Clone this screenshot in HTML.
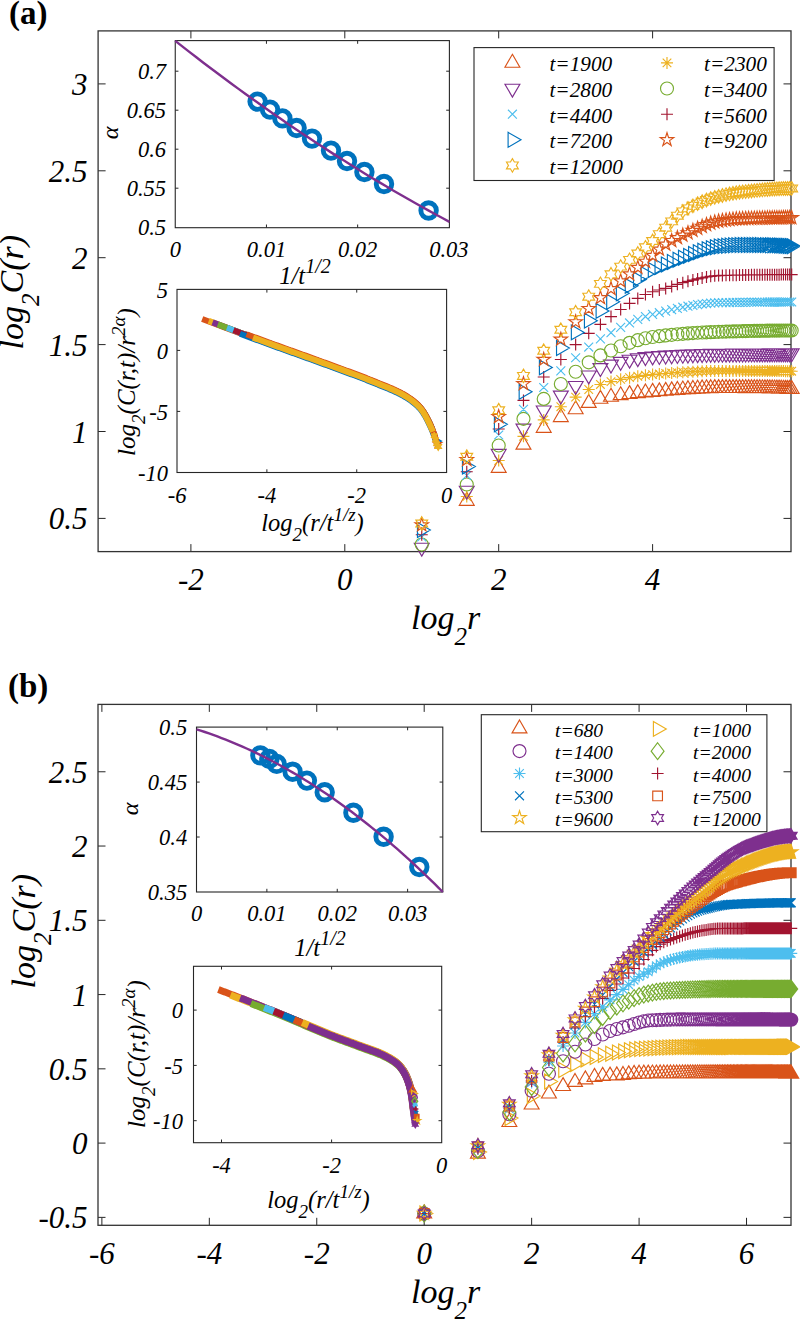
<!DOCTYPE html>
<html><head><meta charset="utf-8"><style>
html,body{margin:0;padding:0;background:#fff;overflow:hidden;width:800px;height:1319px;}
svg{display:block;}
text{font-family:"Liberation Serif",serif;fill:#000;}
</style></head><body>
<svg width="800" height="1319" viewBox="0 0 800 1319">
<rect width="800" height="1319" fill="#fff"/>
<text x="9" y="23.5" font-size="33" text-anchor="start" font-style="normal" font-weight="bold">(a)</text>
<path d="M190.9 551.6V544.1M190.9 30.9V38.4M344.8 551.6V544.1M344.8 30.9V38.4M498.7 551.6V544.1M498.7 30.9V38.4M652.6 551.6V544.1M652.6 30.9V38.4M98.1 518.4H105.6M791 518.4H783.5M98.1 431.5H105.6M791 431.5H783.5M98.1 344.6H105.6M791 344.6H783.5M98.1 257.7H105.6M791 257.7H783.5M98.1 170.8H105.6M791 170.8H783.5M98.1 83.9H105.6M791 83.9H783.5" stroke="#262626" stroke-width="1" fill="none"/>
<rect x="98.1" y="30.9" width="692.9" height="520.7" stroke="#333" stroke-width="1.3" fill="none"/>
<text x="87.5" y="529.4" font-size="31" text-anchor="end" font-style="italic" font-weight="normal">0.5</text>
<text x="87.5" y="442.5" font-size="31" text-anchor="end" font-style="italic" font-weight="normal">1</text>
<text x="87.5" y="355.6" font-size="31" text-anchor="end" font-style="italic" font-weight="normal">1.5</text>
<text x="87.5" y="268.7" font-size="31" text-anchor="end" font-style="italic" font-weight="normal">2</text>
<text x="87.5" y="181.8" font-size="31" text-anchor="end" font-style="italic" font-weight="normal">2.5</text>
<text x="87.5" y="94.9" font-size="31" text-anchor="end" font-style="italic" font-weight="normal">3</text>
<text x="190.9" y="590" font-size="31" text-anchor="middle" font-style="italic" font-weight="normal">-2</text>
<text x="344.8" y="590" font-size="31" text-anchor="middle" font-style="italic" font-weight="normal">0</text>
<text x="498.7" y="590" font-size="31" text-anchor="middle" font-style="italic" font-weight="normal">2</text>
<text x="652.6" y="590" font-size="31" text-anchor="middle" font-style="italic" font-weight="normal">4</text>
<text x="411" y="629.4" font-size="34" text-anchor="start" font-style="italic" font-weight="normal">log<tspan font-size="25" dy="16">2</tspan><tspan dy="-16">r</tspan></text>
<g transform="translate(23.2 349.5) rotate(-90)">
<text x="0" y="0" font-size="34" text-anchor="start" font-style="italic" font-weight="normal">log<tspan font-size="25" dy="16">2</tspan><tspan dy="-16">C(r)</tspan></text>
</g>
<path d="M466.76 492.4L474.21 505.3L459.31 505.3ZM498.7 459.4L506.15 472.3L491.25 472.3ZM523.47 436.27L530.92 449.17L516.02 449.17ZM543.71 419.4L551.16 432.3L536.26 432.3ZM560.83 408.68L568.28 421.58L553.38 421.58ZM575.65 400.8L583.1 413.7L568.2 413.7ZM588.73 394.46L596.18 407.36L581.28 407.36ZM600.42 390.37L607.87 403.27L592.97 403.27ZM611 388.31L618.45 401.21L603.55 401.21ZM620.66 386.79L628.11 399.69L613.21 399.69ZM629.55 385.63L637 398.53L622.1 398.53ZM637.78 384.73L645.23 397.63L630.33 397.63ZM645.44 384.01L652.89 396.91L637.99 396.91ZM652.6 383.4L660.05 396.3L645.15 396.3ZM659.33 382.85L666.78 395.75L651.88 395.75ZM665.68 382.34L673.13 395.24L658.23 395.24ZM671.68 381.87L679.13 394.77L664.23 394.77ZM677.37 381.44L684.82 394.34L669.92 394.34ZM682.79 381.05L690.24 393.95L675.34 393.95ZM687.95 380.72L695.4 393.62L680.5 393.62ZM692.89 380.42L700.34 393.32L685.44 393.32ZM697.61 380.18L705.06 393.08L690.16 393.08ZM702.14 379.98L709.59 392.88L694.69 392.88ZM706.5 379.82L713.95 392.72L699.05 392.72ZM710.69 379.71L718.14 392.61L703.24 392.61ZM714.73 379.64L722.18 392.54L707.28 392.54ZM718.62 379.6L726.07 392.5L711.17 392.5ZM722.39 379.6L729.84 392.5L714.94 392.5ZM726.03 379.6L733.48 392.5L718.58 392.5ZM729.55 379.6L737 392.5L722.1 392.5ZM732.97 379.61L740.42 392.51L725.52 392.51ZM736.28 379.61L743.73 392.51L728.83 392.51ZM739.5 379.62L746.95 392.52L732.05 392.52ZM742.63 379.63L750.08 392.53L735.18 392.53ZM745.67 379.65L753.12 392.55L738.22 392.55ZM748.63 379.66L756.08 392.56L741.18 392.56ZM751.51 379.69L758.96 392.59L744.06 392.59ZM754.32 379.71L761.77 392.61L746.87 392.61ZM757.06 379.74L764.51 392.64L749.61 392.64ZM759.74 379.77L767.19 392.67L752.29 392.67ZM762.35 379.81L769.8 392.71L754.9 392.71ZM764.9 379.85L772.35 392.75L757.45 392.75ZM767.4 379.89L774.85 392.79L759.95 392.79ZM769.84 379.94L777.29 392.84L762.39 392.84ZM772.23 379.99L779.68 392.89L764.78 392.89ZM774.56 380.04L782.01 392.94L767.11 392.94ZM776.85 380.1L784.3 393L769.4 393ZM779.09 380.16L786.54 393.06L771.64 393.06ZM781.29 380.23L788.74 393.13L773.84 393.13ZM783.45 380.29L790.9 393.19L776 393.19ZM785.56 380.37L793.01 393.27L778.11 393.27ZM787.64 380.44L795.09 393.34L780.19 393.34ZM789.68 380.52L797.13 393.42L782.23 393.42ZM791.68 380.6L799.13 393.5L784.23 393.5Z" stroke="#D95319" fill="none" stroke-width="1.15"/>
<path d="M460.76 496.5L472.76 496.5M466.76 490.5L466.76 502.5M462.46 492.2L471.06 500.8M462.46 500.8L471.06 492.2M492.7 460.5L504.7 460.5M498.7 454.5L498.7 466.5M494.4 456.2L503 464.8M494.4 464.8L503 456.2M517.47 436.37L529.47 436.37M523.47 430.37L523.47 442.37M519.17 432.07L527.77 440.67M519.17 440.67L527.77 432.07M537.71 419.9L549.71 419.9M543.71 413.9L543.71 425.9M539.41 415.6L548.01 424.2M539.41 424.2L548.01 415.6M554.83 406.73L566.83 406.73M560.83 400.73L560.83 412.73M556.53 402.43L565.13 411.03M556.53 411.03L565.13 402.43M569.65 397.1L581.65 397.1M575.65 391.1L575.65 403.1M571.35 392.8L579.95 401.4M571.35 401.4L579.95 392.8M582.73 389.5L594.73 389.5M588.73 383.5L588.73 395.5M584.43 385.2L593.03 393.8M584.43 393.8L593.03 385.2M594.42 384.46L606.42 384.46M600.42 378.46L600.42 390.46M596.12 380.16L604.72 388.76M596.12 388.76L604.72 380.16M605 381.59L617 381.59M611 375.59L611 387.59M606.7 377.29L615.3 385.89M606.7 385.89L615.3 377.29M614.66 379.36L626.66 379.36M620.66 373.36L620.66 385.36M616.36 375.06L624.96 383.66M616.36 383.66L624.96 375.06M623.55 377.64L635.55 377.64M629.55 371.64L629.55 383.64M625.25 373.34L633.85 381.94M625.25 381.94L633.85 373.34M631.78 376.32L643.78 376.32M637.78 370.32L637.78 382.32M633.48 372.02L642.08 380.62M633.48 380.62L642.08 372.02M639.44 375.32L651.44 375.32M645.44 369.32L645.44 381.32M641.14 371.02L649.74 379.62M641.14 379.62L649.74 371.02M646.6 374.6L658.6 374.6M652.6 368.6L652.6 380.6M648.3 370.3L656.9 378.9M648.3 378.9L656.9 370.3M653.33 374.02L665.33 374.02M659.33 368.02L659.33 380.02M655.03 369.72L663.63 378.32M655.03 378.32L663.63 369.72M659.68 373.5L671.68 373.5M665.68 367.5L665.68 379.5M661.38 369.2L669.98 377.8M661.38 377.8L669.98 369.2M665.68 373.02L677.68 373.02M671.68 367.02L671.68 379.02M667.38 368.72L675.98 377.32M667.38 377.32L675.98 368.72M671.37 372.6L683.37 372.6M677.37 366.6L677.37 378.6M673.07 368.3L681.67 376.9M673.07 376.9L681.67 368.3M676.79 372.24L688.79 372.24M682.79 366.24L682.79 378.24M678.49 367.94L687.09 376.54M678.49 376.54L687.09 367.94M681.95 371.92L693.95 371.92M687.95 365.92L687.95 377.92M683.65 367.62L692.25 376.22M683.65 376.22L692.25 367.62M686.89 371.65L698.89 371.65M692.89 365.65L692.89 377.65M688.59 367.35L697.19 375.95M688.59 375.95L697.19 367.35M691.61 371.42L703.61 371.42M697.61 365.42L697.61 377.42M693.31 367.12L701.91 375.72M693.31 375.72L701.91 367.12M696.14 371.24L708.14 371.24M702.14 365.24L702.14 377.24M697.84 366.94L706.44 375.54M697.84 375.54L706.44 366.94M700.5 371.1L712.5 371.1M706.5 365.1L706.5 377.1M702.2 366.8L710.8 375.4M702.2 375.4L710.8 366.8M704.69 371L716.69 371M710.69 365L710.69 377M706.39 366.7L714.99 375.3M706.39 375.3L714.99 366.7M708.73 370.93L720.73 370.93M714.73 364.93L714.73 376.93M710.43 366.63L719.03 375.23M710.43 375.23L719.03 366.63M712.62 370.9L724.62 370.9M718.62 364.9L718.62 376.9M714.32 366.6L722.92 375.2M714.32 375.2L722.92 366.6M716.39 370.9L728.39 370.9M722.39 364.9L722.39 376.9M718.09 366.6L726.69 375.2M718.09 375.2L726.69 366.6M720.03 370.9L732.03 370.9M726.03 364.9L726.03 376.9M721.73 366.6L730.33 375.2M721.73 375.2L730.33 366.6M723.55 370.9L735.55 370.9M729.55 364.9L729.55 376.9M725.25 366.6L733.85 375.2M725.25 375.2L733.85 366.6M726.97 370.9L738.97 370.9M732.97 364.9L732.97 376.9M728.67 366.6L737.27 375.2M728.67 375.2L737.27 366.6M730.28 370.9L742.28 370.9M736.28 364.9L736.28 376.9M731.98 366.6L740.58 375.2M731.98 375.2L740.58 366.6M733.5 370.91L745.5 370.91M739.5 364.91L739.5 376.91M735.2 366.61L743.8 375.21M735.2 375.21L743.8 366.61M736.63 370.91L748.63 370.91M742.63 364.91L742.63 376.91M738.33 366.61L746.93 375.21M738.33 375.21L746.93 366.61M739.67 370.91L751.67 370.91M745.67 364.91L745.67 376.91M741.37 366.61L749.97 375.21M741.37 375.21L749.97 366.61M742.63 370.92L754.63 370.92M748.63 364.92L748.63 376.92M744.33 366.62L752.93 375.22M744.33 375.22L752.93 366.62M745.51 370.93L757.51 370.93M751.51 364.93L751.51 376.93M747.21 366.63L755.81 375.23M747.21 375.23L755.81 366.63M748.32 370.93L760.32 370.93M754.32 364.93L754.32 376.93M750.02 366.63L758.62 375.23M750.02 375.23L758.62 366.63M751.06 370.94L763.06 370.94M757.06 364.94L757.06 376.94M752.76 366.64L761.36 375.24M752.76 375.24L761.36 366.64M753.74 370.95L765.74 370.95M759.74 364.95L759.74 376.95M755.44 366.65L764.04 375.25M755.44 375.25L764.04 366.65M756.35 370.96L768.35 370.96M762.35 364.96L762.35 376.96M758.05 366.66L766.65 375.26M758.05 375.26L766.65 366.66M758.9 370.97L770.9 370.97M764.9 364.97L764.9 376.97M760.6 366.67L769.2 375.27M760.6 375.27L769.2 366.67M761.4 370.99L773.4 370.99M767.4 364.99L767.4 376.99M763.1 366.69L771.7 375.29M763.1 375.29L771.7 366.69M763.84 371L775.84 371M769.84 365L769.84 377M765.54 366.7L774.14 375.3M765.54 375.3L774.14 366.7M766.23 371.02L778.23 371.02M772.23 365.02L772.23 377.02M767.93 366.72L776.53 375.32M767.93 375.32L776.53 366.72M768.56 371.03L780.56 371.03M774.56 365.03L774.56 377.03M770.26 366.73L778.86 375.33M770.26 375.33L778.86 366.73M770.85 371.05L782.85 371.05M776.85 365.05L776.85 377.05M772.55 366.75L781.15 375.35M772.55 375.35L781.15 366.75M773.09 371.07L785.09 371.07M779.09 365.07L779.09 377.07M774.79 366.77L783.39 375.37M774.79 375.37L783.39 366.77M775.29 371.09L787.29 371.09M781.29 365.09L781.29 377.09M776.99 366.79L785.59 375.39M776.99 375.39L785.59 366.79M777.45 371.11L789.45 371.11M783.45 365.11L783.45 377.11M779.15 366.81L787.75 375.41M779.15 375.41L787.75 366.81M779.56 371.13L791.56 371.13M785.56 365.13L785.56 377.13M781.26 366.83L789.86 375.43M781.26 375.43L789.86 366.83M781.64 371.15L793.64 371.15M787.64 365.15L787.64 377.15M783.34 366.85L791.94 375.45M783.34 375.45L791.94 366.85M783.68 371.18L795.68 371.18M789.68 365.18L789.68 377.18M785.38 366.88L793.98 375.48M785.38 375.48L793.98 366.88M785.68 371.2L797.68 371.2M791.68 365.2L791.68 377.2M787.38 366.9L795.98 375.5M787.38 375.5L795.98 366.9" stroke="#EDB120" fill="none" stroke-width="1.15"/>
<path d="M421.75 556.1L429.2 543.2L414.3 543.2ZM466.76 499.1L474.21 486.2L459.31 486.2ZM498.7 462.3L506.15 449.4L491.25 449.4ZM523.47 437.06L530.92 424.16L516.02 424.16ZM543.71 418.9L551.16 406L536.26 406ZM560.83 403.98L568.28 391.08L553.38 391.08ZM575.65 394.35L583.1 381.45L568.2 381.45ZM588.73 383.88L596.18 370.98L581.28 370.98ZM600.42 376.55L607.87 363.65L592.97 363.65ZM611 372.98L618.45 360.08L603.55 360.08ZM620.66 370.23L628.11 357.33L613.21 357.33ZM629.55 368.15L637 355.25L622.1 355.25ZM637.78 366.62L645.23 353.72L630.33 353.72ZM645.44 365.56L652.89 352.66L637.99 352.66ZM652.6 364.9L660.05 352L645.15 352ZM659.33 364.45L666.78 351.55L651.88 351.55ZM665.68 364.06L673.13 351.16L658.23 351.16ZM671.68 363.73L679.13 350.83L664.23 350.83ZM677.37 363.44L684.82 350.54L669.92 350.54ZM682.79 363.19L690.24 350.29L675.34 350.29ZM687.95 362.98L695.4 350.08L680.5 350.08ZM692.89 362.8L700.34 349.9L685.44 349.9ZM697.61 362.65L705.06 349.75L690.16 349.75ZM702.14 362.52L709.59 349.62L694.69 349.62ZM706.5 362.42L713.95 349.52L699.05 349.52ZM710.69 362.33L718.14 349.43L703.24 349.43ZM714.73 362.26L722.18 349.36L707.28 349.36ZM718.62 362.21L726.07 349.31L711.17 349.31ZM722.39 362.18L729.84 349.28L714.94 349.28ZM726.03 362.14L733.48 349.24L718.58 349.24ZM729.55 362.11L737 349.21L722.1 349.21ZM732.97 362.08L740.42 349.18L725.52 349.18ZM736.28 362.05L743.73 349.15L728.83 349.15ZM739.5 362.03L746.95 349.13L732.05 349.13ZM742.63 362L750.08 349.1L735.18 349.1ZM745.67 361.98L753.12 349.08L738.22 349.08ZM748.63 361.96L756.08 349.06L741.18 349.06ZM751.51 361.94L758.96 349.04L744.06 349.04ZM754.32 361.92L761.77 349.02L746.87 349.02ZM757.06 361.9L764.51 349L749.61 349ZM759.74 361.89L767.19 348.99L752.29 348.99ZM762.35 361.88L769.8 348.98L754.9 348.98ZM764.9 361.86L772.35 348.96L757.45 348.96ZM767.4 361.85L774.85 348.95L759.95 348.95ZM769.84 361.84L777.29 348.94L762.39 348.94ZM772.23 361.83L779.68 348.93L764.78 348.93ZM774.56 361.83L782.01 348.93L767.11 348.93ZM776.85 361.82L784.3 348.92L769.4 348.92ZM779.09 361.81L786.54 348.91L771.64 348.91ZM781.29 361.81L788.74 348.91L773.84 348.91ZM783.45 361.81L790.9 348.91L776 348.91ZM785.56 361.8L793.01 348.9L778.11 348.9ZM787.64 361.8L795.09 348.9L780.19 348.9ZM789.68 361.8L797.13 348.9L782.23 348.9ZM791.68 361.8L799.13 348.9L784.23 348.9Z" stroke="#7E2F8E" fill="none" stroke-width="1.15"/>
<path d="M415.25 544.5a6.5 6.5 0 1 0 13 0a6.5 6.5 0 1 0 -13 0M460.26 484.5a6.5 6.5 0 1 0 13 0a6.5 6.5 0 1 0 -13 0M492.2 445.5a6.5 6.5 0 1 0 13 0a6.5 6.5 0 1 0 -13 0M516.97 418.85a6.5 6.5 0 1 0 13 0a6.5 6.5 0 1 0 -13 0M537.21 398.9a6.5 6.5 0 1 0 13 0a6.5 6.5 0 1 0 -13 0M554.33 383.98a6.5 6.5 0 1 0 13 0a6.5 6.5 0 1 0 -13 0M569.15 371.75a6.5 6.5 0 1 0 13 0a6.5 6.5 0 1 0 -13 0M582.23 362.3a6.5 6.5 0 1 0 13 0a6.5 6.5 0 1 0 -13 0M593.92 355.43a6.5 6.5 0 1 0 13 0a6.5 6.5 0 1 0 -13 0M604.5 350.47a6.5 6.5 0 1 0 13 0a6.5 6.5 0 1 0 -13 0M614.16 346.26a6.5 6.5 0 1 0 13 0a6.5 6.5 0 1 0 -13 0M623.05 342.83a6.5 6.5 0 1 0 13 0a6.5 6.5 0 1 0 -13 0M631.28 340.17a6.5 6.5 0 1 0 13 0a6.5 6.5 0 1 0 -13 0M638.94 338.24a6.5 6.5 0 1 0 13 0a6.5 6.5 0 1 0 -13 0M646.1 337a6.5 6.5 0 1 0 13 0a6.5 6.5 0 1 0 -13 0M652.83 336.16a6.5 6.5 0 1 0 13 0a6.5 6.5 0 1 0 -13 0M659.18 335.44a6.5 6.5 0 1 0 13 0a6.5 6.5 0 1 0 -13 0M665.18 334.82a6.5 6.5 0 1 0 13 0a6.5 6.5 0 1 0 -13 0M670.87 334.29a6.5 6.5 0 1 0 13 0a6.5 6.5 0 1 0 -13 0M676.29 333.83a6.5 6.5 0 1 0 13 0a6.5 6.5 0 1 0 -13 0M681.45 333.43a6.5 6.5 0 1 0 13 0a6.5 6.5 0 1 0 -13 0M686.39 333.09a6.5 6.5 0 1 0 13 0a6.5 6.5 0 1 0 -13 0M691.11 332.79a6.5 6.5 0 1 0 13 0a6.5 6.5 0 1 0 -13 0M695.64 332.53a6.5 6.5 0 1 0 13 0a6.5 6.5 0 1 0 -13 0M700 332.32a6.5 6.5 0 1 0 13 0a6.5 6.5 0 1 0 -13 0M704.19 332.13a6.5 6.5 0 1 0 13 0a6.5 6.5 0 1 0 -13 0M708.23 331.97a6.5 6.5 0 1 0 13 0a6.5 6.5 0 1 0 -13 0M712.12 331.84a6.5 6.5 0 1 0 13 0a6.5 6.5 0 1 0 -13 0M715.89 331.73a6.5 6.5 0 1 0 13 0a6.5 6.5 0 1 0 -13 0M719.53 331.62a6.5 6.5 0 1 0 13 0a6.5 6.5 0 1 0 -13 0M723.05 331.52a6.5 6.5 0 1 0 13 0a6.5 6.5 0 1 0 -13 0M726.47 331.43a6.5 6.5 0 1 0 13 0a6.5 6.5 0 1 0 -13 0M729.78 331.34a6.5 6.5 0 1 0 13 0a6.5 6.5 0 1 0 -13 0M733 331.26a6.5 6.5 0 1 0 13 0a6.5 6.5 0 1 0 -13 0M736.13 331.18a6.5 6.5 0 1 0 13 0a6.5 6.5 0 1 0 -13 0M739.17 331.11a6.5 6.5 0 1 0 13 0a6.5 6.5 0 1 0 -13 0M742.13 331.04a6.5 6.5 0 1 0 13 0a6.5 6.5 0 1 0 -13 0M745.01 330.97a6.5 6.5 0 1 0 13 0a6.5 6.5 0 1 0 -13 0M747.82 330.92a6.5 6.5 0 1 0 13 0a6.5 6.5 0 1 0 -13 0M750.56 330.86a6.5 6.5 0 1 0 13 0a6.5 6.5 0 1 0 -13 0M753.24 330.81a6.5 6.5 0 1 0 13 0a6.5 6.5 0 1 0 -13 0M755.85 330.77a6.5 6.5 0 1 0 13 0a6.5 6.5 0 1 0 -13 0M758.4 330.72a6.5 6.5 0 1 0 13 0a6.5 6.5 0 1 0 -13 0M760.9 330.69a6.5 6.5 0 1 0 13 0a6.5 6.5 0 1 0 -13 0M763.34 330.65a6.5 6.5 0 1 0 13 0a6.5 6.5 0 1 0 -13 0M765.73 330.62a6.5 6.5 0 1 0 13 0a6.5 6.5 0 1 0 -13 0M768.06 330.59a6.5 6.5 0 1 0 13 0a6.5 6.5 0 1 0 -13 0M770.35 330.57a6.5 6.5 0 1 0 13 0a6.5 6.5 0 1 0 -13 0M772.59 330.55a6.5 6.5 0 1 0 13 0a6.5 6.5 0 1 0 -13 0M774.79 330.54a6.5 6.5 0 1 0 13 0a6.5 6.5 0 1 0 -13 0M776.95 330.52a6.5 6.5 0 1 0 13 0a6.5 6.5 0 1 0 -13 0M779.06 330.51a6.5 6.5 0 1 0 13 0a6.5 6.5 0 1 0 -13 0M781.14 330.51a6.5 6.5 0 1 0 13 0a6.5 6.5 0 1 0 -13 0M783.18 330.5a6.5 6.5 0 1 0 13 0a6.5 6.5 0 1 0 -13 0M785.18 330.5a6.5 6.5 0 1 0 13 0a6.5 6.5 0 1 0 -13 0" stroke="#77AC30" fill="none" stroke-width="1.15"/>
<path d="M417.3 532.55L426.2 541.45M417.3 541.45L426.2 532.55M462.31 471.05L471.21 479.95M462.31 479.95L471.21 471.05M494.25 430.55L503.15 439.45M494.25 439.45L503.15 430.55M519.02 404.79L527.92 413.69M519.02 413.69L527.92 404.79M539.26 383.05L548.16 391.95M539.26 391.95L548.16 383.05M556.38 366.42L565.28 375.32M556.38 375.32L565.28 366.42M571.2 353.3L580.1 362.2M571.2 362.2L580.1 353.3M584.28 342.63L593.18 351.53M584.28 351.53L593.18 342.63M595.97 334.46L604.87 343.36M595.97 343.36L604.87 334.46M606.55 328.27L615.45 337.17M606.55 337.17L615.45 328.27M616.21 322.96L625.11 331.86M616.21 331.86L625.11 322.96M625.1 318.53L634 327.43M625.1 327.43L634 318.53M633.33 314.92L642.23 323.82M633.33 323.82L642.23 314.92M640.99 312.08L649.89 320.98M640.99 320.98L649.89 312.08M648.15 309.95L657.05 318.85M648.15 318.85L657.05 309.95M654.88 308.22L663.78 317.12M654.88 317.12L663.78 308.22M661.23 306.64L670.13 315.54M661.23 315.54L670.13 306.64M667.23 305.21L676.13 314.11M667.23 314.11L676.13 305.21M672.92 303.92L681.82 312.82M672.92 312.82L681.82 303.92M678.34 302.77L687.24 311.67M678.34 311.67L687.24 302.77M683.5 301.77L692.4 310.67M683.5 310.67L692.4 301.77M688.44 300.9L697.34 309.8M688.44 309.8L697.34 300.9M693.16 300.17L702.06 309.07M693.16 309.07L702.06 300.17M697.69 299.56L706.59 308.46M697.69 308.46L706.59 299.56M702.05 299.07L710.95 307.97M702.05 307.97L710.95 299.07M706.24 298.7L715.14 307.6M706.24 307.6L715.14 298.7M710.28 298.44L719.18 307.34M710.28 307.34L719.18 298.44M714.17 298.28L723.07 307.18M714.17 307.18L723.07 298.28M717.94 298.21L726.84 307.11M717.94 307.11L726.84 298.21M721.58 298.14L730.48 307.04M721.58 307.04L730.48 298.14M725.1 298.08L734 306.98M725.1 306.98L734 298.08M728.52 298.03L737.42 306.93M728.52 306.93L737.42 298.03M731.83 297.98L740.73 306.88M731.83 306.88L740.73 297.98M735.05 297.93L743.95 306.83M735.05 306.83L743.95 297.93M738.18 297.89L747.08 306.79M738.18 306.79L747.08 297.89M741.22 297.85L750.12 306.75M741.22 306.75L750.12 297.85M744.18 297.81L753.08 306.71M744.18 306.71L753.08 297.81M747.06 297.78L755.96 306.68M747.06 306.68L755.96 297.78M749.87 297.75L758.77 306.65M749.87 306.65L758.77 297.75M752.61 297.72L761.51 306.62M752.61 306.62L761.51 297.72M755.29 297.7L764.19 306.6M755.29 306.6L764.19 297.7M757.9 297.67L766.8 306.57M757.9 306.57L766.8 297.67M760.45 297.65L769.35 306.55M760.45 306.55L769.35 297.65M762.95 297.63L771.85 306.53M762.95 306.53L771.85 297.63M765.39 297.62L774.29 306.52M765.39 306.52L774.29 297.62M767.78 297.6L776.68 306.5M767.78 306.5L776.68 297.6M770.11 297.59L779.01 306.49M770.11 306.49L779.01 297.59M772.4 297.58L781.3 306.48M772.4 306.48L781.3 297.58M774.64 297.57L783.54 306.47M774.64 306.47L783.54 297.57M776.84 297.57L785.74 306.47M776.84 306.47L785.74 297.57M779 297.56L787.9 306.46M779 306.46L787.9 297.56M781.11 297.56L790.01 306.46M781.11 306.46L790.01 297.56M783.19 297.55L792.09 306.45M783.19 306.45L792.09 297.55M785.23 297.55L794.13 306.45M785.23 306.45L794.13 297.55M787.23 297.55L796.13 306.45M787.23 306.45L796.13 297.55" stroke="#4DBEEE" fill="none" stroke-width="1.15"/>
<path d="M415.75 534.7L427.75 534.7M421.75 528.7L421.75 540.7M460.76 471.7L472.76 471.7M466.76 465.7L466.76 477.7M492.7 429L504.7 429M498.7 423L498.7 435M517.47 400.43L529.47 400.43M523.47 394.43L523.47 406.43M537.71 377L549.71 377M543.71 371L543.71 383M554.83 359.47L566.83 359.47M560.83 353.47L560.83 365.47M569.65 344.6L581.65 344.6M575.65 338.6L575.65 350.6M582.73 333.35L594.73 333.35M588.73 327.35L588.73 339.35M594.42 324.39L606.42 324.39M600.42 318.39L600.42 330.39M605 316.61L617 316.61M611 310.61L611 322.61M614.66 309.54L626.66 309.54M620.66 303.54L620.66 315.54M623.55 303.43L635.55 303.43M629.55 297.43L629.55 309.43M631.78 298.4L643.78 298.4M637.78 292.4L637.78 304.4M639.44 294.49L651.44 294.49M645.44 288.49L645.44 300.49M646.6 291.7L658.6 291.7M652.6 285.7L652.6 297.7M653.33 290L665.33 290M659.33 284L659.33 296M659.68 288.44L671.68 288.44M665.68 282.44L665.68 294.44M665.68 286.4L677.68 286.4M671.68 280.4L671.68 292.4M671.37 284.34L683.37 284.34M677.37 278.34L677.37 290.34M676.79 282.65L688.79 282.65M682.79 276.65L682.79 288.65M681.95 281.34L693.95 281.34M687.95 275.34L687.95 287.34M686.89 280.07L698.89 280.07M692.89 274.07L692.89 286.07M691.61 278.91L703.61 278.91M697.61 272.91L697.61 284.91M696.14 277.88L708.14 277.88M702.14 271.88L702.14 283.88M700.5 277.01L712.5 277.01M706.5 271.01L706.5 283.01M704.69 276.32L716.69 276.32M710.69 270.32L710.69 282.32M708.73 275.83L720.73 275.83M714.73 269.83L714.73 281.83M712.62 275.55L724.62 275.55M718.62 269.55L718.62 281.55M716.39 275.44L728.39 275.44M722.39 269.44L722.39 281.44M720.03 275.35L732.03 275.35M726.03 269.35L726.03 281.35M723.55 275.27L735.55 275.27M729.55 269.27L729.55 281.27M726.97 275.2L738.97 275.2M732.97 269.2L732.97 281.2M730.28 275.13L742.28 275.13M736.28 269.13L736.28 281.13M733.5 275.07L745.5 275.07M739.5 269.07L739.5 281.07M736.63 275.01L748.63 275.01M742.63 269.01L742.63 281.01M739.67 274.96L751.67 274.96M745.67 268.96L745.67 280.96M742.63 274.92L754.63 274.92M748.63 268.92L748.63 280.92M745.51 274.87L757.51 274.87M751.51 268.87L751.51 280.87M748.32 274.84L760.32 274.84M754.32 268.84L754.32 280.84M751.06 274.8L763.06 274.8M757.06 268.8L757.06 280.8M753.74 274.77L765.74 274.77M759.74 268.77L759.74 280.77M756.35 274.74L768.35 274.74M762.35 268.74L762.35 280.74M758.9 274.72L770.9 274.72M764.9 268.72L764.9 280.72M761.4 274.7L773.4 274.7M767.4 268.7L767.4 280.7M763.84 274.68L775.84 274.68M769.84 268.68L769.84 280.68M766.23 274.66L778.23 274.66M772.23 268.66L772.23 280.66M768.56 274.65L780.56 274.65M774.56 268.65L774.56 280.65M770.85 274.64L782.85 274.64M776.85 268.64L776.85 280.64M773.09 274.63L785.09 274.63M779.09 268.63L779.09 280.63M775.29 274.62L787.29 274.62M781.29 268.62L781.29 280.62M777.45 274.61L789.45 274.61M783.45 268.61L783.45 280.61M779.56 274.61L791.56 274.61M785.56 268.61L785.56 280.61M781.64 274.6L793.64 274.6M787.64 268.6L787.64 280.6M783.68 274.6L795.68 274.6M789.68 268.6L789.68 280.6M785.68 274.6L797.68 274.6M791.68 268.6L791.68 280.6" stroke="#A2142F" fill="none" stroke-width="1.15"/>
<path d="M430.35 530L417.45 522.55L417.45 537.45ZM475.36 466.5L462.46 459.05L462.46 473.95ZM507.3 424.2L494.4 416.75L494.4 431.65ZM532.07 391.71L519.17 384.26L519.17 399.16ZM552.31 367.4L539.41 359.95L539.41 374.85ZM569.43 348.07L556.53 340.62L556.53 355.52ZM584.25 332.4L571.35 324.95L571.35 339.85ZM597.33 320.64L584.43 313.19L584.43 328.09ZM609.02 310.88L596.12 303.43L596.12 318.33ZM619.6 301.81L606.7 294.36L606.7 309.26ZM629.26 293.36L616.36 285.91L616.36 300.81ZM638.15 285.84L625.25 278.39L625.25 293.29ZM646.38 279.4L633.48 271.95L633.48 286.85ZM654.04 274.12L641.14 266.67L641.14 281.57ZM661.2 270L648.3 262.55L648.3 277.45ZM667.93 267.06L655.03 259.61L655.03 274.51ZM674.28 264.56L661.38 257.11L661.38 272.01ZM680.28 262.07L667.38 254.62L667.38 269.52ZM685.97 259.75L673.07 252.3L673.07 267.2ZM691.39 257.71L678.49 250.26L678.49 265.16ZM696.55 255.85L683.65 248.4L683.65 263.3ZM701.49 254L688.59 246.55L688.59 261.45ZM706.21 252.25L693.31 244.8L693.31 259.7ZM710.74 250.65L697.84 243.2L697.84 258.1ZM715.1 249.26L702.2 241.81L702.2 256.71ZM719.29 248.09L706.39 240.64L706.39 255.54ZM723.33 247.19L710.43 239.74L710.43 254.64ZM727.22 246.56L714.32 239.11L714.32 254.01ZM730.99 246.16L718.09 238.71L718.09 253.61ZM734.63 245.82L721.73 238.37L721.73 253.27ZM738.15 245.53L725.25 238.08L725.25 252.98ZM741.57 245.29L728.67 237.84L728.67 252.74ZM744.88 245.12L731.98 237.67L731.98 252.57ZM748.1 245.02L735.2 237.57L735.2 252.47ZM751.23 245L738.33 237.55L738.33 252.45ZM754.27 245L741.37 237.55L741.37 252.45ZM757.23 245L744.33 237.55L744.33 252.45ZM760.11 245.01L747.21 237.56L747.21 252.46ZM762.92 245.02L750.02 237.57L750.02 252.47ZM765.66 245.03L752.76 237.58L752.76 252.48ZM768.34 245.06L755.44 237.61L755.44 252.51ZM770.95 245.08L758.05 237.63L758.05 252.53ZM773.5 245.12L760.6 237.67L760.6 252.57ZM776 245.16L763.1 237.71L763.1 252.61ZM778.44 245.21L765.54 237.76L765.54 252.66ZM780.83 245.27L767.93 237.82L767.93 252.72ZM783.16 245.34L770.26 237.89L770.26 252.79ZM785.45 245.42L772.55 237.97L772.55 252.87ZM787.69 245.5L774.79 238.05L774.79 252.95ZM789.89 245.6L776.99 238.15L776.99 253.05ZM792.05 245.7L779.15 238.25L779.15 253.15ZM794.16 245.81L781.26 238.36L781.26 253.26ZM796.24 245.93L783.34 238.48L783.34 253.38ZM798.28 246.06L785.38 238.61L785.38 253.51ZM800.28 246.2L787.38 238.75L787.38 253.65Z" stroke="#0072BD" fill="none" stroke-width="1.15"/>
<path d="M421.75 517.9L423.34 522.81L428.5 522.81L424.33 525.84L425.92 530.74L421.75 527.71L417.58 530.74L419.17 525.84L415 522.81L420.16 522.81ZM466.76 452.6L468.36 457.51L473.52 457.51L469.34 460.54L470.94 465.45L466.76 462.42L462.59 465.45L464.18 460.54L460.01 457.51L465.17 457.51ZM498.7 409.6L500.29 414.51L505.45 414.51L501.28 417.54L502.87 422.44L498.7 419.41L494.53 422.44L496.12 417.54L491.95 414.51L497.11 414.51ZM523.47 376.71L525.07 381.62L530.22 381.62L526.05 384.65L527.65 389.56L523.47 386.53L519.3 389.56L520.89 384.65L516.72 381.62L521.88 381.62ZM543.71 352.4L545.31 357.31L550.47 357.31L546.29 360.34L547.89 365.25L543.71 362.22L539.54 365.25L541.13 360.34L536.96 357.31L542.12 357.31ZM560.83 332.27L562.42 337.17L567.58 337.17L563.41 340.21L565 345.11L560.83 342.08L556.65 345.11L558.25 340.21L554.07 337.17L559.23 337.17ZM575.65 314.8L577.24 319.71L582.4 319.71L578.23 322.74L579.82 327.64L575.65 324.61L571.48 327.64L573.07 322.74L568.9 319.71L574.06 319.71ZM588.73 301.56L590.32 306.47L595.48 306.47L591.31 309.5L592.9 314.41L588.73 311.38L584.55 314.41L586.15 309.5L581.97 306.47L587.13 306.47ZM600.42 290.77L602.02 295.67L607.17 295.67L603 298.71L604.6 303.61L600.42 300.58L596.25 303.61L597.84 298.71L593.67 295.67L598.83 295.67ZM611 281.7L612.6 286.6L617.76 286.6L613.58 289.63L615.18 294.54L611 291.51L606.83 294.54L608.42 289.63L604.25 286.6L609.41 286.6ZM620.66 273.9L622.26 278.8L627.42 278.8L623.24 281.84L624.84 286.74L620.66 283.71L616.49 286.74L618.08 281.84L613.91 278.8L619.07 278.8ZM629.55 266.92L631.14 271.83L636.3 271.83L632.13 274.86L633.72 279.77L629.55 276.74L625.38 279.77L626.97 274.86L622.8 271.83L627.95 271.83ZM637.78 260.47L639.37 265.38L644.53 265.38L640.36 268.41L641.95 273.32L637.78 270.29L633.6 273.32L635.2 268.41L631.02 265.38L636.18 265.38ZM645.44 254.35L647.03 259.25L652.19 259.25L648.01 262.28L649.61 267.19L645.44 264.16L641.26 267.19L642.86 262.28L638.68 259.25L643.84 259.25ZM652.6 248.4L654.19 253.31L659.35 253.31L655.18 256.34L656.77 261.24L652.6 258.21L648.43 261.24L650.02 256.34L645.85 253.31L651.01 253.31ZM659.33 242.21L660.92 247.12L666.08 247.12L661.91 250.15L663.5 255.06L659.33 252.03L655.16 255.06L656.75 250.15L652.58 247.12L657.74 247.12ZM665.68 237.19L667.27 242.1L672.43 242.1L668.26 245.13L669.85 250.03L665.68 247L661.5 250.03L663.1 245.13L658.92 242.1L664.08 242.1ZM671.68 233.61L673.27 238.52L678.43 238.52L674.26 241.55L675.85 246.46L671.68 243.42L667.5 246.46L669.1 241.55L664.93 238.52L670.08 238.52ZM677.37 230.69L678.97 235.6L684.12 235.6L679.95 238.63L681.55 243.54L677.37 240.51L673.2 243.54L674.79 238.63L670.62 235.6L675.78 235.6ZM682.79 228.17L684.38 233.07L689.54 233.07L685.37 236.11L686.96 241.01L682.79 237.98L678.62 241.01L680.21 236.11L676.04 233.07L681.19 233.07ZM687.95 225.79L689.55 230.7L694.71 230.7L690.53 233.73L692.13 238.63L687.95 235.6L683.78 238.63L685.37 233.73L681.2 230.7L686.36 230.7ZM692.89 223.48L694.48 228.39L699.64 228.39L695.47 231.42L697.06 236.32L692.89 233.29L688.71 236.32L690.31 231.42L686.14 228.39L691.29 228.39ZM697.61 221.31L699.21 226.22L704.37 226.22L700.19 229.25L701.79 234.16L697.61 231.13L693.44 234.16L695.03 229.25L690.86 226.22L696.02 226.22ZM702.14 219.35L703.74 224.25L708.9 224.25L704.72 227.28L706.32 232.19L702.14 229.16L697.97 232.19L699.57 227.28L695.39 224.25L700.55 224.25ZM706.5 217.62L708.09 222.52L713.25 222.52L709.08 225.55L710.67 230.46L706.5 227.43L702.33 230.46L703.92 225.55L699.75 222.52L704.9 222.52ZM710.69 216.16L712.28 221.06L717.44 221.06L713.27 224.1L714.86 229L710.69 225.97L706.52 229L708.11 224.1L703.94 221.06L709.09 221.06ZM714.73 214.99L716.32 219.9L721.48 219.9L717.31 222.93L718.9 227.84L714.73 224.8L710.55 227.84L712.15 222.93L707.97 219.9L713.13 219.9ZM718.62 214.13L720.22 219.04L725.37 219.04L721.2 222.07L722.79 226.98L718.62 223.95L714.45 226.98L716.04 222.07L711.87 219.04L717.03 219.04ZM722.39 213.54L723.98 218.45L729.14 218.45L724.96 221.48L726.56 226.39L722.39 223.35L718.21 226.39L719.81 221.48L715.63 218.45L720.79 218.45ZM726.03 213.04L727.62 217.94L732.78 217.94L728.6 220.97L730.2 225.88L726.03 222.85L721.85 225.88L723.45 220.97L719.27 217.94L724.43 217.94ZM729.55 212.6L731.14 217.51L736.3 217.51L732.13 220.54L733.72 225.45L729.55 222.41L725.38 225.45L726.97 220.54L722.8 217.51L727.96 217.51ZM732.97 212.24L734.56 217.15L739.72 217.15L735.55 220.18L737.14 225.09L732.97 222.06L728.79 225.09L730.39 220.18L726.21 217.15L731.37 217.15ZM736.28 211.96L737.87 216.87L743.03 216.87L738.86 219.9L740.45 224.8L736.28 221.77L732.11 224.8L733.7 219.9L729.53 216.87L734.69 216.87ZM739.5 211.75L741.09 216.66L746.25 216.66L742.08 219.69L743.67 224.6L739.5 221.57L735.33 224.6L736.92 219.69L732.75 216.66L737.9 216.66ZM742.63 211.62L744.22 216.53L749.38 216.53L745.21 219.56L746.8 224.47L742.63 221.44L738.45 224.47L740.05 219.56L735.87 216.53L741.03 216.53ZM745.67 211.52L747.26 216.43L752.42 216.43L748.25 219.46L749.84 224.36L745.67 221.33L741.49 224.36L743.09 219.46L738.91 216.43L744.07 216.43ZM748.63 211.42L750.22 216.33L755.38 216.33L751.21 219.36L752.8 224.27L748.63 221.24L744.45 224.27L746.05 219.36L741.88 216.33L747.03 216.33ZM751.51 211.34L753.11 216.24L758.26 216.24L754.09 219.27L755.68 224.18L751.51 221.15L747.34 224.18L748.93 219.27L744.76 216.24L749.92 216.24ZM754.32 211.25L755.92 216.16L761.07 216.16L756.9 219.19L758.5 224.1L754.32 221.07L750.15 224.1L751.74 219.19L747.57 216.16L752.73 216.16ZM757.06 211.18L758.66 216.08L763.82 216.09L759.64 219.12L761.24 224.02L757.06 220.99L752.89 224.02L754.48 219.12L750.31 216.09L755.47 216.08ZM759.74 211.11L761.33 216.02L766.49 216.02L762.32 219.05L763.91 223.95L759.74 220.92L755.57 223.95L757.16 219.05L752.99 216.02L758.14 216.02ZM762.35 211.05L763.95 215.95L769.1 215.95L764.93 218.99L766.52 223.89L762.35 220.86L758.18 223.89L759.77 218.99L755.6 215.95L760.76 215.95ZM764.9 210.99L766.5 215.9L771.66 215.9L767.48 218.93L769.08 223.84L764.9 220.81L760.73 223.84L762.32 218.93L758.15 215.9L763.31 215.9ZM767.4 210.94L768.99 215.85L774.15 215.85L769.98 218.88L771.57 223.79L767.4 220.75L763.22 223.79L764.82 218.88L760.65 215.85L765.8 215.85ZM769.84 210.9L771.43 215.8L776.59 215.8L772.42 218.84L774.01 223.74L769.84 220.71L765.66 223.74L767.26 218.84L763.09 215.8L768.24 215.8ZM772.23 210.86L773.82 215.76L778.98 215.76L774.81 218.8L776.4 223.7L772.23 220.67L768.05 223.7L769.65 218.8L765.47 215.76L770.63 215.76ZM774.56 210.82L776.16 215.73L781.32 215.73L777.14 218.76L778.74 223.67L774.56 220.63L770.39 223.67L771.98 218.76L767.81 215.73L772.97 215.73ZM776.85 210.79L778.45 215.7L783.6 215.7L779.43 218.73L781.03 223.64L776.85 220.6L772.68 223.64L774.27 218.73L770.1 215.7L775.26 215.7ZM779.09 210.77L780.69 215.67L785.85 215.67L781.67 218.71L783.27 223.61L779.09 220.58L774.92 223.61L776.52 218.71L772.34 215.67L777.5 215.67ZM781.29 210.75L782.89 215.65L788.05 215.65L783.87 218.68L785.47 223.59L781.29 220.56L777.12 223.59L778.71 218.68L774.54 215.65L779.7 215.65ZM783.45 210.73L785.04 215.63L790.2 215.63L786.03 218.67L787.62 223.57L783.45 220.54L779.28 223.57L780.87 218.67L776.7 215.63L781.85 215.63ZM785.56 210.72L787.16 215.62L792.32 215.62L788.14 218.65L789.74 223.56L785.56 220.53L781.39 223.56L782.98 218.65L778.81 215.62L783.97 215.62ZM787.64 210.71L789.23 215.61L794.39 215.61L790.22 218.65L791.81 223.55L787.64 220.52L783.47 223.55L785.06 218.65L780.89 215.61L786.04 215.61ZM789.68 210.7L791.27 215.61L796.43 215.61L792.26 218.64L793.85 223.55L789.68 220.51L785.5 223.55L787.1 218.64L782.92 215.61L788.08 215.61ZM791.68 210.7L793.27 215.61L798.43 215.61L794.26 218.64L795.85 223.54L791.68 220.51L787.5 223.54L789.1 218.64L784.92 215.61L790.08 215.61Z" stroke="#D95319" fill="none" stroke-width="1.15"/>
<path d="M421.75 516.7L423.71 520.1L427.64 520.1L425.68 523.5L427.64 526.9L423.71 526.9L421.75 530.3L419.79 526.9L415.86 526.9L417.82 523.5L415.86 520.1L419.79 520.1ZM466.76 449.9L468.73 453.3L472.65 453.3L470.69 456.7L472.65 460.1L468.73 460.1L466.76 463.5L464.8 460.1L460.87 460.1L462.84 456.7L460.87 453.3L464.8 453.3ZM498.7 403.4L500.66 406.8L504.59 406.8L502.63 410.2L504.59 413.6L500.66 413.6L498.7 417L496.74 413.6L492.81 413.6L494.77 410.2L492.81 406.8L496.74 406.8ZM523.47 369.11L525.44 372.51L529.36 372.51L527.4 375.91L529.36 379.31L525.44 379.31L523.47 382.71L521.51 379.31L517.58 379.31L519.55 375.91L517.58 372.51L521.51 372.51ZM543.71 343.95L545.68 347.35L549.6 347.35L547.64 350.75L549.6 354.15L545.68 354.15L543.71 357.55L541.75 354.15L537.82 354.15L539.79 350.75L537.82 347.35L541.75 347.35ZM560.83 322.92L562.79 326.32L566.71 326.32L564.75 329.72L566.71 333.12L562.79 333.12L560.83 336.52L558.86 333.12L554.94 333.12L556.9 329.72L554.94 326.32L558.86 326.32ZM575.65 305.45L577.61 308.85L581.54 308.85L579.58 312.25L581.54 315.65L577.61 315.65L575.65 319.05L573.69 315.65L569.76 315.65L571.72 312.25L569.76 308.85L573.69 308.85ZM588.73 289.85L590.69 293.25L594.61 293.25L592.65 296.65L594.61 300.05L590.69 300.05L588.73 303.45L586.76 300.05L582.84 300.05L584.8 296.65L582.84 293.25L586.76 293.25ZM600.42 277.06L602.39 280.46L606.31 280.46L604.35 283.86L606.31 287.26L602.39 287.26L600.42 290.66L598.46 287.26L594.53 287.26L596.5 283.86L594.53 280.46L598.46 280.46ZM611 267.52L612.97 270.92L616.89 270.92L614.93 274.32L616.89 277.72L612.97 277.72L611 281.12L609.04 277.72L605.11 277.72L607.08 274.32L605.11 270.92L609.04 270.92ZM620.66 259.8L622.63 263.2L626.55 263.2L624.59 266.6L626.55 270L622.63 270L620.66 273.4L618.7 270L614.77 270L616.74 266.6L614.77 263.2L618.7 263.2ZM629.55 253.05L631.51 256.45L635.44 256.45L633.47 259.85L635.44 263.25L631.51 263.25L629.55 266.65L627.59 263.25L623.66 263.25L625.62 259.85L623.66 256.45L627.59 256.45ZM637.78 246.75L639.74 250.15L643.66 250.15L641.7 253.55L643.66 256.95L639.74 256.95L637.78 260.35L635.81 256.95L631.89 256.95L633.85 253.55L631.89 250.15L635.81 250.15ZM645.44 240.54L647.4 243.94L651.32 243.94L649.36 247.34L651.32 250.74L647.4 250.74L645.44 254.14L643.47 250.74L639.55 250.74L641.51 247.34L639.55 243.94L643.47 243.94ZM652.6 234.2L654.56 237.6L658.49 237.6L656.53 241L658.49 244.4L654.56 244.4L652.6 247.8L650.64 244.4L646.71 244.4L648.67 241L646.71 237.6L650.64 237.6ZM659.33 227.39L661.29 230.79L665.22 230.79L663.26 234.19L665.22 237.59L661.29 237.59L659.33 240.99L657.37 237.59L653.44 237.59L655.4 234.19L653.44 230.79L657.37 230.79ZM665.68 220.88L667.64 224.28L671.56 224.28L669.6 227.68L671.56 231.08L667.64 231.08L665.68 234.48L663.71 231.08L659.79 231.08L661.75 227.68L659.79 224.28L663.71 224.28ZM671.68 214.58L673.64 217.98L677.57 217.98L675.6 221.38L677.57 224.78L673.64 224.78L671.68 228.18L669.72 224.78L665.79 224.78L667.75 221.38L665.79 217.98L669.72 217.98ZM677.37 208.86L679.34 212.26L683.26 212.26L681.3 215.66L683.26 219.06L679.34 219.06L677.37 222.46L675.41 219.06L671.48 219.06L673.45 215.66L671.48 212.26L675.41 212.26ZM682.79 204.56L684.75 207.96L688.68 207.96L686.71 211.36L688.68 214.76L684.75 214.76L682.79 218.16L680.83 214.76L676.9 214.76L678.86 211.36L676.9 207.96L680.83 207.96ZM687.95 201.59L689.92 204.99L693.84 204.99L691.88 208.39L693.84 211.79L689.92 211.79L687.95 215.19L685.99 211.79L682.06 211.79L684.03 208.39L682.06 204.99L685.99 204.99ZM692.89 199.03L694.85 202.43L698.78 202.43L696.81 205.83L698.78 209.23L694.85 209.23L692.89 212.63L690.93 209.23L687 209.23L688.96 205.83L687 202.43L690.93 202.43ZM697.61 196.82L699.58 200.22L703.5 200.22L701.54 203.62L703.5 207.02L699.58 207.02L697.61 210.42L695.65 207.02L691.72 207.02L693.69 203.62L691.72 200.22L695.65 200.22ZM702.14 194.91L704.11 198.31L708.03 198.31L706.07 201.71L708.03 205.11L704.11 205.11L702.14 208.51L700.18 205.11L696.26 205.11L698.22 201.71L696.26 198.31L700.18 198.31ZM706.5 193.26L708.46 196.66L712.39 196.66L710.42 200.06L712.39 203.46L708.46 203.46L706.5 206.86L704.54 203.46L700.61 203.46L702.57 200.06L700.61 196.66L704.54 196.66ZM710.69 191.83L712.65 195.23L716.58 195.23L714.61 198.63L716.58 202.03L712.65 202.03L710.69 205.43L708.73 202.03L704.8 202.03L706.76 198.63L704.8 195.23L708.73 195.23ZM714.73 190.61L716.69 194.01L720.61 194.01L718.65 197.41L720.61 200.81L716.69 200.81L714.73 204.21L712.76 200.81L708.84 200.81L710.8 197.41L708.84 194.01L712.76 194.01ZM718.62 189.55L720.58 192.95L724.51 192.95L722.55 196.35L724.51 199.75L720.58 199.75L718.62 203.15L716.66 199.75L712.73 199.75L714.7 196.35L712.73 192.95L716.66 192.95ZM722.39 188.63L724.35 192.03L728.27 192.03L726.31 195.43L728.27 198.83L724.35 198.83L722.39 202.23L720.42 198.83L716.5 198.83L718.46 195.43L716.5 192.03L720.42 192.03ZM726.03 187.81L727.99 191.21L731.91 191.21L729.95 194.61L731.91 198.01L727.99 198.01L726.03 201.41L724.06 198.01L720.14 198.01L722.1 194.61L720.14 191.21L724.06 191.21ZM729.55 187.09L731.51 190.49L735.44 190.49L733.48 193.89L735.44 197.29L731.51 197.29L729.55 200.69L727.59 197.29L723.66 197.29L725.62 193.89L723.66 190.49L727.59 190.49ZM732.97 186.47L734.93 189.87L738.86 189.87L736.89 193.27L738.86 196.67L734.93 196.67L732.97 200.07L731 196.67L727.08 196.67L729.04 193.27L727.08 189.87L731 189.87ZM736.28 185.93L738.24 189.33L742.17 189.33L740.21 192.73L742.17 196.13L738.24 196.13L736.28 199.53L734.32 196.13L730.39 196.13L732.35 192.73L730.39 189.33L734.32 189.33ZM739.5 185.48L741.46 188.88L745.39 188.88L743.42 192.28L745.39 195.68L741.46 195.68L739.5 199.08L737.54 195.68L733.61 195.68L735.57 192.28L733.61 188.88L737.54 188.88ZM742.63 185.12L744.59 188.52L748.51 188.52L746.55 191.92L748.51 195.32L744.59 195.32L742.63 198.72L740.66 195.32L736.74 195.32L738.7 191.92L736.74 188.52L740.66 188.52ZM745.67 184.78L747.63 188.18L751.56 188.18L749.59 191.58L751.56 194.98L747.63 194.98L745.67 198.38L743.7 194.98L739.78 194.98L741.74 191.58L739.78 188.18L743.7 188.18ZM748.63 184.46L750.59 187.86L754.52 187.86L752.55 191.26L754.52 194.66L750.59 194.66L748.63 198.06L746.67 194.66L742.74 194.66L744.7 191.26L742.74 187.86L746.67 187.86ZM751.51 184.16L753.47 187.56L757.4 187.56L755.44 190.96L757.4 194.36L753.47 194.36L751.51 197.76L749.55 194.36L745.62 194.36L747.59 190.96L745.62 187.56L749.55 187.56ZM754.32 183.87L756.29 187.27L760.21 187.27L758.25 190.67L760.21 194.07L756.29 194.07L754.32 197.47L752.36 194.07L748.43 194.07L750.4 190.67L748.43 187.27L752.36 187.27ZM757.06 183.59L759.03 186.99L762.95 186.99L760.99 190.39L762.95 193.79L759.03 193.79L757.06 197.19L755.1 193.79L751.17 193.79L753.14 190.39L751.17 186.99L755.1 186.99ZM759.74 183.33L761.7 186.73L765.63 186.73L763.66 190.13L765.63 193.53L761.7 193.53L759.74 196.93L757.78 193.53L753.85 193.53L755.81 190.13L753.85 186.73L757.78 186.73ZM762.35 183.09L764.31 186.49L768.24 186.49L766.28 189.89L768.24 193.29L764.31 193.29L762.35 196.69L760.39 193.29L756.46 193.29L758.43 189.89L756.46 186.49L760.39 186.49ZM764.9 182.87L766.87 186.27L770.79 186.27L768.83 189.67L770.79 193.07L766.87 193.07L764.9 196.47L762.94 193.07L759.01 193.07L760.98 189.67L759.01 186.27L762.94 186.27ZM767.4 182.66L769.36 186.06L773.29 186.06L771.32 189.46L773.29 192.86L769.36 192.86L767.4 196.26L765.44 192.86L761.51 192.86L763.47 189.46L761.51 186.06L765.44 186.06ZM769.84 182.48L771.8 185.88L775.73 185.88L773.76 189.28L775.73 192.68L771.8 192.68L769.84 196.08L767.88 192.68L763.95 192.68L765.91 189.28L763.95 185.88L767.88 185.88ZM772.23 182.31L774.19 185.71L778.11 185.71L776.15 189.11L778.11 192.51L774.19 192.51L772.23 195.91L770.26 192.51L766.34 192.51L768.3 189.11L766.34 185.71L770.26 185.71ZM774.56 182.16L776.53 185.56L780.45 185.56L778.49 188.96L780.45 192.36L776.53 192.36L774.56 195.76L772.6 192.36L768.67 192.36L770.64 188.96L768.67 185.56L772.6 185.56ZM776.85 182.03L778.81 185.43L782.74 185.43L780.78 188.83L782.74 192.23L778.81 192.23L776.85 195.63L774.89 192.23L770.96 192.23L772.93 188.83L770.96 185.43L774.89 185.43ZM779.09 181.91L781.06 185.31L784.98 185.31L783.02 188.71L784.98 192.11L781.06 192.11L779.09 195.51L777.13 192.11L773.21 192.11L775.17 188.71L773.21 185.31L777.13 185.31ZM781.29 181.82L783.26 185.22L787.18 185.22L785.22 188.62L787.18 192.02L783.26 192.02L781.29 195.42L779.33 192.02L775.4 192.02L777.37 188.62L775.4 185.22L779.33 185.22ZM783.45 181.74L785.41 185.14L789.34 185.14L787.37 188.54L789.34 191.94L785.41 191.94L783.45 195.34L781.49 191.94L777.56 191.94L779.52 188.54L777.56 185.14L781.49 185.14ZM785.56 181.68L787.53 185.08L791.45 185.08L789.49 188.48L791.45 191.88L787.53 191.88L785.56 195.28L783.6 191.88L779.67 191.88L781.64 188.48L779.67 185.08L783.6 185.08ZM787.64 181.63L789.6 185.03L793.53 185.03L791.56 188.43L793.53 191.83L789.6 191.83L787.64 195.23L785.68 191.83L781.75 191.83L783.71 188.43L781.75 185.03L785.68 185.03ZM789.68 181.61L791.64 185.01L795.56 185.01L793.6 188.41L795.56 191.81L791.64 191.81L789.68 195.21L787.71 191.81L783.79 191.81L785.75 188.41L783.79 185.01L787.71 185.01ZM791.68 181.6L793.64 185L797.56 185L795.6 188.4L797.56 191.8L793.64 191.8L791.68 195.2L789.71 191.8L785.79 191.8L787.75 188.4L785.79 185L789.71 185Z" stroke="#EDB120" fill="none" stroke-width="1.15"/>
<rect x="175.25" y="40.6" width="274.15" height="187.1" fill="#fff"/>
<path d="M266.45 227.7V224.5M266.45 40.6V43.8M357.65 227.7V224.5M357.65 40.6V43.8M175.25 188.2H178.45M449.4 188.2H446.2M175.25 149.2H178.45M449.4 149.2H446.2M175.25 110.2H178.45M449.4 110.2H446.2M175.25 71.2H178.45M449.4 71.2H446.2" stroke="#262626" stroke-width="1" fill="none"/>
<rect x="175.25" y="40.6" width="274.15" height="187.1" stroke="#262626" stroke-width="1.1" fill="none"/>
<text x="166" y="235.4" font-size="22.5" text-anchor="end" font-style="italic" font-weight="normal">0.5</text>
<text x="166" y="196.4" font-size="22.5" text-anchor="end" font-style="italic" font-weight="normal">0.55</text>
<text x="166" y="157.4" font-size="22.5" text-anchor="end" font-style="italic" font-weight="normal">0.6</text>
<text x="166" y="118.4" font-size="22.5" text-anchor="end" font-style="italic" font-weight="normal">0.65</text>
<text x="166" y="79.4" font-size="22.5" text-anchor="end" font-style="italic" font-weight="normal">0.7</text>
<text x="175.25" y="256.6" font-size="22.5" text-anchor="middle" font-style="italic" font-weight="normal">0</text>
<text x="266.45" y="256.6" font-size="22.5" text-anchor="middle" font-style="italic" font-weight="normal">0.01</text>
<text x="357.65" y="256.6" font-size="22.5" text-anchor="middle" font-style="italic" font-weight="normal">0.02</text>
<text x="448.85" y="256.6" font-size="22.5" text-anchor="middle" font-style="italic" font-weight="normal">0.03</text>
<g transform="translate(118.2 133) rotate(-90)">
<text x="0" y="0" font-size="24" text-anchor="middle" font-style="italic" font-weight="normal">α</text>
</g>
<text x="305" y="284" font-size="24.5" text-anchor="middle" font-style="italic" font-weight="normal">1/t<tspan font-size="20" dy="-11">1/2</tspan></text>
<g stroke="#0072BD" stroke-width="4.9" fill="none"><circle cx="257.6" cy="101.6" r="7.75"/><circle cx="270" cy="109.6" r="7.75"/><circle cx="282.4" cy="118.4" r="7.75"/><circle cx="296.6" cy="128" r="7.75"/><circle cx="312" cy="138.6" r="7.75"/><circle cx="331" cy="150.6" r="7.75"/><circle cx="347" cy="161" r="7.75"/><circle cx="364.4" cy="172" r="7.75"/><circle cx="384" cy="184" r="7.75"/><circle cx="428.6" cy="210.5" r="7.75"/></g>
<path d="M175.25 40.89 L182.28 46.41 L189.31 51.88 L196.34 57.31 L203.37 62.69 L210.4 68.03 L217.43 73.32 L224.46 78.56 L231.49 83.75 L238.52 88.9 L245.54 94.01 L252.57 99.06 L259.6 104.07 L266.63 109.04 L273.66 113.95 L280.69 118.83 L287.72 123.65 L294.75 128.43 L301.78 133.16 L308.81 137.85 L315.84 142.49 L322.87 147.08 L329.9 151.62 L336.93 156.13 L343.96 160.58 L350.99 164.99 L358.02 169.35 L365.05 173.66 L372.08 177.93 L379.11 182.15 L386.13 186.33 L393.16 190.46 L400.19 194.54 L407.22 198.58 L414.25 202.57 L421.28 206.51 L428.31 210.41 L435.34 214.26 L442.37 218.06 L449.4 221.82" stroke="#7E2F8E" stroke-width="2.4" fill="none"/>
<rect x="177" y="289.4" width="269.6" height="183.1" fill="#fff"/>
<path d="M266.88 472.5V469.3M266.88 289.4V292.6M356.74 472.5V469.3M356.74 289.4V292.6M177 411.4H180.2M446.6 411.4H443.4M177 350.4H180.2M446.6 350.4H443.4" stroke="#262626" stroke-width="1" fill="none"/>
<rect x="177" y="289.4" width="269.6" height="183.1" stroke="#262626" stroke-width="1.1" fill="none"/>
<text x="168" y="297.6" font-size="22.5" text-anchor="end" font-style="italic" font-weight="normal">5</text>
<text x="168" y="358.6" font-size="22.5" text-anchor="end" font-style="italic" font-weight="normal">0</text>
<text x="168" y="419.6" font-size="22.5" text-anchor="end" font-style="italic" font-weight="normal">-5</text>
<text x="168" y="480.6" font-size="22.5" text-anchor="end" font-style="italic" font-weight="normal">-10</text>
<text x="177.02" y="503" font-size="22.5" text-anchor="middle" font-style="italic" font-weight="normal">-6</text>
<text x="266.88" y="503" font-size="22.5" text-anchor="middle" font-style="italic" font-weight="normal">-4</text>
<text x="356.74" y="503" font-size="22.5" text-anchor="middle" font-style="italic" font-weight="normal">-2</text>
<text x="446.6" y="503" font-size="22.5" text-anchor="middle" font-style="italic" font-weight="normal">0</text>
<text x="312.5" y="531" font-size="24.5" text-anchor="middle" font-style="italic" font-weight="normal">log<tspan font-size="19" dy="10">2</tspan><tspan dy="-10">(r/t</tspan><tspan font-size="19" dy="-10">1/z</tspan><tspan dy="10">)</tspan></text>
<g transform="translate(134.5 382) rotate(-90)">
<text x="0" y="0" font-size="25" text-anchor="middle" font-style="italic" font-weight="normal">log<tspan font-size="19" dy="10">2</tspan><tspan dy="-10">(C(r,t)/r</tspan><tspan font-size="19" dy="-10">2α</tspan><tspan dy="10">)</tspan></text>
</g>
<path d="M202.2 319 L203.52 319.5 L204.85 319.99 L206.17 320.49 L207.49 320.99 L208.81 321.48 L210.14 321.98 L211.46 322.47 L212.78 322.97 L214.11 323.46 L215.43 323.96 L216.75 324.45 L218.08 324.95 L219.4 325.44 L220.72 325.94 L222.05 326.43 L223.37 326.92 L224.69 327.42 L226.02 327.91 L227.34 328.4 L228.67 328.89 L229.99 329.39 L231.31 329.88 L232.64 330.37 L233.96 330.86 L235.29 331.35 L236.61 331.84 L237.94 332.34 L239.26 332.83 L240.59 333.32 L241.91 333.81 L243.24 334.3 L244.56 334.79 L245.89 335.28 L247.21 335.77 L248.54 336.25 L249.86 336.74 L251.19 337.23 L252.51 337.72 L253.84 338.21 L255.16 338.7 L256.49 339.18 L257.82 339.67 L259.14 340.16 L260.47 340.64 L261.79 341.13 L263.12 341.62 L264.45 342.1 L265.77 342.59 L267.1 343.08 L268.43 343.56 L269.75 344.04 L271.08 344.53 L272.41 345.01 L273.74 345.49 L275.07 345.97 L276.39 346.45 L277.72 346.93 L279.05 347.41 L280.38 347.89 L281.71 348.37 L283.04 348.85 L284.37 349.33 L285.7 349.8 L287.03 350.28 L288.36 350.76 L289.69 351.23 L291.02 351.71 L292.35 352.19 L293.68 352.66 L295.01 353.14 L296.34 353.62 L297.67 354.09 L299 354.57 L300.33 355.05 L301.66 355.52 L302.99 356 L304.32 356.48 L305.65 356.95 L306.98 357.43 L308.31 357.91 L309.63 358.39 L310.96 358.87 L312.29 359.35 L313.62 359.83 L314.95 360.31 L316.28 360.79 L317.61 361.27 L318.93 361.75 L320.26 362.23 L321.59 362.72 L322.92 363.2 L324.24 363.69 L325.57 364.17 L326.89 364.66 L328.22 365.15 L329.55 365.64 L330.87 366.13 L332.2 366.62 L333.52 367.1 L334.85 367.59 L336.17 368.08 L337.5 368.56 L338.83 369.05 L340.16 369.54 L341.48 370.02 L342.81 370.51 L344.14 370.99 L345.47 371.48 L346.79 371.96 L348.12 372.45 L349.45 372.94 L350.78 373.43 L352.1 373.91 L353.43 374.41 L354.75 374.9 L356.08 375.39 L357.4 375.89 L358.72 376.39 L360.04 376.89 L361.36 377.39 L362.68 377.89 L364 378.4 L365.32 378.91 L366.63 379.42 L367.95 379.94 L369.26 380.45 L370.57 380.98 L371.88 381.5 L373.19 382.03 L374.5 382.56 L375.8 383.1 L377.11 383.64 L378.42 384.17 L379.74 384.7 L381.06 385.23 L382.38 385.76 L383.71 386.29 L385.03 386.82 L386.36 387.36 L387.68 387.9 L389 388.44 L390.32 388.99 L391.63 389.54 L392.93 390.11 L394.23 390.68 L395.53 391.26 L396.81 391.86 L398.08 392.46 L399.35 393.08 L400.6 393.71 L401.84 394.36 L403.06 395.02 L404.27 395.7 L405.46 396.4 L406.65 397.12 L407.83 397.86 L409.02 398.64 L410.21 399.44 L411.39 400.27 L412.56 401.12 L413.71 402 L414.84 402.89 L415.94 403.82 L417.01 404.76 L418.05 405.72 L419.05 406.7 L420 407.7 L420.9 408.72 L421.77 409.78 L422.6 410.89 L423.41 412.05 L424.19 413.24 L424.94 414.46 L425.67 415.7 L426.38 416.95 L427.06 418.21 L427.72 419.47 L428.36 420.72 L428.99 421.98 L429.62 423.24 L430.23 424.51" stroke="#D95319" stroke-width="6" fill="none" stroke-linecap="butt"/>
<path d="M208.71 320.88 L210.04 321.38 L211.36 321.87 L212.68 322.37 L214.01 322.86 L215.33 323.36 L216.65 323.85 L217.98 324.35 L219.3 324.84 L220.62 325.34 L221.95 325.83 L223.27 326.32 L224.59 326.82 L225.92 327.31 L227.24 327.8 L228.57 328.29 L229.89 328.79 L231.21 329.28 L232.54 329.77 L233.86 330.26 L235.19 330.75 L236.51 331.24 L237.84 331.74 L239.16 332.23 L240.49 332.72 L241.81 333.21 L243.14 333.7 L244.46 334.19 L245.79 334.68 L247.11 335.17 L248.44 335.65 L249.76 336.14 L251.09 336.63 L252.41 337.12 L253.74 337.61 L255.06 338.1 L256.39 338.58 L257.72 339.07 L259.04 339.56 L260.37 340.04 L261.69 340.53 L263.02 341.02 L264.35 341.5 L265.67 341.99 L267 342.48 L268.33 342.96 L269.65 343.44 L270.98 343.93 L272.31 344.41 L273.64 344.89 L274.97 345.37 L276.29 345.85 L277.62 346.33 L278.95 346.81 L280.28 347.29 L281.61 347.77 L282.94 348.25 L284.27 348.73 L285.6 349.2 L286.93 349.68 L288.26 350.16 L289.59 350.63 L290.92 351.11 L292.25 351.59 L293.58 352.06 L294.91 352.54 L296.24 353.02 L297.57 353.49 L298.9 353.97 L300.23 354.45 L301.56 354.92 L302.89 355.4 L304.22 355.88 L305.55 356.35 L306.88 356.83 L308.21 357.31 L309.53 357.79 L310.86 358.27 L312.19 358.75 L313.52 359.23 L314.85 359.71 L316.18 360.19 L317.51 360.67 L318.83 361.15 L320.16 361.63 L321.49 362.12 L322.82 362.6 L324.14 363.09 L325.47 363.57 L326.79 364.06 L328.12 364.55 L329.45 365.04 L330.77 365.53 L332.1 366.02 L333.42 366.5 L334.75 366.99 L336.07 367.48 L337.4 367.96 L338.73 368.45 L340.06 368.94 L341.38 369.42 L342.71 369.91 L344.04 370.39 L345.37 370.88 L346.69 371.36 L348.02 371.85 L349.35 372.34 L350.68 372.83 L352 373.31 L353.33 373.81 L354.65 374.3 L355.98 374.79 L357.3 375.29 L358.62 375.79 L359.94 376.29 L361.26 376.79 L362.58 377.29 L363.9 377.8 L365.22 378.31 L366.53 378.82 L367.85 379.34 L369.16 379.85 L370.47 380.38 L371.78 380.9 L373.09 381.43 L374.4 381.96 L375.7 382.5 L377.01 383.04 L378.32 383.57 L379.64 384.1 L380.96 384.63 L382.28 385.16 L383.61 385.69 L384.93 386.22 L386.26 386.76 L387.58 387.3 L388.9 387.84 L390.22 388.39 L391.53 388.94 L392.83 389.51 L394.13 390.08 L395.43 390.66 L396.71 391.26 L397.98 391.86 L399.25 392.48 L400.5 393.11 L401.74 393.76 L402.96 394.42 L404.17 395.1 L405.36 395.8 L406.55 396.52 L407.73 397.26 L408.92 398.04 L410.11 398.84 L411.29 399.67 L412.46 400.52 L413.61 401.4 L414.74 402.29 L415.84 403.22 L416.91 404.16 L417.95 405.12 L418.95 406.1 L419.9 407.1 L420.8 408.12 L421.67 409.18 L422.5 410.29 L423.31 411.45 L424.09 412.64 L424.84 413.86 L425.57 415.1 L426.28 416.35 L426.96 417.61 L427.62 418.87 L428.26 420.12 L428.89 421.38 L429.52 422.64 L430.13 423.91 L430.73 425.2 L431.31 426.49" stroke="#EDB120" stroke-width="6" fill="none" stroke-linecap="butt"/>
<path d="M212.58 322.37 L213.91 322.86 L215.23 323.36 L216.55 323.85 L217.88 324.35 L219.2 324.84 L220.52 325.34 L221.85 325.83 L223.17 326.32 L224.49 326.82 L225.82 327.31 L227.14 327.8 L228.47 328.29 L229.79 328.79 L231.11 329.28 L232.44 329.77 L233.76 330.26 L235.09 330.75 L236.41 331.24 L237.74 331.74 L239.06 332.23 L240.39 332.72 L241.71 333.21 L243.04 333.7 L244.36 334.19 L245.69 334.68 L247.01 335.17 L248.34 335.65 L249.66 336.14 L250.99 336.63 L252.31 337.12 L253.64 337.61 L254.96 338.1 L256.29 338.58 L257.62 339.07 L258.94 339.56 L260.27 340.04 L261.59 340.53 L262.92 341.02 L264.25 341.5 L265.57 341.99 L266.9 342.48 L268.23 342.96 L269.55 343.44 L270.88 343.93 L272.21 344.41 L273.54 344.89 L274.87 345.37 L276.19 345.85 L277.52 346.33 L278.85 346.81 L280.18 347.29 L281.51 347.77 L282.84 348.25 L284.17 348.73 L285.5 349.2 L286.83 349.68 L288.16 350.16 L289.49 350.63 L290.82 351.11 L292.15 351.59 L293.48 352.06 L294.81 352.54 L296.14 353.02 L297.47 353.49 L298.8 353.97 L300.13 354.45 L301.46 354.92 L302.79 355.4 L304.12 355.88 L305.45 356.35 L306.78 356.83 L308.11 357.31 L309.43 357.79 L310.76 358.27 L312.09 358.75 L313.42 359.23 L314.75 359.71 L316.08 360.19 L317.41 360.67 L318.73 361.15 L320.06 361.63 L321.39 362.12 L322.72 362.6 L324.04 363.09 L325.37 363.57 L326.69 364.06 L328.02 364.55 L329.35 365.04 L330.67 365.53 L332 366.02 L333.32 366.5 L334.65 366.99 L335.97 367.48 L337.3 367.96 L338.63 368.45 L339.96 368.94 L341.28 369.42 L342.61 369.91 L343.94 370.39 L345.27 370.88 L346.59 371.36 L347.92 371.85 L349.25 372.34 L350.58 372.83 L351.9 373.31 L353.23 373.81 L354.55 374.3 L355.88 374.79 L357.2 375.29 L358.52 375.79 L359.84 376.29 L361.16 376.79 L362.48 377.29 L363.8 377.8 L365.12 378.31 L366.43 378.82 L367.75 379.34 L369.06 379.85 L370.37 380.38 L371.68 380.9 L372.99 381.43 L374.3 381.96 L375.6 382.5 L376.91 383.04 L378.22 383.57 L379.54 384.1 L380.86 384.63 L382.18 385.16 L383.51 385.69 L384.83 386.22 L386.16 386.76 L387.48 387.3 L388.8 387.84 L390.12 388.39 L391.43 388.94 L392.73 389.51 L394.03 390.08 L395.33 390.66 L396.61 391.26 L397.88 391.86 L399.15 392.48 L400.4 393.11 L401.64 393.76 L402.86 394.42 L404.07 395.1 L405.26 395.8 L406.45 396.52 L407.63 397.26 L408.82 398.04 L410.01 398.84 L411.19 399.67 L412.36 400.52 L413.51 401.4 L414.64 402.29 L415.74 403.22 L416.81 404.16 L417.85 405.12 L418.85 406.1 L419.8 407.1 L420.7 408.12 L421.57 409.18 L422.4 410.29 L423.21 411.45 L423.99 412.64 L424.74 413.86 L425.47 415.1 L426.18 416.35 L426.86 417.61 L427.52 418.87 L428.16 420.12 L428.79 421.38 L429.42 422.64 L430.03 423.91 L430.63 425.2 L431.21 426.49 L431.79 427.79 L432.35 429.1" stroke="#7E2F8E" stroke-width="6" fill="none" stroke-linecap="butt"/>
<path d="M217.78 324.35 L219.1 324.84 L220.42 325.34 L221.75 325.83 L223.07 326.32 L224.39 326.82 L225.72 327.31 L227.04 327.8 L228.37 328.29 L229.69 328.79 L231.01 329.28 L232.34 329.77 L233.66 330.26 L234.99 330.75 L236.31 331.24 L237.64 331.74 L238.96 332.23 L240.29 332.72 L241.61 333.21 L242.94 333.7 L244.26 334.19 L245.59 334.68 L246.91 335.17 L248.24 335.65 L249.56 336.14 L250.89 336.63 L252.21 337.12 L253.54 337.61 L254.86 338.1 L256.19 338.58 L257.52 339.07 L258.84 339.56 L260.17 340.04 L261.49 340.53 L262.82 341.02 L264.15 341.5 L265.47 341.99 L266.8 342.48 L268.13 342.96 L269.45 343.44 L270.78 343.93 L272.11 344.41 L273.44 344.89 L274.77 345.37 L276.09 345.85 L277.42 346.33 L278.75 346.81 L280.08 347.29 L281.41 347.77 L282.74 348.25 L284.07 348.73 L285.4 349.2 L286.73 349.68 L288.06 350.16 L289.39 350.63 L290.72 351.11 L292.05 351.59 L293.38 352.06 L294.71 352.54 L296.04 353.02 L297.37 353.49 L298.7 353.97 L300.03 354.45 L301.36 354.92 L302.69 355.4 L304.02 355.88 L305.35 356.35 L306.68 356.83 L308.01 357.31 L309.33 357.79 L310.66 358.27 L311.99 358.75 L313.32 359.23 L314.65 359.71 L315.98 360.19 L317.31 360.67 L318.63 361.15 L319.96 361.63 L321.29 362.12 L322.62 362.6 L323.94 363.09 L325.27 363.57 L326.59 364.06 L327.92 364.55 L329.25 365.04 L330.57 365.53 L331.9 366.02 L333.22 366.5 L334.55 366.99 L335.87 367.48 L337.2 367.96 L338.53 368.45 L339.86 368.94 L341.18 369.42 L342.51 369.91 L343.84 370.39 L345.17 370.88 L346.49 371.36 L347.82 371.85 L349.15 372.34 L350.48 372.83 L351.8 373.31 L353.13 373.81 L354.45 374.3 L355.78 374.79 L357.1 375.29 L358.42 375.79 L359.74 376.29 L361.06 376.79 L362.38 377.29 L363.7 377.8 L365.02 378.31 L366.33 378.82 L367.65 379.34 L368.96 379.85 L370.27 380.38 L371.58 380.9 L372.89 381.43 L374.2 381.96 L375.5 382.5 L376.81 383.04 L378.12 383.57 L379.44 384.1 L380.76 384.63 L382.08 385.16 L383.41 385.69 L384.73 386.22 L386.06 386.76 L387.38 387.3 L388.7 387.84 L390.02 388.39 L391.33 388.94 L392.63 389.51 L393.93 390.08 L395.23 390.66 L396.51 391.26 L397.78 391.86 L399.05 392.48 L400.3 393.11 L401.54 393.76 L402.76 394.42 L403.97 395.1 L405.16 395.8 L406.35 396.52 L407.53 397.26 L408.72 398.04 L409.91 398.84 L411.09 399.67 L412.26 400.52 L413.41 401.4 L414.54 402.29 L415.64 403.22 L416.71 404.16 L417.75 405.12 L418.75 406.1 L419.7 407.1 L420.6 408.12 L421.47 409.18 L422.3 410.29 L423.11 411.45 L423.89 412.64 L424.64 413.86 L425.37 415.1 L426.08 416.35 L426.76 417.61 L427.42 418.87 L428.06 420.12 L428.69 421.38 L429.32 422.64 L429.93 423.91 L430.53 425.2 L431.11 426.49 L431.69 427.79 L432.25 429.1 L432.79 430.41 L433.31 431.73" stroke="#77AC30" stroke-width="6" fill="none" stroke-linecap="butt"/>
<path d="M226.94 327.8 L228.27 328.29 L229.59 328.79 L230.91 329.28 L232.24 329.77 L233.56 330.26 L234.89 330.75 L236.21 331.24 L237.54 331.74 L238.86 332.23 L240.19 332.72 L241.51 333.21 L242.84 333.7 L244.16 334.19 L245.49 334.68 L246.81 335.17 L248.14 335.65 L249.46 336.14 L250.79 336.63 L252.11 337.12 L253.44 337.61 L254.76 338.1 L256.09 338.58 L257.42 339.07 L258.74 339.56 L260.07 340.04 L261.39 340.53 L262.72 341.02 L264.05 341.5 L265.37 341.99 L266.7 342.48 L268.03 342.96 L269.35 343.44 L270.68 343.93 L272.01 344.41 L273.34 344.89 L274.67 345.37 L275.99 345.85 L277.32 346.33 L278.65 346.81 L279.98 347.29 L281.31 347.77 L282.64 348.25 L283.97 348.73 L285.3 349.2 L286.63 349.68 L287.96 350.16 L289.29 350.63 L290.62 351.11 L291.95 351.59 L293.28 352.06 L294.61 352.54 L295.94 353.02 L297.27 353.49 L298.6 353.97 L299.93 354.45 L301.26 354.92 L302.59 355.4 L303.92 355.88 L305.25 356.35 L306.58 356.83 L307.91 357.31 L309.23 357.79 L310.56 358.27 L311.89 358.75 L313.22 359.23 L314.55 359.71 L315.88 360.19 L317.21 360.67 L318.53 361.15 L319.86 361.63 L321.19 362.12 L322.52 362.6 L323.84 363.09 L325.17 363.57 L326.49 364.06 L327.82 364.55 L329.15 365.04 L330.47 365.53 L331.8 366.02 L333.12 366.5 L334.45 366.99 L335.77 367.48 L337.1 367.96 L338.43 368.45 L339.76 368.94 L341.08 369.42 L342.41 369.91 L343.74 370.39 L345.07 370.88 L346.39 371.36 L347.72 371.85 L349.05 372.34 L350.38 372.83 L351.7 373.31 L353.03 373.81 L354.35 374.3 L355.68 374.79 L357 375.29 L358.32 375.79 L359.64 376.29 L360.96 376.79 L362.28 377.29 L363.6 377.8 L364.92 378.31 L366.23 378.82 L367.55 379.34 L368.86 379.85 L370.17 380.38 L371.48 380.9 L372.79 381.43 L374.1 381.96 L375.4 382.5 L376.71 383.04 L378.02 383.57 L379.34 384.1 L380.66 384.63 L381.98 385.16 L383.31 385.69 L384.63 386.22 L385.96 386.76 L387.28 387.3 L388.6 387.84 L389.92 388.39 L391.23 388.94 L392.53 389.51 L393.83 390.08 L395.13 390.66 L396.41 391.26 L397.68 391.86 L398.95 392.48 L400.2 393.11 L401.44 393.76 L402.66 394.42 L403.87 395.1 L405.06 395.8 L406.25 396.52 L407.43 397.26 L408.62 398.04 L409.81 398.84 L410.99 399.67 L412.16 400.52 L413.31 401.4 L414.44 402.29 L415.54 403.22 L416.61 404.16 L417.65 405.12 L418.65 406.1 L419.6 407.1 L420.5 408.12 L421.37 409.18 L422.2 410.29 L423.01 411.45 L423.79 412.64 L424.54 413.86 L425.27 415.1 L425.98 416.35 L426.66 417.61 L427.32 418.87 L427.96 420.12 L428.59 421.38 L429.22 422.64 L429.83 423.91 L430.43 425.2 L431.01 426.49 L431.59 427.79 L432.15 429.1 L432.69 430.41 L433.21 431.73 L433.72 433.06 L434.2 434.39" stroke="#4DBEEE" stroke-width="6" fill="none" stroke-linecap="butt"/>
<path d="M233.46 330.26 L234.79 330.75 L236.11 331.24 L237.44 331.74 L238.76 332.23 L240.09 332.72 L241.41 333.21 L242.74 333.7 L244.06 334.19 L245.39 334.68 L246.71 335.17 L248.04 335.65 L249.36 336.14 L250.69 336.63 L252.01 337.12 L253.34 337.61 L254.66 338.1 L255.99 338.58 L257.32 339.07 L258.64 339.56 L259.97 340.04 L261.29 340.53 L262.62 341.02 L263.95 341.5 L265.27 341.99 L266.6 342.48 L267.93 342.96 L269.25 343.44 L270.58 343.93 L271.91 344.41 L273.24 344.89 L274.57 345.37 L275.89 345.85 L277.22 346.33 L278.55 346.81 L279.88 347.29 L281.21 347.77 L282.54 348.25 L283.87 348.73 L285.2 349.2 L286.53 349.68 L287.86 350.16 L289.19 350.63 L290.52 351.11 L291.85 351.59 L293.18 352.06 L294.51 352.54 L295.84 353.02 L297.17 353.49 L298.5 353.97 L299.83 354.45 L301.16 354.92 L302.49 355.4 L303.82 355.88 L305.15 356.35 L306.48 356.83 L307.81 357.31 L309.13 357.79 L310.46 358.27 L311.79 358.75 L313.12 359.23 L314.45 359.71 L315.78 360.19 L317.11 360.67 L318.43 361.15 L319.76 361.63 L321.09 362.12 L322.42 362.6 L323.74 363.09 L325.07 363.57 L326.39 364.06 L327.72 364.55 L329.05 365.04 L330.37 365.53 L331.7 366.02 L333.02 366.5 L334.35 366.99 L335.67 367.48 L337 367.96 L338.33 368.45 L339.66 368.94 L340.98 369.42 L342.31 369.91 L343.64 370.39 L344.97 370.88 L346.29 371.36 L347.62 371.85 L348.95 372.34 L350.28 372.83 L351.6 373.31 L352.93 373.81 L354.25 374.3 L355.58 374.79 L356.9 375.29 L358.22 375.79 L359.54 376.29 L360.86 376.79 L362.18 377.29 L363.5 377.8 L364.82 378.31 L366.13 378.82 L367.45 379.34 L368.76 379.85 L370.07 380.38 L371.38 380.9 L372.69 381.43 L374 381.96 L375.3 382.5 L376.61 383.04 L377.92 383.57 L379.24 384.1 L380.56 384.63 L381.88 385.16 L383.21 385.69 L384.53 386.22 L385.86 386.76 L387.18 387.3 L388.5 387.84 L389.82 388.39 L391.13 388.94 L392.43 389.51 L393.73 390.08 L395.03 390.66 L396.31 391.26 L397.58 391.86 L398.85 392.48 L400.1 393.11 L401.34 393.76 L402.56 394.42 L403.77 395.1 L404.96 395.8 L406.15 396.52 L407.33 397.26 L408.52 398.04 L409.71 398.84 L410.89 399.67 L412.06 400.52 L413.21 401.4 L414.34 402.29 L415.44 403.22 L416.51 404.16 L417.55 405.12 L418.55 406.1 L419.5 407.1 L420.4 408.12 L421.27 409.18 L422.1 410.29 L422.91 411.45 L423.69 412.64 L424.44 413.86 L425.17 415.1 L425.88 416.35 L426.56 417.61 L427.22 418.87 L427.86 420.12 L428.49 421.38 L429.12 422.64 L429.73 423.91 L430.33 425.2 L430.91 426.49 L431.49 427.79 L432.05 429.1 L432.59 430.41 L433.11 431.73 L433.62 433.06 L434.1 434.39 L434.56 435.72 L435 437.06 L435.42 438.4" stroke="#A2142F" stroke-width="6" fill="none" stroke-linecap="butt"/>
<path d="M239.99 333.72 L241.31 334.21 L242.64 334.7 L243.96 335.19 L245.29 335.68 L246.61 336.17 L247.94 336.65 L249.26 337.14 L250.59 337.63 L251.91 338.12 L253.24 338.61 L254.56 339.1 L255.89 339.58 L257.22 340.07 L258.54 340.56 L259.87 341.04 L261.19 341.53 L262.52 342.02 L263.85 342.5 L265.17 342.99 L266.5 343.48 L267.83 343.96 L269.15 344.44 L270.48 344.93 L271.81 345.41 L273.14 345.89 L274.47 346.37 L275.79 346.85 L277.12 347.33 L278.45 347.81 L279.78 348.29 L281.11 348.77 L282.44 349.25 L283.77 349.73 L285.1 350.2 L286.43 350.68 L287.76 351.16 L289.09 351.63 L290.42 352.11 L291.75 352.59 L293.08 353.06 L294.41 353.54 L295.74 354.02 L297.07 354.49 L298.4 354.97 L299.73 355.45 L301.06 355.92 L302.39 356.4 L303.72 356.88 L305.05 357.35 L306.38 357.83 L307.71 358.31 L309.03 358.79 L310.36 359.27 L311.69 359.75 L313.02 360.23 L314.35 360.71 L315.68 361.19 L317.01 361.67 L318.33 362.15 L319.66 362.63 L320.99 363.12 L322.32 363.6 L323.64 364.09 L324.97 364.57 L326.29 365.06 L327.62 365.55 L328.95 366.04 L330.27 366.53 L331.6 367.02 L332.92 367.5 L334.25 367.99 L335.57 368.48 L336.9 368.96 L338.23 369.45 L339.56 369.94 L340.88 370.42 L342.21 370.91 L343.54 371.39 L344.87 371.88 L346.19 372.36 L347.52 372.85 L348.85 373.34 L350.18 373.83 L351.5 374.31 L352.83 374.81 L354.15 375.3 L355.48 375.79 L356.8 376.29 L358.12 376.79 L359.44 377.29 L360.76 377.79 L362.08 378.29 L363.4 378.8 L364.72 379.31 L366.03 379.82 L367.35 380.34 L368.66 380.85 L369.97 381.38 L371.28 381.9 L372.59 382.43 L373.9 382.96 L375.2 383.5 L376.51 384.04 L377.82 384.57 L379.14 385.1 L380.46 385.63 L381.78 386.16 L383.11 386.69 L384.43 387.22 L385.76 387.76 L387.08 388.3 L388.4 388.84 L389.72 389.39 L391.03 389.94 L392.33 390.51 L393.63 391.08 L394.93 391.66 L396.21 392.26 L397.48 392.86 L398.75 393.48 L400 394.11 L401.24 394.76 L402.46 395.42 L403.67 396.1 L404.86 396.8 L406.05 397.52 L407.23 398.26 L408.42 399.04 L409.61 399.84 L410.79 400.67 L411.96 401.52 L413.11 402.4 L414.24 403.29 L415.34 404.22 L416.41 405.16 L417.45 406.12 L418.45 407.1 L419.4 408.1 L420.3 409.12 L421.17 410.18 L422 411.29 L422.81 412.45 L423.59 413.64 L424.34 414.86 L425.07 416.1 L425.78 417.35 L426.46 418.61 L427.12 419.87 L427.76 421.12 L428.39 422.38 L429.02 423.64 L429.63 424.91 L430.23 426.2 L430.81 427.49 L431.39 428.79 L431.95 430.1 L432.49 431.41 L433.01 432.73 L433.52 434.06 L434 435.39 L434.46 436.72 L434.9 438.06 L435.32 439.4 L435.72 440.75 L436.09 442.1" stroke="#0072BD" stroke-width="6" fill="none" stroke-linecap="butt"/>
<path d="M441.19 441.1L434.74 437.38L434.74 444.83Z" stroke="#0072BD" stroke-width="1.6" fill="none"/>
<path d="M246.51 334.27 L247.84 334.75 L249.16 335.24 L250.49 335.73 L251.81 336.22 L253.14 336.71 L254.46 337.2 L255.79 337.68 L257.12 338.17 L258.44 338.66 L259.77 339.14 L261.09 339.63 L262.42 340.12 L263.75 340.6 L265.07 341.09 L266.4 341.58 L267.73 342.06 L269.05 342.54 L270.38 343.03 L271.71 343.51 L273.04 343.99 L274.37 344.47 L275.69 344.95 L277.02 345.43 L278.35 345.91 L279.68 346.39 L281.01 346.87 L282.34 347.35 L283.67 347.83 L285 348.3 L286.33 348.78 L287.66 349.26 L288.99 349.73 L290.32 350.21 L291.65 350.69 L292.98 351.16 L294.31 351.64 L295.64 352.12 L296.97 352.59 L298.3 353.07 L299.63 353.55 L300.96 354.02 L302.29 354.5 L303.62 354.98 L304.95 355.45 L306.28 355.93 L307.61 356.41 L308.93 356.89 L310.26 357.37 L311.59 357.85 L312.92 358.33 L314.25 358.81 L315.58 359.29 L316.91 359.77 L318.23 360.25 L319.56 360.73 L320.89 361.22 L322.22 361.7 L323.54 362.19 L324.87 362.67 L326.19 363.16 L327.52 363.65 L328.85 364.14 L330.17 364.63 L331.5 365.12 L332.82 365.6 L334.15 366.09 L335.47 366.58 L336.8 367.06 L338.13 367.55 L339.46 368.04 L340.78 368.52 L342.11 369.01 L343.44 369.49 L344.77 369.98 L346.09 370.46 L347.42 370.95 L348.75 371.44 L350.08 371.93 L351.4 372.41 L352.73 372.91 L354.05 373.4 L355.38 373.89 L356.7 374.39 L358.02 374.89 L359.34 375.39 L360.66 375.89 L361.98 376.39 L363.3 376.9 L364.62 377.41 L365.93 377.92 L367.25 378.44 L368.56 378.95 L369.87 379.48 L371.18 380 L372.49 380.53 L373.8 381.06 L375.1 381.6 L376.41 382.14 L377.72 382.67 L379.04 383.2 L380.36 383.73 L381.68 384.26 L383.01 384.79 L384.33 385.32 L385.66 385.86 L386.98 386.4 L388.3 386.94 L389.62 387.49 L390.93 388.04 L392.23 388.61 L393.53 389.18 L394.83 389.76 L396.11 390.36 L397.38 390.96 L398.65 391.58 L399.9 392.21 L401.14 392.86 L402.36 393.52 L403.57 394.2 L404.76 394.9 L405.95 395.62 L407.13 396.36 L408.32 397.14 L409.51 397.94 L410.69 398.77 L411.86 399.62 L413.01 400.5 L414.14 401.39 L415.24 402.32 L416.31 403.26 L417.35 404.22 L418.35 405.2 L419.3 406.2 L420.2 407.22 L421.07 408.28 L421.9 409.39 L422.71 410.55 L423.49 411.74 L424.24 412.96 L424.97 414.2 L425.68 415.45 L426.36 416.71 L427.02 417.97 L427.66 419.22 L428.29 420.48 L428.92 421.74 L429.53 423.01 L430.13 424.3 L430.71 425.59 L431.29 426.89 L431.85 428.2 L432.39 429.51 L432.91 430.83 L433.42 432.16 L433.9 433.49 L434.36 434.82 L434.8 436.16 L435.22 437.5 L435.62 438.85 L435.99 440.2 L436.35 441.57 L436.69 442.94" stroke="#D95319" stroke-width="6" fill="none" stroke-linecap="butt"/>
<path d="M437.59 440.29L438.39 442.75L440.97 442.75L438.88 444.26L439.68 446.71L437.59 445.2L435.51 446.71L436.3 444.26L434.22 442.75L436.8 442.75Z" stroke="#D95319" stroke-width="1.6" fill="#D95319"/>
<path d="M253.04 337.61 L254.36 338.1 L255.69 338.58 L257.02 339.07 L258.34 339.56 L259.67 340.04 L260.99 340.53 L262.32 341.02 L263.65 341.5 L264.97 341.99 L266.3 342.48 L267.63 342.96 L268.95 343.44 L270.28 343.93 L271.61 344.41 L272.94 344.89 L274.27 345.37 L275.59 345.85 L276.92 346.33 L278.25 346.81 L279.58 347.29 L280.91 347.77 L282.24 348.25 L283.57 348.73 L284.9 349.2 L286.23 349.68 L287.56 350.16 L288.89 350.63 L290.22 351.11 L291.55 351.59 L292.88 352.06 L294.21 352.54 L295.54 353.02 L296.87 353.49 L298.2 353.97 L299.53 354.45 L300.86 354.92 L302.19 355.4 L303.52 355.88 L304.85 356.35 L306.18 356.83 L307.51 357.31 L308.83 357.79 L310.16 358.27 L311.49 358.75 L312.82 359.23 L314.15 359.71 L315.48 360.19 L316.81 360.67 L318.13 361.15 L319.46 361.63 L320.79 362.12 L322.12 362.6 L323.44 363.09 L324.77 363.57 L326.09 364.06 L327.42 364.55 L328.75 365.04 L330.07 365.53 L331.4 366.02 L332.72 366.5 L334.05 366.99 L335.37 367.48 L336.7 367.96 L338.03 368.45 L339.36 368.94 L340.68 369.42 L342.01 369.91 L343.34 370.39 L344.67 370.88 L345.99 371.36 L347.32 371.85 L348.65 372.34 L349.98 372.83 L351.3 373.31 L352.63 373.81 L353.95 374.3 L355.28 374.79 L356.6 375.29 L357.92 375.79 L359.24 376.29 L360.56 376.79 L361.88 377.29 L363.2 377.8 L364.52 378.31 L365.83 378.82 L367.15 379.34 L368.46 379.85 L369.77 380.38 L371.08 380.9 L372.39 381.43 L373.7 381.96 L375 382.5 L376.31 383.04 L377.62 383.57 L378.94 384.1 L380.26 384.63 L381.58 385.16 L382.91 385.69 L384.23 386.22 L385.56 386.76 L386.88 387.3 L388.2 387.84 L389.52 388.39 L390.83 388.94 L392.13 389.51 L393.43 390.08 L394.73 390.66 L396.01 391.26 L397.28 391.86 L398.55 392.48 L399.8 393.11 L401.04 393.76 L402.26 394.42 L403.47 395.1 L404.66 395.8 L405.85 396.52 L407.03 397.26 L408.22 398.04 L409.41 398.84 L410.59 399.67 L411.76 400.52 L412.91 401.4 L414.04 402.29 L415.14 403.22 L416.21 404.16 L417.25 405.12 L418.25 406.1 L419.2 407.1 L420.1 408.12 L420.97 409.18 L421.8 410.29 L422.61 411.45 L423.39 412.64 L424.14 413.86 L424.87 415.1 L425.58 416.35 L426.26 417.61 L426.92 418.87 L427.56 420.12 L428.19 421.38 L428.82 422.64 L429.43 423.91 L430.03 425.2 L430.61 426.49 L431.19 427.79 L431.75 429.1 L432.29 430.41 L432.81 431.73" stroke="#EDB120" stroke-width="6" fill="none" stroke-linecap="butt"/>
<path d="M438.22 443.21L439.2 444.91L441.16 444.91L440.18 446.61L441.16 448.31L439.2 448.31L438.22 450.01L437.24 448.31L435.27 448.31L436.25 446.61L435.27 444.91L437.24 444.91Z" stroke="#EDB120" stroke-width="1.6" fill="#EDB120"/>
<path d="M434.26 431.98L435.34 433.85L437.5 433.85L436.42 435.72L437.5 437.59L435.34 437.59L434.26 439.46L433.19 437.59L431.03 437.59L432.11 435.72L431.03 433.85L433.19 433.85Z" stroke="#EDB120" stroke-width="1" fill="#EDB120"/>
<path d="M435.52 436.01L436.6 437.88L438.76 437.88L437.68 439.75L438.76 441.62L436.6 441.62L435.52 443.49L434.44 441.62L432.28 441.62L433.36 439.75L432.28 437.88L434.44 437.88Z" stroke="#EDB120" stroke-width="1" fill="#EDB120"/>
<path d="M436.59 440.1L437.67 441.97L439.83 441.97L438.75 443.84L439.83 445.71L437.67 445.71L436.59 447.58L435.51 445.71L433.35 445.71L434.43 443.84L433.35 441.97L435.51 441.97Z" stroke="#EDB120" stroke-width="1" fill="#EDB120"/>
<rect x="474" y="47.6" width="300.1" height="132.9" fill="#fff" stroke="#262626" stroke-width="1.1"/>
<path d="M512.4 54.3L519.85 67.2L504.95 67.2Z" stroke="#D95319" fill="none" stroke-width="1.15"/>
<text x="549.4" y="71.3" font-size="21.3" text-anchor="start" font-style="italic" font-weight="normal">t=1900</text>
<path d="M512.4 97.1L519.85 84.2L504.95 84.2Z" stroke="#7E2F8E" fill="none" stroke-width="1.15"/>
<text x="549.4" y="96.9" font-size="21.3" text-anchor="start" font-style="italic" font-weight="normal">t=2800</text>
<path d="M507.95 109.75L516.85 118.65M507.95 118.65L516.85 109.75" stroke="#4DBEEE" fill="none" stroke-width="1.15"/>
<text x="549.4" y="122.6" font-size="21.3" text-anchor="start" font-style="italic" font-weight="normal">t=4400</text>
<path d="M521 139.8L508.1 132.35L508.1 147.25Z" stroke="#0072BD" fill="none" stroke-width="1.15"/>
<text x="549.4" y="148.2" font-size="21.3" text-anchor="start" font-style="italic" font-weight="normal">t=7200</text>
<path d="M512.4 158.6L514.36 162L518.29 162L516.33 165.4L518.29 168.8L514.36 168.8L512.4 172.2L510.44 168.8L506.51 168.8L508.47 165.4L506.51 162L510.44 162Z" stroke="#EDB120" fill="none" stroke-width="1.15"/>
<text x="549.4" y="173.8" font-size="21.3" text-anchor="start" font-style="italic" font-weight="normal">t=12000</text>
<path d="M661 62.9L673 62.9M667 56.9L667 68.9M662.7 58.6L671.3 67.2M662.7 67.2L671.3 58.6" stroke="#EDB120" fill="none" stroke-width="1.15"/>
<text x="704" y="71.3" font-size="21.3" text-anchor="start" font-style="italic" font-weight="normal">t=2300</text>
<path d="M660.5 88.5a6.5 6.5 0 1 0 13 0a6.5 6.5 0 1 0 -13 0" stroke="#77AC30" fill="none" stroke-width="1.15"/>
<text x="704" y="96.9" font-size="21.3" text-anchor="start" font-style="italic" font-weight="normal">t=3400</text>
<path d="M661 114.2L673 114.2M667 108.2L667 120.2" stroke="#A2142F" fill="none" stroke-width="1.15"/>
<text x="704" y="122.6" font-size="21.3" text-anchor="start" font-style="italic" font-weight="normal">t=5600</text>
<path d="M667 132.7L668.59 137.61L673.75 137.61L669.58 140.64L671.17 145.54L667 142.51L662.83 145.54L664.42 140.64L660.25 137.61L665.41 137.61Z" stroke="#D95319" fill="none" stroke-width="1.15"/>
<text x="704" y="148.2" font-size="21.3" text-anchor="start" font-style="italic" font-weight="normal">t=9200</text>
<text x="8" y="697" font-size="33" text-anchor="start" font-style="normal" font-weight="bold">(b)</text>
<path d="M101.88 1225.3V1217.8M101.88 704.4V711.9M209.32 1225.3V1217.8M209.32 704.4V711.9M316.76 1225.3V1217.8M316.76 704.4V711.9M424.2 1225.3V1217.8M424.2 704.4V711.9M531.64 1225.3V1217.8M531.64 704.4V711.9M639.08 1225.3V1217.8M639.08 704.4V711.9M746.52 1225.3V1217.8M746.52 704.4V711.9M98 1217.37H105.5M791 1217.37H783.5M98 1143.1H105.5M791 1143.1H783.5M98 1068.83H105.5M791 1068.83H783.5M98 994.57H105.5M791 994.57H783.5M98 920.3H105.5M791 920.3H783.5M98 846.04H105.5M791 846.04H783.5M98 771.77H105.5M791 771.77H783.5" stroke="#262626" stroke-width="1" fill="none"/>
<rect x="98" y="704.4" width="693" height="520.9" stroke="#333" stroke-width="1.3" fill="none"/>
<text x="87.5" y="1228.37" font-size="31" text-anchor="end" font-style="italic" font-weight="normal">-0.5</text>
<text x="87.5" y="1154.1" font-size="31" text-anchor="end" font-style="italic" font-weight="normal">0</text>
<text x="87.5" y="1079.83" font-size="31" text-anchor="end" font-style="italic" font-weight="normal">0.5</text>
<text x="87.5" y="1005.57" font-size="31" text-anchor="end" font-style="italic" font-weight="normal">1</text>
<text x="87.5" y="931.3" font-size="31" text-anchor="end" font-style="italic" font-weight="normal">1.5</text>
<text x="87.5" y="857.04" font-size="31" text-anchor="end" font-style="italic" font-weight="normal">2</text>
<text x="87.5" y="782.77" font-size="31" text-anchor="end" font-style="italic" font-weight="normal">2.5</text>
<text x="101.88" y="1264" font-size="31" text-anchor="middle" font-style="italic" font-weight="normal">-6</text>
<text x="209.32" y="1264" font-size="31" text-anchor="middle" font-style="italic" font-weight="normal">-4</text>
<text x="316.76" y="1264" font-size="31" text-anchor="middle" font-style="italic" font-weight="normal">-2</text>
<text x="424.2" y="1264" font-size="31" text-anchor="middle" font-style="italic" font-weight="normal">0</text>
<text x="531.64" y="1264" font-size="31" text-anchor="middle" font-style="italic" font-weight="normal">2</text>
<text x="639.08" y="1264" font-size="31" text-anchor="middle" font-style="italic" font-weight="normal">4</text>
<text x="746.52" y="1264" font-size="31" text-anchor="middle" font-style="italic" font-weight="normal">6</text>
<text x="411" y="1303" font-size="34" text-anchor="start" font-style="italic" font-weight="normal">log<tspan font-size="25" dy="16">2</tspan><tspan dy="-16">r</tspan></text>
<g transform="translate(34.5 988.5) rotate(-90)">
<text x="0" y="0" font-size="34" text-anchor="start" font-style="italic" font-weight="normal">log<tspan font-size="25" dy="16">2</tspan><tspan dy="-16">C(r)</tspan></text>
</g>
<path d="M424.2 1204.9L431.65 1217.8L416.75 1217.8ZM477.92 1145.2L485.37 1158.1L470.47 1158.1ZM509.34 1113.6L516.79 1126.5L501.89 1126.5ZM531.64 1096.1L539.09 1109L524.19 1109ZM548.93 1085.1L556.38 1098L541.48 1098ZM563.06 1077.6L570.51 1090.5L555.61 1090.5ZM575.01 1073.5L582.46 1086.4L567.56 1086.4ZM585.36 1070.9L592.81 1083.8L577.91 1083.8ZM594.49 1068.4L601.94 1081.3L587.04 1081.3ZM602.65 1067.4L610.1 1080.3L595.2 1080.3ZM610.04 1067.12L617.49 1080.02L602.59 1080.02ZM616.78 1066.9L624.23 1079.8L609.33 1079.8ZM622.99 1066.44L630.44 1079.34L615.54 1079.34ZM628.73 1065.87L636.18 1078.77L621.28 1078.77ZM634.08 1065.41L641.53 1078.31L626.63 1078.31ZM639.08 1065.2L646.53 1078.1L631.63 1078.1ZM643.78 1065.15L651.23 1078.05L636.33 1078.05ZM648.21 1065.1L655.66 1078L640.76 1078ZM652.4 1065.06L659.85 1077.96L644.95 1077.96ZM656.37 1065.03L663.82 1077.93L648.92 1077.93ZM660.16 1065.01L667.61 1077.91L652.71 1077.91ZM663.76 1064.98L671.21 1077.88L656.31 1077.88ZM667.21 1064.96L674.66 1077.86L659.76 1077.86ZM670.5 1064.95L677.95 1077.85L663.05 1077.85ZM673.67 1064.94L681.12 1077.84L666.22 1077.84ZM676.71 1064.92L684.16 1077.82L669.26 1077.82ZM679.63 1064.92L687.08 1077.82L672.18 1077.82ZM682.45 1064.91L689.9 1077.81L675 1077.81ZM685.17 1064.91L692.62 1077.81L677.72 1077.81ZM687.8 1064.9L695.25 1077.8L680.35 1077.8ZM690.34 1064.9L697.79 1077.8L682.89 1077.8ZM692.8 1064.9L700.25 1077.8L685.35 1077.8ZM695.18 1064.9L702.63 1077.8L687.73 1077.8ZM697.5 1064.9L704.95 1077.8L690.05 1077.8ZM699.75 1064.9L707.2 1077.8L692.3 1077.8ZM701.93 1064.9L709.38 1077.8L694.48 1077.8ZM704.05 1064.9L711.5 1077.8L696.6 1077.8ZM706.12 1064.9L713.57 1077.8L698.67 1077.8ZM708.13 1064.9L715.58 1077.8L700.68 1077.8ZM710.09 1064.9L717.54 1077.8L702.64 1077.8ZM712.01 1064.9L719.46 1077.8L704.56 1077.8ZM713.88 1064.9L721.33 1077.8L706.43 1077.8ZM715.7 1064.9L723.15 1077.8L708.25 1077.8ZM717.48 1064.9L724.93 1077.8L710.03 1077.8ZM719.22 1064.9L726.67 1077.8L711.77 1077.8ZM720.93 1064.9L728.38 1077.8L713.48 1077.8ZM722.59 1064.9L730.04 1077.8L715.14 1077.8ZM724.22 1064.9L731.67 1077.8L716.77 1077.8ZM725.82 1064.9L733.27 1077.8L718.37 1077.8ZM727.39 1064.9L734.84 1077.8L719.94 1077.8ZM728.92 1064.9L736.37 1077.8L721.47 1077.8ZM730.43 1064.9L737.88 1077.8L722.98 1077.8ZM731.9 1064.9L739.35 1077.8L724.45 1077.8ZM733.35 1064.9L740.8 1077.8L725.9 1077.8ZM734.77 1064.9L742.22 1077.8L727.32 1077.8ZM736.17 1064.9L743.62 1077.8L728.72 1077.8ZM737.54 1064.9L744.99 1077.8L730.09 1077.8ZM738.89 1064.9L746.34 1077.8L731.44 1077.8ZM740.22 1064.9L747.67 1077.8L732.77 1077.8ZM741.52 1064.9L748.97 1077.8L734.07 1077.8ZM742.8 1064.9L750.25 1077.8L735.35 1077.8ZM744.06 1064.9L751.51 1077.8L736.61 1077.8ZM745.3 1064.9L752.75 1077.8L737.85 1077.8ZM746.52 1064.9L753.97 1077.8L739.07 1077.8ZM747.72 1064.9L755.17 1077.8L740.27 1077.8ZM748.9 1064.9L756.35 1077.8L741.45 1077.8ZM750.07 1064.9L757.52 1077.8L742.62 1077.8ZM751.22 1064.9L758.67 1077.8L743.77 1077.8ZM752.35 1064.91L759.8 1077.81L744.9 1077.81ZM753.47 1064.91L760.92 1077.81L746.02 1077.81ZM754.56 1064.91L762.01 1077.81L747.11 1077.81ZM755.65 1064.92L763.1 1077.82L748.2 1077.82ZM756.72 1064.92L764.17 1077.82L749.27 1077.82ZM757.77 1064.93L765.22 1077.83L750.32 1077.83ZM758.81 1064.93L766.26 1077.83L751.36 1077.83ZM759.84 1064.94L767.29 1077.84L752.39 1077.84ZM760.85 1064.94L768.3 1077.84L753.4 1077.84ZM761.85 1064.95L769.3 1077.85L754.4 1077.85ZM762.84 1064.95L770.29 1077.85L755.39 1077.85ZM763.81 1064.96L771.26 1077.86L756.36 1077.86ZM764.78 1064.97L772.23 1077.87L757.33 1077.87ZM765.73 1064.97L773.18 1077.87L758.28 1077.87ZM766.67 1064.98L774.12 1077.88L759.22 1077.88ZM767.6 1064.99L775.05 1077.89L760.15 1077.89ZM768.51 1064.99L775.96 1077.89L761.06 1077.89ZM769.42 1065L776.87 1077.9L761.97 1077.9ZM770.31 1065.01L777.76 1077.91L762.86 1077.91ZM771.2 1065.01L778.65 1077.91L763.75 1077.91ZM772.08 1065.02L779.53 1077.92L764.63 1077.92ZM772.94 1065.03L780.39 1077.93L765.49 1077.93ZM773.8 1065.04L781.25 1077.94L766.35 1077.94ZM774.65 1065.04L782.1 1077.94L767.2 1077.94ZM775.48 1065.05L782.93 1077.95L768.03 1077.95ZM776.31 1065.06L783.76 1077.96L768.86 1077.96ZM777.13 1065.06L784.58 1077.96L769.68 1077.96ZM777.94 1065.07L785.39 1077.97L770.49 1077.97ZM778.75 1065.08L786.2 1077.98L771.3 1077.98ZM779.54 1065.09L786.99 1077.99L772.09 1077.99ZM780.33 1065.09L787.78 1077.99L772.88 1077.99ZM781.11 1065.1L788.56 1078L773.66 1078ZM781.88 1065.11L789.33 1078.01L774.43 1078.01ZM782.64 1065.12L790.09 1078.02L775.19 1078.02ZM783.4 1065.12L790.85 1078.02L775.95 1078.02ZM784.15 1065.13L791.6 1078.03L776.7 1078.03ZM784.89 1065.14L792.34 1078.04L777.44 1078.04ZM785.62 1065.14L793.07 1078.04L778.17 1078.04ZM786.35 1065.15L793.8 1078.05L778.9 1078.05ZM787.07 1065.16L794.52 1078.06L779.62 1078.06ZM787.79 1065.17L795.24 1078.07L780.34 1078.07ZM788.49 1065.17L795.94 1078.07L781.04 1078.07ZM789.2 1065.18L796.65 1078.08L781.75 1078.08ZM789.89 1065.19L797.34 1078.09L782.44 1078.09ZM790.58 1065.19L798.03 1078.09L783.13 1078.09ZM791.26 1065.2L798.71 1078.1L783.81 1078.1Z" stroke="#D95319" fill="none" stroke-width="1.15"/>
<path d="M432.8 1213.5L419.9 1206.05L419.9 1220.95ZM486.52 1152L473.62 1144.55L473.62 1159.45ZM517.94 1118L505.04 1110.55L505.04 1125.45ZM540.24 1096L527.34 1088.55L527.34 1103.45ZM557.53 1081.5L544.63 1074.05L544.63 1088.95ZM571.66 1070L558.76 1062.55L558.76 1077.45ZM583.61 1064L570.71 1056.55L570.71 1071.45ZM593.96 1059.5L581.06 1052.05L581.06 1066.95ZM603.09 1056.98L590.19 1049.53L590.19 1064.43ZM611.25 1055.16L598.35 1047.71L598.35 1062.61ZM618.64 1053.73L605.74 1046.28L605.74 1061.18ZM625.38 1052.5L612.48 1045.05L612.48 1059.95ZM631.59 1051.33L618.69 1043.88L618.69 1058.78ZM637.33 1050.29L624.43 1042.84L624.43 1057.74ZM642.68 1049.49L629.78 1042.04L629.78 1056.94ZM647.68 1049L634.78 1041.55L634.78 1056.45ZM652.38 1048.7L639.48 1041.25L639.48 1056.15ZM656.81 1048.44L643.91 1040.99L643.91 1055.89ZM661 1048.21L648.1 1040.76L648.1 1055.66ZM664.97 1048L652.07 1040.55L652.07 1055.45ZM668.76 1047.82L655.86 1040.37L655.86 1055.27ZM672.36 1047.67L659.46 1040.22L659.46 1055.12ZM675.81 1047.53L662.91 1040.08L662.91 1054.98ZM679.1 1047.42L666.2 1039.97L666.2 1054.87ZM682.27 1047.32L669.37 1039.87L669.37 1054.77ZM685.31 1047.24L672.41 1039.79L672.41 1054.69ZM688.23 1047.17L675.33 1039.72L675.33 1054.62ZM691.05 1047.11L678.15 1039.66L678.15 1054.56ZM693.77 1047.07L680.87 1039.62L680.87 1054.52ZM696.4 1047.04L683.5 1039.59L683.5 1054.49ZM698.94 1047.01L686.04 1039.56L686.04 1054.46ZM701.4 1047L688.5 1039.55L688.5 1054.45ZM703.78 1046.99L690.88 1039.54L690.88 1054.44ZM706.1 1046.98L693.2 1039.53L693.2 1054.43ZM708.35 1046.98L695.45 1039.53L695.45 1054.43ZM710.53 1046.97L697.63 1039.52L697.63 1054.42ZM712.65 1046.97L699.75 1039.52L699.75 1054.42ZM714.72 1046.96L701.82 1039.51L701.82 1054.41ZM716.73 1046.96L703.83 1039.51L703.83 1054.41ZM718.69 1046.96L705.79 1039.51L705.79 1054.41ZM720.61 1046.95L707.71 1039.5L707.71 1054.4ZM722.48 1046.95L709.58 1039.5L709.58 1054.4ZM724.3 1046.95L711.4 1039.5L711.4 1054.4ZM726.08 1046.94L713.18 1039.49L713.18 1054.39ZM727.82 1046.94L714.92 1039.49L714.92 1054.39ZM729.53 1046.94L716.63 1039.49L716.63 1054.39ZM731.19 1046.94L718.29 1039.49L718.29 1054.39ZM732.82 1046.93L719.92 1039.48L719.92 1054.38ZM734.42 1046.93L721.52 1039.48L721.52 1054.38ZM735.99 1046.93L723.09 1039.48L723.09 1054.38ZM737.52 1046.93L724.62 1039.48L724.62 1054.38ZM739.03 1046.93L726.13 1039.48L726.13 1054.38ZM740.5 1046.92L727.6 1039.47L727.6 1054.37ZM741.95 1046.92L729.05 1039.47L729.05 1054.37ZM743.37 1046.92L730.47 1039.47L730.47 1054.37ZM744.77 1046.92L731.87 1039.47L731.87 1054.37ZM746.14 1046.92L733.24 1039.47L733.24 1054.37ZM747.49 1046.91L734.59 1039.46L734.59 1054.36ZM748.82 1046.91L735.92 1039.46L735.92 1054.36ZM750.12 1046.91L737.22 1039.46L737.22 1054.36ZM751.4 1046.91L738.5 1039.46L738.5 1054.36ZM752.66 1046.9L739.76 1039.45L739.76 1054.35ZM753.9 1046.9L741 1039.45L741 1054.35ZM755.12 1046.9L742.22 1039.45L742.22 1054.35ZM756.32 1046.9L743.42 1039.45L743.42 1054.35ZM757.5 1046.9L744.6 1039.45L744.6 1054.35ZM758.67 1046.89L745.77 1039.44L745.77 1054.34ZM759.82 1046.89L746.92 1039.44L746.92 1054.34ZM760.95 1046.89L748.05 1039.44L748.05 1054.34ZM762.07 1046.89L749.17 1039.44L749.17 1054.34ZM763.16 1046.88L750.26 1039.43L750.26 1054.33ZM764.25 1046.88L751.35 1039.43L751.35 1054.33ZM765.32 1046.88L752.42 1039.43L752.42 1054.33ZM766.37 1046.88L753.47 1039.43L753.47 1054.33ZM767.41 1046.87L754.51 1039.42L754.51 1054.32ZM768.44 1046.87L755.54 1039.42L755.54 1054.32ZM769.45 1046.87L756.55 1039.42L756.55 1054.32ZM770.45 1046.87L757.55 1039.42L757.55 1054.32ZM771.44 1046.87L758.54 1039.42L758.54 1054.32ZM772.41 1046.86L759.51 1039.41L759.51 1054.31ZM773.38 1046.86L760.48 1039.41L760.48 1054.31ZM774.33 1046.86L761.43 1039.41L761.43 1054.31ZM775.27 1046.86L762.37 1039.41L762.37 1054.31ZM776.2 1046.85L763.3 1039.4L763.3 1054.3ZM777.11 1046.85L764.21 1039.4L764.21 1054.3ZM778.02 1046.85L765.12 1039.4L765.12 1054.3ZM778.91 1046.85L766.01 1039.4L766.01 1054.3ZM779.8 1046.85L766.9 1039.4L766.9 1054.3ZM780.68 1046.84L767.78 1039.39L767.78 1054.29ZM781.54 1046.84L768.64 1039.39L768.64 1054.29ZM782.4 1046.84L769.5 1039.39L769.5 1054.29ZM783.25 1046.84L770.35 1039.39L770.35 1054.29ZM784.08 1046.84L771.18 1039.39L771.18 1054.29ZM784.91 1046.84L772.01 1039.39L772.01 1054.29ZM785.73 1046.83L772.83 1039.38L772.83 1054.28ZM786.54 1046.83L773.64 1039.38L773.64 1054.28ZM787.35 1046.83L774.45 1039.38L774.45 1054.28ZM788.14 1046.83L775.24 1039.38L775.24 1054.28ZM788.93 1046.83L776.03 1039.38L776.03 1054.28ZM789.71 1046.82L776.81 1039.37L776.81 1054.27ZM790.48 1046.82L777.58 1039.37L777.58 1054.27ZM791.24 1046.82L778.34 1039.37L778.34 1054.27ZM792 1046.82L779.1 1039.37L779.1 1054.27ZM792.75 1046.82L779.85 1039.37L779.85 1054.27ZM793.49 1046.82L780.59 1039.37L780.59 1054.27ZM794.22 1046.81L781.32 1039.36L781.32 1054.26ZM794.95 1046.81L782.05 1039.36L782.05 1054.26ZM795.67 1046.81L782.77 1039.36L782.77 1054.26ZM796.39 1046.81L783.49 1039.36L783.49 1054.26ZM797.09 1046.81L784.19 1039.36L784.19 1054.26ZM797.8 1046.8L784.9 1039.35L784.9 1054.25ZM798.49 1046.8L785.59 1039.35L785.59 1054.25ZM799.18 1046.8L786.28 1039.35L786.28 1054.25ZM799.86 1046.8L786.96 1039.35L786.96 1054.25Z" stroke="#EDB120" fill="none" stroke-width="1.15"/>
<path d="M417.7 1213.5a6.5 6.5 0 1 0 13 0a6.5 6.5 0 1 0 -13 0M471.42 1151a6.5 6.5 0 1 0 13 0a6.5 6.5 0 1 0 -13 0M502.84 1114.2a6.5 6.5 0 1 0 13 0a6.5 6.5 0 1 0 -13 0M525.14 1090.7a6.5 6.5 0 1 0 13 0a6.5 6.5 0 1 0 -13 0M542.43 1073.7a6.5 6.5 0 1 0 13 0a6.5 6.5 0 1 0 -13 0M556.56 1061.2a6.5 6.5 0 1 0 13 0a6.5 6.5 0 1 0 -13 0M568.51 1051.7a6.5 6.5 0 1 0 13 0a6.5 6.5 0 1 0 -13 0M578.86 1044.5a6.5 6.5 0 1 0 13 0a6.5 6.5 0 1 0 -13 0M587.99 1039a6.5 6.5 0 1 0 13 0a6.5 6.5 0 1 0 -13 0M596.15 1034.5a6.5 6.5 0 1 0 13 0a6.5 6.5 0 1 0 -13 0M603.54 1031a6.5 6.5 0 1 0 13 0a6.5 6.5 0 1 0 -13 0M610.28 1029a6.5 6.5 0 1 0 13 0a6.5 6.5 0 1 0 -13 0M616.49 1027.3a6.5 6.5 0 1 0 13 0a6.5 6.5 0 1 0 -13 0M622.23 1025.7a6.5 6.5 0 1 0 13 0a6.5 6.5 0 1 0 -13 0M627.58 1024a6.5 6.5 0 1 0 13 0a6.5 6.5 0 1 0 -13 0M632.58 1022.5a6.5 6.5 0 1 0 13 0a6.5 6.5 0 1 0 -13 0M637.28 1021.24a6.5 6.5 0 1 0 13 0a6.5 6.5 0 1 0 -13 0M641.71 1020.5a6.5 6.5 0 1 0 13 0a6.5 6.5 0 1 0 -13 0M645.9 1020.27a6.5 6.5 0 1 0 13 0a6.5 6.5 0 1 0 -13 0M649.87 1020.08a6.5 6.5 0 1 0 13 0a6.5 6.5 0 1 0 -13 0M653.66 1019.92a6.5 6.5 0 1 0 13 0a6.5 6.5 0 1 0 -13 0M657.26 1019.78a6.5 6.5 0 1 0 13 0a6.5 6.5 0 1 0 -13 0M660.71 1019.67a6.5 6.5 0 1 0 13 0a6.5 6.5 0 1 0 -13 0M664 1019.58a6.5 6.5 0 1 0 13 0a6.5 6.5 0 1 0 -13 0M667.17 1019.5a6.5 6.5 0 1 0 13 0a6.5 6.5 0 1 0 -13 0M670.21 1019.44a6.5 6.5 0 1 0 13 0a6.5 6.5 0 1 0 -13 0M673.13 1019.39a6.5 6.5 0 1 0 13 0a6.5 6.5 0 1 0 -13 0M675.95 1019.36a6.5 6.5 0 1 0 13 0a6.5 6.5 0 1 0 -13 0M678.67 1019.33a6.5 6.5 0 1 0 13 0a6.5 6.5 0 1 0 -13 0M681.3 1019.31a6.5 6.5 0 1 0 13 0a6.5 6.5 0 1 0 -13 0M683.84 1019.3a6.5 6.5 0 1 0 13 0a6.5 6.5 0 1 0 -13 0M686.3 1019.3a6.5 6.5 0 1 0 13 0a6.5 6.5 0 1 0 -13 0M688.68 1019.3a6.5 6.5 0 1 0 13 0a6.5 6.5 0 1 0 -13 0M691 1019.3a6.5 6.5 0 1 0 13 0a6.5 6.5 0 1 0 -13 0M693.25 1019.3a6.5 6.5 0 1 0 13 0a6.5 6.5 0 1 0 -13 0M695.43 1019.3a6.5 6.5 0 1 0 13 0a6.5 6.5 0 1 0 -13 0M697.55 1019.3a6.5 6.5 0 1 0 13 0a6.5 6.5 0 1 0 -13 0M699.62 1019.3a6.5 6.5 0 1 0 13 0a6.5 6.5 0 1 0 -13 0M701.63 1019.3a6.5 6.5 0 1 0 13 0a6.5 6.5 0 1 0 -13 0M703.59 1019.3a6.5 6.5 0 1 0 13 0a6.5 6.5 0 1 0 -13 0M705.51 1019.3a6.5 6.5 0 1 0 13 0a6.5 6.5 0 1 0 -13 0M707.38 1019.3a6.5 6.5 0 1 0 13 0a6.5 6.5 0 1 0 -13 0M709.2 1019.3a6.5 6.5 0 1 0 13 0a6.5 6.5 0 1 0 -13 0M710.98 1019.3a6.5 6.5 0 1 0 13 0a6.5 6.5 0 1 0 -13 0M712.72 1019.3a6.5 6.5 0 1 0 13 0a6.5 6.5 0 1 0 -13 0M714.43 1019.3a6.5 6.5 0 1 0 13 0a6.5 6.5 0 1 0 -13 0M716.09 1019.3a6.5 6.5 0 1 0 13 0a6.5 6.5 0 1 0 -13 0M717.72 1019.3a6.5 6.5 0 1 0 13 0a6.5 6.5 0 1 0 -13 0M719.32 1019.3a6.5 6.5 0 1 0 13 0a6.5 6.5 0 1 0 -13 0M720.89 1019.3a6.5 6.5 0 1 0 13 0a6.5 6.5 0 1 0 -13 0M722.42 1019.3a6.5 6.5 0 1 0 13 0a6.5 6.5 0 1 0 -13 0M723.93 1019.3a6.5 6.5 0 1 0 13 0a6.5 6.5 0 1 0 -13 0M725.4 1019.3a6.5 6.5 0 1 0 13 0a6.5 6.5 0 1 0 -13 0M726.85 1019.3a6.5 6.5 0 1 0 13 0a6.5 6.5 0 1 0 -13 0M728.27 1019.3a6.5 6.5 0 1 0 13 0a6.5 6.5 0 1 0 -13 0M729.67 1019.3a6.5 6.5 0 1 0 13 0a6.5 6.5 0 1 0 -13 0M731.04 1019.3a6.5 6.5 0 1 0 13 0a6.5 6.5 0 1 0 -13 0M732.39 1019.3a6.5 6.5 0 1 0 13 0a6.5 6.5 0 1 0 -13 0M733.72 1019.3a6.5 6.5 0 1 0 13 0a6.5 6.5 0 1 0 -13 0M735.02 1019.3a6.5 6.5 0 1 0 13 0a6.5 6.5 0 1 0 -13 0M736.3 1019.3a6.5 6.5 0 1 0 13 0a6.5 6.5 0 1 0 -13 0M737.56 1019.3a6.5 6.5 0 1 0 13 0a6.5 6.5 0 1 0 -13 0M738.8 1019.3a6.5 6.5 0 1 0 13 0a6.5 6.5 0 1 0 -13 0M740.02 1019.3a6.5 6.5 0 1 0 13 0a6.5 6.5 0 1 0 -13 0M741.22 1019.3a6.5 6.5 0 1 0 13 0a6.5 6.5 0 1 0 -13 0M742.4 1019.3a6.5 6.5 0 1 0 13 0a6.5 6.5 0 1 0 -13 0M743.57 1019.3a6.5 6.5 0 1 0 13 0a6.5 6.5 0 1 0 -13 0M744.72 1019.31a6.5 6.5 0 1 0 13 0a6.5 6.5 0 1 0 -13 0M745.85 1019.31a6.5 6.5 0 1 0 13 0a6.5 6.5 0 1 0 -13 0M746.97 1019.31a6.5 6.5 0 1 0 13 0a6.5 6.5 0 1 0 -13 0M748.06 1019.32a6.5 6.5 0 1 0 13 0a6.5 6.5 0 1 0 -13 0M749.15 1019.32a6.5 6.5 0 1 0 13 0a6.5 6.5 0 1 0 -13 0M750.22 1019.33a6.5 6.5 0 1 0 13 0a6.5 6.5 0 1 0 -13 0M751.27 1019.34a6.5 6.5 0 1 0 13 0a6.5 6.5 0 1 0 -13 0M752.31 1019.34a6.5 6.5 0 1 0 13 0a6.5 6.5 0 1 0 -13 0M753.34 1019.35a6.5 6.5 0 1 0 13 0a6.5 6.5 0 1 0 -13 0M754.35 1019.36a6.5 6.5 0 1 0 13 0a6.5 6.5 0 1 0 -13 0M755.35 1019.36a6.5 6.5 0 1 0 13 0a6.5 6.5 0 1 0 -13 0M756.34 1019.37a6.5 6.5 0 1 0 13 0a6.5 6.5 0 1 0 -13 0M757.31 1019.38a6.5 6.5 0 1 0 13 0a6.5 6.5 0 1 0 -13 0M758.28 1019.39a6.5 6.5 0 1 0 13 0a6.5 6.5 0 1 0 -13 0M759.23 1019.4a6.5 6.5 0 1 0 13 0a6.5 6.5 0 1 0 -13 0M760.17 1019.41a6.5 6.5 0 1 0 13 0a6.5 6.5 0 1 0 -13 0M761.1 1019.41a6.5 6.5 0 1 0 13 0a6.5 6.5 0 1 0 -13 0M762.01 1019.42a6.5 6.5 0 1 0 13 0a6.5 6.5 0 1 0 -13 0M762.92 1019.43a6.5 6.5 0 1 0 13 0a6.5 6.5 0 1 0 -13 0M763.81 1019.44a6.5 6.5 0 1 0 13 0a6.5 6.5 0 1 0 -13 0M764.7 1019.45a6.5 6.5 0 1 0 13 0a6.5 6.5 0 1 0 -13 0M765.58 1019.46a6.5 6.5 0 1 0 13 0a6.5 6.5 0 1 0 -13 0M766.44 1019.47a6.5 6.5 0 1 0 13 0a6.5 6.5 0 1 0 -13 0M767.3 1019.48a6.5 6.5 0 1 0 13 0a6.5 6.5 0 1 0 -13 0M768.15 1019.49a6.5 6.5 0 1 0 13 0a6.5 6.5 0 1 0 -13 0M768.98 1019.5a6.5 6.5 0 1 0 13 0a6.5 6.5 0 1 0 -13 0M769.81 1019.51a6.5 6.5 0 1 0 13 0a6.5 6.5 0 1 0 -13 0M770.63 1019.52a6.5 6.5 0 1 0 13 0a6.5 6.5 0 1 0 -13 0M771.44 1019.53a6.5 6.5 0 1 0 13 0a6.5 6.5 0 1 0 -13 0M772.25 1019.54a6.5 6.5 0 1 0 13 0a6.5 6.5 0 1 0 -13 0M773.04 1019.55a6.5 6.5 0 1 0 13 0a6.5 6.5 0 1 0 -13 0M773.83 1019.56a6.5 6.5 0 1 0 13 0a6.5 6.5 0 1 0 -13 0M774.61 1019.57a6.5 6.5 0 1 0 13 0a6.5 6.5 0 1 0 -13 0M775.38 1019.58a6.5 6.5 0 1 0 13 0a6.5 6.5 0 1 0 -13 0M776.14 1019.59a6.5 6.5 0 1 0 13 0a6.5 6.5 0 1 0 -13 0M776.9 1019.6a6.5 6.5 0 1 0 13 0a6.5 6.5 0 1 0 -13 0M777.65 1019.61a6.5 6.5 0 1 0 13 0a6.5 6.5 0 1 0 -13 0M778.39 1019.62a6.5 6.5 0 1 0 13 0a6.5 6.5 0 1 0 -13 0M779.12 1019.63a6.5 6.5 0 1 0 13 0a6.5 6.5 0 1 0 -13 0M779.85 1019.64a6.5 6.5 0 1 0 13 0a6.5 6.5 0 1 0 -13 0M780.57 1019.65a6.5 6.5 0 1 0 13 0a6.5 6.5 0 1 0 -13 0M781.29 1019.65a6.5 6.5 0 1 0 13 0a6.5 6.5 0 1 0 -13 0M781.99 1019.66a6.5 6.5 0 1 0 13 0a6.5 6.5 0 1 0 -13 0M782.7 1019.67a6.5 6.5 0 1 0 13 0a6.5 6.5 0 1 0 -13 0M783.39 1019.68a6.5 6.5 0 1 0 13 0a6.5 6.5 0 1 0 -13 0M784.08 1019.69a6.5 6.5 0 1 0 13 0a6.5 6.5 0 1 0 -13 0M784.76 1019.7a6.5 6.5 0 1 0 13 0a6.5 6.5 0 1 0 -13 0" stroke="#7E2F8E" fill="none" stroke-width="1.15"/>
<path d="M424.2 1205.05L430.65 1213.5L424.2 1221.95L417.75 1213.5ZM477.92 1141.55L484.37 1150L477.92 1158.45L471.47 1150ZM509.34 1103.55L515.79 1112L509.34 1120.45L502.89 1112ZM531.64 1078.55L538.09 1087L531.64 1095.45L525.19 1087ZM548.93 1059.05L555.38 1067.5L548.93 1075.95L542.48 1067.5ZM563.06 1045.05L569.51 1053.5L563.06 1061.95L556.61 1053.5ZM575.01 1034.95L581.46 1043.4L575.01 1051.85L568.56 1043.4ZM585.36 1025.05L591.81 1033.5L585.36 1041.95L578.91 1033.5ZM594.49 1016.55L600.94 1025L594.49 1033.45L588.04 1025ZM602.65 1008.55L609.1 1017L602.65 1025.45L596.2 1017ZM610.04 1002.55L616.49 1011L610.04 1019.45L603.59 1011ZM616.78 998.05L623.23 1006.5L616.78 1014.95L610.33 1006.5ZM622.99 994.88L629.44 1003.33L622.99 1011.78L616.54 1003.33ZM628.73 992.25L635.18 1000.7L628.73 1009.15L622.28 1000.7ZM634.08 989.72L640.53 998.17L634.08 1006.62L627.63 998.17ZM639.08 987.65L645.53 996.1L639.08 1004.55L632.63 996.1ZM643.78 986.18L650.23 994.63L643.78 1003.08L637.33 994.63ZM648.21 985.05L654.66 993.5L648.21 1001.95L641.76 993.5ZM652.4 984.11L658.85 992.56L652.4 1001.01L645.95 992.56ZM656.37 983.36L662.82 991.81L656.37 1000.26L649.92 991.81ZM660.16 982.89L666.61 991.34L660.16 999.79L653.71 991.34ZM663.76 982.55L670.21 991L663.76 999.45L657.31 991ZM667.21 982.26L673.66 990.71L667.21 999.16L660.76 990.71ZM670.5 982.03L676.95 990.48L670.5 998.93L664.05 990.48ZM673.67 981.84L680.12 990.29L673.67 998.74L667.22 990.29ZM676.71 981.68L683.16 990.13L676.71 998.58L670.26 990.13ZM679.63 981.55L686.08 990L679.63 998.45L673.18 990ZM682.45 981.43L688.9 989.88L682.45 998.33L676 989.88ZM685.17 981.32L691.62 989.77L685.17 998.22L678.72 989.77ZM687.8 981.21L694.25 989.66L687.8 998.11L681.35 989.66ZM690.34 981.11L696.79 989.56L690.34 998.01L683.89 989.56ZM692.8 981.02L699.25 989.47L692.8 997.92L686.35 989.47ZM695.18 980.93L701.63 989.38L695.18 997.83L688.73 989.38ZM697.5 980.85L703.95 989.3L697.5 997.75L691.05 989.3ZM699.75 980.78L706.2 989.23L699.75 997.68L693.3 989.23ZM701.93 980.72L708.38 989.17L701.93 997.62L695.48 989.17ZM704.05 980.66L710.5 989.11L704.05 997.56L697.6 989.11ZM706.12 980.61L712.57 989.06L706.12 997.51L699.67 989.06ZM708.13 980.57L714.58 989.02L708.13 997.47L701.68 989.02ZM710.09 980.53L716.54 988.98L710.09 997.43L703.64 988.98ZM712.01 980.5L718.46 988.95L712.01 997.4L705.56 988.95ZM713.88 980.48L720.33 988.93L713.88 997.38L707.43 988.93ZM715.7 980.46L722.15 988.91L715.7 997.36L709.25 988.91ZM717.48 980.45L723.93 988.9L717.48 997.35L711.03 988.9ZM719.22 980.45L725.67 988.9L719.22 997.35L712.77 988.9ZM720.93 980.45L727.38 988.9L720.93 997.35L714.48 988.9ZM722.59 980.45L729.04 988.9L722.59 997.35L716.14 988.9ZM724.22 980.45L730.67 988.9L724.22 997.35L717.77 988.9ZM725.82 980.45L732.27 988.9L725.82 997.35L719.37 988.9ZM727.39 980.45L733.84 988.9L727.39 997.35L720.94 988.9ZM728.92 980.45L735.37 988.9L728.92 997.35L722.47 988.9ZM730.43 980.45L736.88 988.9L730.43 997.35L723.98 988.9ZM731.9 980.45L738.35 988.9L731.9 997.35L725.45 988.9ZM733.35 980.45L739.8 988.9L733.35 997.35L726.9 988.9ZM734.77 980.45L741.22 988.9L734.77 997.35L728.32 988.9ZM736.17 980.45L742.62 988.9L736.17 997.35L729.72 988.9ZM737.54 980.45L743.99 988.9L737.54 997.35L731.09 988.9ZM738.89 980.45L745.34 988.9L738.89 997.35L732.44 988.9ZM740.22 980.45L746.67 988.9L740.22 997.35L733.77 988.9ZM741.52 980.45L747.97 988.9L741.52 997.35L735.07 988.9ZM742.8 980.45L749.25 988.9L742.8 997.35L736.35 988.9ZM744.06 980.45L750.51 988.9L744.06 997.35L737.61 988.9ZM745.3 980.45L751.75 988.9L745.3 997.35L738.85 988.9ZM746.52 980.45L752.97 988.9L746.52 997.35L740.07 988.9ZM747.72 980.45L754.17 988.9L747.72 997.35L741.27 988.9ZM748.9 980.45L755.35 988.9L748.9 997.35L742.45 988.9ZM750.07 980.45L756.52 988.9L750.07 997.35L743.62 988.9ZM751.22 980.45L757.67 988.9L751.22 997.35L744.77 988.9ZM752.35 980.45L758.8 988.9L752.35 997.35L745.9 988.9ZM753.47 980.45L759.92 988.9L753.47 997.35L747.02 988.9ZM754.56 980.45L761.01 988.9L754.56 997.35L748.11 988.9ZM755.65 980.45L762.1 988.9L755.65 997.35L749.2 988.9ZM756.72 980.45L763.17 988.9L756.72 997.35L750.27 988.9ZM757.77 980.45L764.22 988.9L757.77 997.35L751.32 988.9ZM758.81 980.45L765.26 988.9L758.81 997.35L752.36 988.9ZM759.84 980.45L766.29 988.9L759.84 997.35L753.39 988.9ZM760.85 980.45L767.3 988.9L760.85 997.35L754.4 988.9ZM761.85 980.45L768.3 988.9L761.85 997.35L755.4 988.9ZM762.84 980.45L769.29 988.9L762.84 997.35L756.39 988.9ZM763.81 980.45L770.26 988.9L763.81 997.35L757.36 988.9ZM764.78 980.45L771.23 988.9L764.78 997.35L758.33 988.9ZM765.73 980.45L772.18 988.9L765.73 997.35L759.28 988.9ZM766.67 980.45L773.12 988.9L766.67 997.35L760.22 988.9ZM767.6 980.45L774.05 988.9L767.6 997.35L761.15 988.9ZM768.51 980.45L774.96 988.9L768.51 997.35L762.06 988.9ZM769.42 980.45L775.87 988.9L769.42 997.35L762.97 988.9ZM770.31 980.45L776.76 988.9L770.31 997.35L763.86 988.9ZM771.2 980.45L777.65 988.9L771.2 997.35L764.75 988.9ZM772.08 980.45L778.53 988.9L772.08 997.35L765.63 988.9ZM772.94 980.45L779.39 988.9L772.94 997.35L766.49 988.9ZM773.8 980.45L780.25 988.9L773.8 997.35L767.35 988.9ZM774.65 980.45L781.1 988.9L774.65 997.35L768.2 988.9ZM775.48 980.45L781.93 988.9L775.48 997.35L769.03 988.9ZM776.31 980.45L782.76 988.9L776.31 997.35L769.86 988.9ZM777.13 980.45L783.58 988.9L777.13 997.35L770.68 988.9ZM777.94 980.45L784.39 988.9L777.94 997.35L771.49 988.9ZM778.75 980.45L785.2 988.9L778.75 997.35L772.3 988.9ZM779.54 980.45L785.99 988.9L779.54 997.35L773.09 988.9ZM780.33 980.45L786.78 988.9L780.33 997.35L773.88 988.9ZM781.11 980.45L787.56 988.9L781.11 997.35L774.66 988.9ZM781.88 980.45L788.33 988.9L781.88 997.35L775.43 988.9ZM782.64 980.45L789.09 988.9L782.64 997.35L776.19 988.9ZM783.4 980.45L789.85 988.9L783.4 997.35L776.95 988.9ZM784.15 980.45L790.6 988.9L784.15 997.35L777.7 988.9ZM784.89 980.45L791.34 988.9L784.89 997.35L778.44 988.9ZM785.62 980.45L792.07 988.9L785.62 997.35L779.17 988.9ZM786.35 980.45L792.8 988.9L786.35 997.35L779.9 988.9ZM787.07 980.45L793.52 988.9L787.07 997.35L780.62 988.9ZM787.79 980.45L794.24 988.9L787.79 997.35L781.34 988.9ZM788.49 980.45L794.94 988.9L788.49 997.35L782.04 988.9ZM789.2 980.45L795.65 988.9L789.2 997.35L782.75 988.9ZM789.89 980.45L796.34 988.9L789.89 997.35L783.44 988.9ZM790.58 980.45L797.03 988.9L790.58 997.35L784.13 988.9ZM791.26 980.45L797.71 988.9L791.26 997.35L784.81 988.9Z" stroke="#77AC30" fill="none" stroke-width="1.15"/>
<path d="M418.2 1213.5L430.2 1213.5M424.2 1207.5L424.2 1219.5M419.9 1209.2L428.5 1217.8M419.9 1217.8L428.5 1209.2M471.92 1149L483.92 1149M477.92 1143L477.92 1155M473.62 1144.7L482.22 1153.3M473.62 1153.3L482.22 1144.7M503.34 1109L515.34 1109M509.34 1103L509.34 1115M505.04 1104.7L513.64 1113.3M505.04 1113.3L513.64 1104.7M525.64 1082.5L537.64 1082.5M531.64 1076.5L531.64 1088.5M527.34 1078.2L535.94 1086.8M527.34 1086.8L535.94 1078.2M542.93 1062L554.93 1062M548.93 1056L548.93 1068M544.63 1057.7L553.23 1066.3M544.63 1066.3L553.23 1057.7M557.06 1046L569.06 1046M563.06 1040L563.06 1052M558.76 1041.7L567.36 1050.3M558.76 1050.3L567.36 1041.7M569.01 1033L581.01 1033M575.01 1027L575.01 1039M570.71 1028.7L579.31 1037.3M570.71 1037.3L579.31 1028.7M579.36 1022.4L591.36 1022.4M585.36 1016.4L585.36 1028.4M581.06 1018.1L589.66 1026.7M581.06 1026.7L589.66 1018.1M588.49 1013.6L600.49 1013.6M594.49 1007.6L594.49 1019.6M590.19 1009.3L598.79 1017.9M590.19 1017.9L598.79 1009.3M596.65 1006.8L608.65 1006.8M602.65 1000.8L602.65 1012.8M598.35 1002.5L606.95 1011.1M598.35 1011.1L606.95 1002.5M604.04 999.9L616.04 999.9M610.04 993.9L610.04 1005.9M605.74 995.6L614.34 1004.2M605.74 1004.2L614.34 995.6M610.78 994.6L622.78 994.6M616.78 988.6L616.78 1000.6M612.48 990.3L621.08 998.9M612.48 998.9L621.08 990.3M616.99 989.3L628.99 989.3M622.99 983.3L622.99 995.3M618.69 985L627.29 993.6M618.69 993.6L627.29 985M622.73 984.7L634.73 984.7M628.73 978.7L628.73 990.7M624.43 980.4L633.03 989M624.43 989L633.03 980.4M628.08 980.2L640.08 980.2M634.08 974.2L634.08 986.2M629.78 975.9L638.38 984.5M629.78 984.5L638.38 975.9M633.08 976.5L645.08 976.5M639.08 970.5L639.08 982.5M634.78 972.2L643.38 980.8M634.78 980.8L643.38 972.2M637.78 974.1L649.78 974.1M643.78 968.1L643.78 980.1M639.48 969.8L648.08 978.4M639.48 978.4L648.08 969.8M642.21 971.8L654.21 971.8M648.21 965.8L648.21 977.8M643.91 967.5L652.51 976.1M643.91 976.1L652.51 967.5M646.4 968.82L658.4 968.82M652.4 962.82L652.4 974.82M648.1 964.52L656.7 973.12M648.1 973.12L656.7 964.52M650.37 965.83L662.37 965.83M656.37 959.83L656.37 971.83M652.07 961.53L660.67 970.13M652.07 970.13L660.67 961.53M654.16 963.81L666.16 963.81M660.16 957.81L660.16 969.81M655.86 959.51L664.46 968.11M655.86 968.11L664.46 959.51M657.76 962.28L669.76 962.28M663.76 956.28L663.76 968.28M659.46 957.98L668.06 966.58M659.46 966.58L668.06 957.98M661.21 960.98L673.21 960.98M667.21 954.98L667.21 966.98M662.91 956.68L671.51 965.28M662.91 965.28L671.51 956.68M664.5 959.87L676.5 959.87M670.5 953.87L670.5 965.87M666.2 955.57L674.8 964.17M666.2 964.17L674.8 955.57M667.67 958.93L679.67 958.93M673.67 952.93L673.67 964.93M669.37 954.63L677.97 963.23M669.37 963.23L677.97 954.63M670.71 958.15L682.71 958.15M676.71 952.15L676.71 964.15M672.41 953.85L681.01 962.45M672.41 962.45L681.01 953.85M673.63 957.5L685.63 957.5M679.63 951.5L679.63 963.5M675.33 953.2L683.93 961.8M675.33 961.8L683.93 953.2M676.45 956.94L688.45 956.94M682.45 950.94L682.45 962.94M678.15 952.64L686.75 961.24M678.15 961.24L686.75 952.64M679.17 956.43L691.17 956.43M685.17 950.43L685.17 962.43M680.87 952.13L689.47 960.73M680.87 960.73L689.47 952.13M681.8 955.98L693.8 955.98M687.8 949.98L687.8 961.98M683.5 951.68L692.1 960.28M683.5 960.28L692.1 951.68M684.34 955.58L696.34 955.58M690.34 949.58L690.34 961.58M686.04 951.28L694.64 959.88M686.04 959.88L694.64 951.28M686.8 955.23L698.8 955.23M692.8 949.23L692.8 961.23M688.5 950.93L697.1 959.53M688.5 959.53L697.1 950.93M689.18 954.94L701.18 954.94M695.18 948.94L695.18 960.94M690.88 950.64L699.48 959.24M690.88 959.24L699.48 950.64M691.5 954.69L703.5 954.69M697.5 948.69L697.5 960.69M693.2 950.39L701.8 958.99M693.2 958.99L701.8 950.39M693.75 954.5L705.75 954.5M699.75 948.5L699.75 960.5M695.45 950.2L704.05 958.8M695.45 958.8L704.05 950.2M695.93 954.33L707.93 954.33M701.93 948.33L701.93 960.33M697.63 950.03L706.23 958.63M697.63 958.63L706.23 950.03M698.05 954.18L710.05 954.18M704.05 948.18L704.05 960.18M699.75 949.88L708.35 958.48M699.75 958.48L708.35 949.88M700.12 954.03L712.12 954.03M706.12 948.03L706.12 960.03M701.82 949.73L710.42 958.33M701.82 958.33L710.42 949.73M702.13 953.9L714.13 953.9M708.13 947.9L708.13 959.9M703.83 949.6L712.43 958.2M703.83 958.2L712.43 949.6M704.09 953.79L716.09 953.79M710.09 947.79L710.09 959.79M705.79 949.49L714.39 958.09M705.79 958.09L714.39 949.49M706.01 953.69L718.01 953.69M712.01 947.69L712.01 959.69M707.71 949.39L716.31 957.99M707.71 957.99L716.31 949.39M707.88 953.61L719.88 953.61M713.88 947.61L713.88 959.61M709.58 949.31L718.18 957.91M709.58 957.91L718.18 949.31M709.7 953.55L721.7 953.55M715.7 947.55L715.7 959.55M711.4 949.25L720 957.85M711.4 957.85L720 949.25M711.48 953.52L723.48 953.52M717.48 947.52L717.48 959.52M713.18 949.22L721.78 957.82M713.18 957.82L721.78 949.22M713.22 953.5L725.22 953.5M719.22 947.5L719.22 959.5M714.92 949.2L723.52 957.8M714.92 957.8L723.52 949.2M714.93 953.49L726.93 953.49M720.93 947.49L720.93 959.49M716.63 949.19L725.23 957.79M716.63 957.79L725.23 949.19M716.59 953.49L728.59 953.49M722.59 947.49L722.59 959.49M718.29 949.19L726.89 957.79M718.29 957.79L726.89 949.19M718.22 953.48L730.22 953.48M724.22 947.48L724.22 959.48M719.92 949.18L728.52 957.78M719.92 957.78L728.52 949.18M719.82 953.48L731.82 953.48M725.82 947.48L725.82 959.48M721.52 949.18L730.12 957.78M721.52 957.78L730.12 949.18M721.39 953.48L733.39 953.48M727.39 947.48L727.39 959.48M723.09 949.18L731.69 957.78M723.09 957.78L731.69 949.18M722.92 953.47L734.92 953.47M728.92 947.47L728.92 959.47M724.62 949.17L733.22 957.77M724.62 957.77L733.22 949.17M724.43 953.47L736.43 953.47M730.43 947.47L730.43 959.47M726.13 949.17L734.73 957.77M726.13 957.77L734.73 949.17M725.9 953.46L737.9 953.46M731.9 947.46L731.9 959.46M727.6 949.16L736.2 957.76M727.6 957.76L736.2 949.16M727.35 953.46L739.35 953.46M733.35 947.46L733.35 959.46M729.05 949.16L737.65 957.76M729.05 957.76L737.65 949.16M728.77 953.46L740.77 953.46M734.77 947.46L734.77 959.46M730.47 949.16L739.07 957.76M730.47 957.76L739.07 949.16M730.17 953.45L742.17 953.45M736.17 947.45L736.17 959.45M731.87 949.15L740.47 957.75M731.87 957.75L740.47 949.15M731.54 953.45L743.54 953.45M737.54 947.45L737.54 959.45M733.24 949.15L741.84 957.75M733.24 957.75L741.84 949.15M732.89 953.45L744.89 953.45M738.89 947.45L738.89 959.45M734.59 949.15L743.19 957.75M734.59 957.75L743.19 949.15M734.22 953.44L746.22 953.44M740.22 947.44L740.22 959.44M735.92 949.14L744.52 957.74M735.92 957.74L744.52 949.14M735.52 953.44L747.52 953.44M741.52 947.44L741.52 959.44M737.22 949.14L745.82 957.74M737.22 957.74L745.82 949.14M736.8 953.44L748.8 953.44M742.8 947.44L742.8 959.44M738.5 949.14L747.1 957.74M738.5 957.74L747.1 949.14M738.06 953.44L750.06 953.44M744.06 947.44L744.06 959.44M739.76 949.14L748.36 957.74M739.76 957.74L748.36 949.14M739.3 953.44L751.3 953.44M745.3 947.44L745.3 959.44M741 949.14L749.6 957.74M741 957.74L749.6 949.14M740.52 953.43L752.52 953.43M746.52 947.43L746.52 959.43M742.22 949.13L750.82 957.73M742.22 957.73L750.82 949.13M741.72 953.43L753.72 953.43M747.72 947.43L747.72 959.43M743.42 949.13L752.02 957.73M743.42 957.73L752.02 949.13M742.9 953.43L754.9 953.43M748.9 947.43L748.9 959.43M744.6 949.13L753.2 957.73M744.6 957.73L753.2 949.13M744.07 953.43L756.07 953.43M750.07 947.43L750.07 959.43M745.77 949.13L754.37 957.73M745.77 957.73L754.37 949.13M745.22 953.43L757.22 953.43M751.22 947.43L751.22 959.43M746.92 949.13L755.52 957.73M746.92 957.73L755.52 949.13M746.35 953.42L758.35 953.42M752.35 947.42L752.35 959.42M748.05 949.12L756.65 957.72M748.05 957.72L756.65 949.12M747.47 953.42L759.47 953.42M753.47 947.42L753.47 959.42M749.17 949.12L757.77 957.72M749.17 957.72L757.77 949.12M748.56 953.42L760.56 953.42M754.56 947.42L754.56 959.42M750.26 949.12L758.86 957.72M750.26 957.72L758.86 949.12M749.65 953.42L761.65 953.42M755.65 947.42L755.65 959.42M751.35 949.12L759.95 957.72M751.35 957.72L759.95 949.12M750.72 953.42L762.72 953.42M756.72 947.42L756.72 959.42M752.42 949.12L761.02 957.72M752.42 957.72L761.02 949.12M751.77 953.42L763.77 953.42M757.77 947.42L757.77 959.42M753.47 949.12L762.07 957.72M753.47 957.72L762.07 949.12M752.81 953.42L764.81 953.42M758.81 947.42L758.81 959.42M754.51 949.12L763.11 957.72M754.51 957.72L763.11 949.12M753.84 953.41L765.84 953.41M759.84 947.41L759.84 959.41M755.54 949.11L764.14 957.71M755.54 957.71L764.14 949.11M754.85 953.41L766.85 953.41M760.85 947.41L760.85 959.41M756.55 949.11L765.15 957.71M756.55 957.71L765.15 949.11M755.85 953.41L767.85 953.41M761.85 947.41L761.85 959.41M757.55 949.11L766.15 957.71M757.55 957.71L766.15 949.11M756.84 953.41L768.84 953.41M762.84 947.41L762.84 959.41M758.54 949.11L767.14 957.71M758.54 957.71L767.14 949.11M757.81 953.41L769.81 953.41M763.81 947.41L763.81 959.41M759.51 949.11L768.11 957.71M759.51 957.71L768.11 949.11M758.78 953.41L770.78 953.41M764.78 947.41L764.78 959.41M760.48 949.11L769.08 957.71M760.48 957.71L769.08 949.11M759.73 953.41L771.73 953.41M765.73 947.41L765.73 959.41M761.43 949.11L770.03 957.71M761.43 957.71L770.03 949.11M760.67 953.41L772.67 953.41M766.67 947.41L766.67 959.41M762.37 949.11L770.97 957.71M762.37 957.71L770.97 949.11M761.6 953.41L773.6 953.41M767.6 947.41L767.6 959.41M763.3 949.11L771.9 957.71M763.3 957.71L771.9 949.11M762.51 953.41L774.51 953.41M768.51 947.41L768.51 959.41M764.21 949.11L772.81 957.71M764.21 957.71L772.81 949.11M763.42 953.41L775.42 953.41M769.42 947.41L769.42 959.41M765.12 949.11L773.72 957.71M765.12 957.71L773.72 949.11M764.31 953.41L776.31 953.41M770.31 947.41L770.31 959.41M766.01 949.11L774.61 957.71M766.01 957.71L774.61 949.11M765.2 953.41L777.2 953.41M771.2 947.41L771.2 959.41M766.9 949.11L775.5 957.71M766.9 957.71L775.5 949.11M766.08 953.41L778.08 953.41M772.08 947.41L772.08 959.41M767.78 949.11L776.38 957.71M767.78 957.71L776.38 949.11M766.94 953.4L778.94 953.4M772.94 947.4L772.94 959.4M768.64 949.1L777.24 957.7M768.64 957.7L777.24 949.1M767.8 953.4L779.8 953.4M773.8 947.4L773.8 959.4M769.5 949.1L778.1 957.7M769.5 957.7L778.1 949.1M768.65 953.4L780.65 953.4M774.65 947.4L774.65 959.4M770.35 949.1L778.95 957.7M770.35 957.7L778.95 949.1M769.48 953.4L781.48 953.4M775.48 947.4L775.48 959.4M771.18 949.1L779.78 957.7M771.18 957.7L779.78 949.1M770.31 953.4L782.31 953.4M776.31 947.4L776.31 959.4M772.01 949.1L780.61 957.7M772.01 957.7L780.61 949.1M771.13 953.4L783.13 953.4M777.13 947.4L777.13 959.4M772.83 949.1L781.43 957.7M772.83 957.7L781.43 949.1M771.94 953.4L783.94 953.4M777.94 947.4L777.94 959.4M773.64 949.1L782.24 957.7M773.64 957.7L782.24 949.1M772.75 953.4L784.75 953.4M778.75 947.4L778.75 959.4M774.45 949.1L783.05 957.7M774.45 957.7L783.05 949.1M773.54 953.4L785.54 953.4M779.54 947.4L779.54 959.4M775.24 949.1L783.84 957.7M775.24 957.7L783.84 949.1M774.33 953.4L786.33 953.4M780.33 947.4L780.33 959.4M776.03 949.1L784.63 957.7M776.03 957.7L784.63 949.1M775.11 953.4L787.11 953.4M781.11 947.4L781.11 959.4M776.81 949.1L785.41 957.7M776.81 957.7L785.41 949.1M775.88 953.4L787.88 953.4M781.88 947.4L781.88 959.4M777.58 949.1L786.18 957.7M777.58 957.7L786.18 949.1M776.64 953.4L788.64 953.4M782.64 947.4L782.64 959.4M778.34 949.1L786.94 957.7M778.34 957.7L786.94 949.1M777.4 953.4L789.4 953.4M783.4 947.4L783.4 959.4M779.1 949.1L787.7 957.7M779.1 957.7L787.7 949.1M778.15 953.4L790.15 953.4M784.15 947.4L784.15 959.4M779.85 949.1L788.45 957.7M779.85 957.7L788.45 949.1M778.89 953.4L790.89 953.4M784.89 947.4L784.89 959.4M780.59 949.1L789.19 957.7M780.59 957.7L789.19 949.1M779.62 953.4L791.62 953.4M785.62 947.4L785.62 959.4M781.32 949.1L789.92 957.7M781.32 957.7L789.92 949.1M780.35 953.4L792.35 953.4M786.35 947.4L786.35 959.4M782.05 949.1L790.65 957.7M782.05 957.7L790.65 949.1M781.07 953.4L793.07 953.4M787.07 947.4L787.07 959.4M782.77 949.1L791.37 957.7M782.77 957.7L791.37 949.1M781.79 953.4L793.79 953.4M787.79 947.4L787.79 959.4M783.49 949.1L792.09 957.7M783.49 957.7L792.09 949.1M782.49 953.4L794.49 953.4M788.49 947.4L788.49 959.4M784.19 949.1L792.79 957.7M784.19 957.7L792.79 949.1M783.2 953.4L795.2 953.4M789.2 947.4L789.2 959.4M784.9 949.1L793.5 957.7M784.9 957.7L793.5 949.1M783.89 953.4L795.89 953.4M789.89 947.4L789.89 959.4M785.59 949.1L794.19 957.7M785.59 957.7L794.19 949.1M784.58 953.4L796.58 953.4M790.58 947.4L790.58 959.4M786.28 949.1L794.88 957.7M786.28 957.7L794.88 949.1M785.26 953.4L797.26 953.4M791.26 947.4L791.26 959.4M786.96 949.1L795.56 957.7M786.96 957.7L795.56 949.1" stroke="#4DBEEE" fill="none" stroke-width="1.15"/>
<path d="M418.2 1213.5L430.2 1213.5M424.2 1207.5L424.2 1219.5M471.92 1148.5L483.92 1148.5M477.92 1142.5L477.92 1154.5M503.34 1108L515.34 1108M509.34 1102L509.34 1114M525.64 1081L537.64 1081M531.64 1075L531.64 1087M542.93 1060L554.93 1060M548.93 1054L548.93 1066M557.06 1042L569.06 1042M563.06 1036L563.06 1048M569.01 1028L581.01 1028M575.01 1022L575.01 1034M579.36 1016.5L591.36 1016.5M585.36 1010.5L585.36 1022.5M588.49 1007L600.49 1007M594.49 1001L594.49 1013M596.65 998.5L608.65 998.5M602.65 992.5L602.65 1004.5M604.04 990.4L616.04 990.4M610.04 984.4L610.04 996.4M610.78 984L622.78 984M616.78 978L616.78 990M616.99 978L628.99 978M622.99 972L622.99 984M622.73 973L634.73 973M628.73 967L628.73 979M628.08 968.5L640.08 968.5M634.08 962.5L634.08 974.5M633.08 964L645.08 964M639.08 958L639.08 970M637.78 959.5L649.78 959.5M643.78 953.5L643.78 965.5M642.21 954.85L654.21 954.85M648.21 948.85L648.21 960.85M646.4 950.3L658.4 950.3M652.4 944.3L652.4 956.3M650.37 946.6L662.37 946.6M656.37 940.6L656.37 952.6M654.16 944.16L666.16 944.16M660.16 938.16L660.16 950.16M657.76 942.33L669.76 942.33M663.76 936.33L663.76 948.33M661.21 940.83L673.21 940.83M667.21 934.83L667.21 946.83M664.5 939.56L676.5 939.56M670.5 933.56L670.5 945.56M667.67 938.46L679.67 938.46M673.67 932.46L673.67 944.46M670.71 937.45L682.71 937.45M676.71 931.45L676.71 943.45M673.63 936.5L685.63 936.5M679.63 930.5L679.63 942.5M676.45 935.59L688.45 935.59M682.45 929.59L682.45 941.59M679.17 934.72L691.17 934.72M685.17 928.72L685.17 940.72M681.8 933.92L693.8 933.92M687.8 927.92L687.8 939.92M684.34 933.18L696.34 933.18M690.34 927.18L690.34 939.18M686.8 932.52L698.8 932.52M692.8 926.52L692.8 938.52M689.18 931.93L701.18 931.93M695.18 925.93L695.18 937.93M691.5 931.43L703.5 931.43M697.5 925.43L697.5 937.43M693.75 931L705.75 931M699.75 925L699.75 937M695.93 930.61L707.93 930.61M701.93 924.61L701.93 936.61M698.05 930.24L710.05 930.24M704.05 924.24L704.05 936.24M700.12 929.88L712.12 929.88M706.12 923.88L706.12 935.88M702.13 929.55L714.13 929.55M708.13 923.55L708.13 935.55M704.09 929.25L716.09 929.25M710.09 923.25L710.09 935.25M706.01 929L718.01 929M712.01 923L712.01 935M707.88 928.79L719.88 928.79M713.88 922.79L713.88 934.79M709.7 928.64L721.7 928.64M715.7 922.64L715.7 934.64M711.48 928.54L723.48 928.54M717.48 922.54L717.48 934.54M713.22 928.5L725.22 928.5M719.22 922.5L719.22 934.5M714.93 928.49L726.93 928.49M720.93 922.49L720.93 934.49M716.59 928.48L728.59 928.48M722.59 922.48L722.59 934.48M718.22 928.47L730.22 928.47M724.22 922.47L724.22 934.47M719.82 928.46L731.82 928.46M725.82 922.46L725.82 934.46M721.39 928.45L733.39 928.45M727.39 922.45L727.39 934.45M722.92 928.44L734.92 928.44M728.92 922.44L728.92 934.44M724.43 928.43L736.43 928.43M730.43 922.43L730.43 934.43M725.9 928.43L737.9 928.43M731.9 922.43L731.9 934.43M727.35 928.42L739.35 928.42M733.35 922.42L733.35 934.42M728.77 928.41L740.77 928.41M734.77 922.41L734.77 934.41M730.17 928.41L742.17 928.41M736.17 922.41L736.17 934.41M731.54 928.4L743.54 928.4M737.54 922.4L737.54 934.4M732.89 928.39L744.89 928.39M738.89 922.39L738.89 934.39M734.22 928.39L746.22 928.39M740.22 922.39L740.22 934.39M735.52 928.38L747.52 928.38M741.52 922.38L741.52 934.38M736.8 928.38L748.8 928.38M742.8 922.38L742.8 934.38M738.06 928.37L750.06 928.37M744.06 922.37L744.06 934.37M739.3 928.37L751.3 928.37M745.3 922.37L745.3 934.37M740.52 928.37L752.52 928.37M746.52 922.37L746.52 934.37M741.72 928.36L753.72 928.36M747.72 922.36L747.72 934.36M742.9 928.36L754.9 928.36M748.9 922.36L748.9 934.36M744.07 928.35L756.07 928.35M750.07 922.35L750.07 934.35M745.22 928.35L757.22 928.35M751.22 922.35L751.22 934.35M746.35 928.35L758.35 928.35M752.35 922.35L752.35 934.35M747.47 928.34L759.47 928.34M753.47 922.34L753.47 934.34M748.56 928.34L760.56 928.34M754.56 922.34L754.56 934.34M749.65 928.34L761.65 928.34M755.65 922.34L755.65 934.34M750.72 928.34L762.72 928.34M756.72 922.34L756.72 934.34M751.77 928.33L763.77 928.33M757.77 922.33L757.77 934.33M752.81 928.33L764.81 928.33M758.81 922.33L758.81 934.33M753.84 928.33L765.84 928.33M759.84 922.33L759.84 934.33M754.85 928.33L766.85 928.33M760.85 922.33L760.85 934.33M755.85 928.33L767.85 928.33M761.85 922.33L761.85 934.33M756.84 928.32L768.84 928.32M762.84 922.32L762.84 934.32M757.81 928.32L769.81 928.32M763.81 922.32L763.81 934.32M758.78 928.32L770.78 928.32M764.78 922.32L764.78 934.32M759.73 928.32L771.73 928.32M765.73 922.32L765.73 934.32M760.67 928.32L772.67 928.32M766.67 922.32L766.67 934.32M761.6 928.32L773.6 928.32M767.6 922.32L767.6 934.32M762.51 928.31L774.51 928.31M768.51 922.31L768.51 934.31M763.42 928.31L775.42 928.31M769.42 922.31L769.42 934.31M764.31 928.31L776.31 928.31M770.31 922.31L770.31 934.31M765.2 928.31L777.2 928.31M771.2 922.31L771.2 934.31M766.08 928.31L778.08 928.31M772.08 922.31L772.08 934.31M766.94 928.31L778.94 928.31M772.94 922.31L772.94 934.31M767.8 928.31L779.8 928.31M773.8 922.31L773.8 934.31M768.65 928.31L780.65 928.31M774.65 922.31L774.65 934.31M769.48 928.31L781.48 928.31M775.48 922.31L775.48 934.31M770.31 928.31L782.31 928.31M776.31 922.31L776.31 934.31M771.13 928.31L783.13 928.31M777.13 922.31L777.13 934.31M771.94 928.3L783.94 928.3M777.94 922.3L777.94 934.3M772.75 928.3L784.75 928.3M778.75 922.3L778.75 934.3M773.54 928.3L785.54 928.3M779.54 922.3L779.54 934.3M774.33 928.3L786.33 928.3M780.33 922.3L780.33 934.3M775.11 928.3L787.11 928.3M781.11 922.3L781.11 934.3M775.88 928.3L787.88 928.3M781.88 922.3L781.88 934.3M776.64 928.3L788.64 928.3M782.64 922.3L782.64 934.3M777.4 928.3L789.4 928.3M783.4 922.3L783.4 934.3M778.15 928.3L790.15 928.3M784.15 922.3L784.15 934.3M778.89 928.3L790.89 928.3M784.89 922.3L784.89 934.3M779.62 928.3L791.62 928.3M785.62 922.3L785.62 934.3M780.35 928.3L792.35 928.3M786.35 922.3L786.35 934.3M781.07 928.3L793.07 928.3M787.07 922.3L787.07 934.3M781.79 928.3L793.79 928.3M787.79 922.3L787.79 934.3M782.49 928.3L794.49 928.3M788.49 922.3L788.49 934.3M783.2 928.3L795.2 928.3M789.2 922.3L789.2 934.3M783.89 928.3L795.89 928.3M789.89 922.3L789.89 934.3M784.58 928.3L796.58 928.3M790.58 922.3L790.58 934.3M785.26 928.3L797.26 928.3M791.26 922.3L791.26 934.3" stroke="#A2142F" fill="none" stroke-width="1.15"/>
<path d="M419.75 1209.05L428.65 1217.95M419.75 1217.95L428.65 1209.05M473.47 1143.55L482.37 1152.45M473.47 1152.45L482.37 1143.55M504.89 1102.55L513.79 1111.45M504.89 1111.45L513.79 1102.55M527.19 1075.55L536.09 1084.45M527.19 1084.45L536.09 1075.55M544.48 1053.55L553.38 1062.45M544.48 1062.45L553.38 1053.55M558.61 1035.05L567.51 1043.95M558.61 1043.95L567.51 1035.05M570.56 1020.55L579.46 1029.45M570.56 1029.45L579.46 1020.55M580.91 1009.55L589.81 1018.45M580.91 1018.45L589.81 1009.55M590.04 999.6L598.94 1008.5M590.04 1008.5L598.94 999.6M598.2 990.55L607.1 999.45M598.2 999.45L607.1 990.55M605.59 982.1L614.49 991M605.59 991L614.49 982.1M612.33 974.55L621.23 983.45M612.33 983.45L621.23 974.55M618.54 968.01L627.44 976.91M618.54 976.91L627.44 968.01M624.28 962.15L633.18 971.05M624.28 971.05L633.18 962.15M629.63 956.86L638.53 965.76M629.63 965.76L638.53 956.86M634.63 952.05L643.53 960.95M634.63 960.95L643.53 952.05M639.33 947.72L648.23 956.62M639.33 956.62L648.23 947.72M643.76 943.79L652.66 952.69M643.76 952.69L652.66 943.79M647.95 940.11L656.85 949.01M647.95 949.01L656.85 940.11M651.92 936.55L660.82 945.45M651.92 945.45L660.82 936.55M655.71 933.03L664.61 941.93M655.71 941.93L664.61 933.03M659.31 929.6L668.21 938.5M659.31 938.5L668.21 929.6M662.76 926.41L671.66 935.31M662.76 935.31L671.66 926.41M666.05 923.55L674.95 932.45M666.05 932.45L674.95 923.55M669.22 920.98L678.12 929.88M669.22 929.88L678.12 920.98M672.26 918.62L681.16 927.52M672.26 927.52L681.16 918.62M675.18 916.47L684.08 925.37M675.18 925.37L684.08 916.47M678 914.55L686.9 923.45M678 923.45L686.9 914.55M680.72 912.78L689.62 921.68M680.72 921.68L689.62 912.78M683.35 911.14L692.25 920.04M683.35 920.04L692.25 911.14M685.89 909.71L694.79 918.61M685.89 918.61L694.79 909.71M688.35 908.55L697.25 917.45M688.35 917.45L697.25 908.55M690.73 907.61L699.63 916.51M690.73 916.51L699.63 907.61M693.05 906.78L701.95 915.68M693.05 915.68L701.95 906.78M695.3 906.06L704.2 914.96M695.3 914.96L704.2 906.06M697.48 905.42L706.38 914.32M697.48 914.32L706.38 905.42M699.6 904.86L708.5 913.76M699.6 913.76L708.5 904.86M701.67 904.35L710.57 913.25M701.67 913.25L710.57 904.35M703.68 903.87L712.58 912.77M703.68 912.77L712.58 903.87M705.64 903.4L714.54 912.3M705.64 912.3L714.54 903.4M707.56 902.95L716.46 911.85M707.56 911.85L716.46 902.95M709.43 902.53L718.33 911.43M709.43 911.43L718.33 902.53M711.25 902.13L720.15 911.03M711.25 911.03L720.15 902.13M713.03 901.76L721.93 910.66M713.03 910.66L721.93 901.76M714.77 901.42L723.67 910.32M714.77 910.32L723.67 901.42M716.48 901.11L725.38 910.01M716.48 910.01L725.38 901.11M718.14 900.84L727.04 909.74M718.14 909.74L727.04 900.84M719.77 900.61L728.67 909.51M719.77 909.51L728.67 900.61M721.37 900.41L730.27 909.31M721.37 909.31L730.27 900.41M722.94 900.24L731.84 909.14M722.94 909.14L731.84 900.24M724.47 900.12L733.37 909.02M724.47 909.02L733.37 900.12M725.98 900.03L734.88 908.93M725.98 908.93L734.88 900.03M727.45 899.95L736.35 908.85M727.45 908.85L736.35 899.95M728.9 899.87L737.8 908.77M728.9 908.77L737.8 899.87M730.32 899.8L739.22 908.7M730.32 908.7L739.22 899.8M731.72 899.73L740.62 908.63M731.72 908.63L740.62 899.73M733.09 899.67L741.99 908.57M733.09 908.57L741.99 899.67M734.44 899.6L743.34 908.5M734.44 908.5L743.34 899.6M735.77 899.54L744.67 908.44M735.77 908.44L744.67 899.54M737.07 899.48L745.97 908.38M737.07 908.38L745.97 899.48M738.35 899.43L747.25 908.33M738.35 908.33L747.25 899.43M739.61 899.37L748.51 908.27M739.61 908.27L748.51 899.37M740.85 899.32L749.75 908.22M740.85 908.22L749.75 899.32M742.07 899.27L750.97 908.17M742.07 908.17L750.97 899.27M743.27 899.22L752.17 908.12M743.27 908.12L752.17 899.22M744.45 899.18L753.35 908.08M744.45 908.08L753.35 899.18M745.62 899.13L754.52 908.03M745.62 908.03L754.52 899.13M746.77 899.09L755.67 907.99M746.77 907.99L755.67 899.09M747.9 899.05L756.8 907.95M747.9 907.95L756.8 899.05M749.02 899.01L757.92 907.91M749.02 907.91L757.92 899.01M750.11 898.97L759.01 907.87M750.11 907.87L759.01 898.97M751.2 898.94L760.1 907.84M751.2 907.84L760.1 898.94M752.27 898.9L761.17 907.8M752.27 907.8L761.17 898.9M753.32 898.87L762.22 907.77M753.32 907.77L762.22 898.87M754.36 898.84L763.26 907.74M754.36 907.74L763.26 898.84M755.39 898.81L764.29 907.71M755.39 907.71L764.29 898.81M756.4 898.78L765.3 907.68M756.4 907.68L765.3 898.78M757.4 898.75L766.3 907.65M757.4 907.65L766.3 898.75M758.39 898.73L767.29 907.63M758.39 907.63L767.29 898.73M759.36 898.7L768.26 907.6M759.36 907.6L768.26 898.7M760.33 898.68L769.23 907.58M760.33 907.58L769.23 898.68M761.28 898.66L770.18 907.56M761.28 907.56L770.18 898.66M762.22 898.63L771.12 907.53M762.22 907.53L771.12 898.63M763.15 898.61L772.05 907.51M763.15 907.51L772.05 898.61M764.06 898.59L772.96 907.49M764.06 907.49L772.96 898.59M764.97 898.57L773.87 907.47M764.97 907.47L773.87 898.57M765.86 898.56L774.76 907.46M765.86 907.46L774.76 898.56M766.75 898.54L775.65 907.44M766.75 907.44L775.65 898.54M767.63 898.52L776.53 907.42M767.63 907.42L776.53 898.52M768.49 898.51L777.39 907.41M768.49 907.41L777.39 898.51M769.35 898.49L778.25 907.39M769.35 907.39L778.25 898.49M770.2 898.48L779.1 907.38M770.2 907.38L779.1 898.48M771.03 898.47L779.93 907.37M771.03 907.37L779.93 898.47M771.86 898.46L780.76 907.36M771.86 907.36L780.76 898.46M772.68 898.44L781.58 907.34M772.68 907.34L781.58 898.44M773.49 898.43L782.39 907.33M773.49 907.33L782.39 898.43M774.3 898.42L783.2 907.32M774.3 907.32L783.2 898.42M775.09 898.42L783.99 907.32M775.09 907.32L783.99 898.42M775.88 898.41L784.78 907.31M775.88 907.31L784.78 898.41M776.66 898.4L785.56 907.3M776.66 907.3L785.56 898.4M777.43 898.39L786.33 907.29M777.43 907.29L786.33 898.39M778.19 898.39L787.09 907.29M778.19 907.29L787.09 898.39M778.95 898.38L787.85 907.28M778.95 907.28L787.85 898.38M779.7 898.37L788.6 907.27M779.7 907.27L788.6 898.37M780.44 898.37L789.34 907.27M780.44 907.27L789.34 898.37M781.17 898.37L790.07 907.27M781.17 907.27L790.07 898.37M781.9 898.36L790.8 907.26M781.9 907.26L790.8 898.36M782.62 898.36L791.52 907.26M782.62 907.26L791.52 898.36M783.34 898.36L792.24 907.26M783.34 907.26L792.24 898.36M784.04 898.35L792.94 907.25M784.04 907.25L792.94 898.35M784.75 898.35L793.65 907.25M784.75 907.25L793.65 898.35M785.44 898.35L794.34 907.25M785.44 907.25L794.34 898.35M786.13 898.35L795.03 907.25M786.13 907.25L795.03 898.35M786.81 898.35L795.71 907.25M786.81 907.25L795.71 898.35" stroke="#0072BD" fill="none" stroke-width="1.15"/>
<path d="M419.35 1208.65L429.05 1208.65L429.05 1218.35L419.35 1218.35ZM473.07 1142.15L482.77 1142.15L482.77 1151.85L473.07 1151.85ZM504.49 1101.15L514.19 1101.15L514.19 1110.85L504.49 1110.85ZM526.79 1073.15L536.49 1073.15L536.49 1082.85L526.79 1082.85ZM544.08 1051.15L553.78 1051.15L553.78 1060.85L544.08 1060.85ZM558.21 1032.65L567.91 1032.65L567.91 1042.35L558.21 1042.35ZM570.16 1017.15L579.86 1017.15L579.86 1026.85L570.16 1026.85ZM580.51 1007.05L590.21 1007.05L590.21 1016.75L580.51 1016.75ZM589.64 996.81L599.34 996.81L599.34 1006.51L589.64 1006.51ZM597.8 987.15L607.5 987.15L607.5 996.85L597.8 996.85ZM605.19 978.15L614.89 978.15L614.89 987.85L605.19 987.85ZM611.93 970.15L621.63 970.15L621.63 979.85L611.93 979.85ZM618.14 963.4L627.84 963.4L627.84 973.1L618.14 973.1ZM623.88 957.43L633.58 957.43L633.58 967.13L623.88 967.13ZM629.23 952.06L638.93 952.06L638.93 961.76L629.23 961.76ZM634.23 947.15L643.93 947.15L643.93 956.85L634.23 956.85ZM638.93 942.65L648.63 942.65L648.63 952.35L638.93 952.35ZM643.36 938.51L653.06 938.51L653.06 948.21L643.36 948.21ZM647.55 934.7L657.25 934.7L657.25 944.4L647.55 944.4ZM651.52 931.15L661.22 931.15L661.22 940.85L651.52 940.85ZM655.31 927.86L665.01 927.86L665.01 937.56L655.31 937.56ZM658.91 924.81L668.61 924.81L668.61 934.51L658.91 934.51ZM662.36 921.92L672.06 921.92L672.06 931.62L662.36 931.62ZM665.65 919.15L675.35 919.15L675.35 928.85L665.65 928.85ZM668.82 916.47L678.52 916.47L678.52 926.17L668.82 926.17ZM671.86 913.9L681.56 913.9L681.56 923.6L671.86 923.6ZM674.78 911.45L684.48 911.45L684.48 921.15L674.78 921.15ZM677.6 909.15L687.3 909.15L687.3 918.85L677.6 918.85ZM680.32 906.96L690.02 906.96L690.02 916.66L680.32 916.66ZM682.95 904.86L692.65 904.86L692.65 914.56L682.95 914.56ZM685.49 902.92L695.19 902.92L695.19 912.62L685.49 912.62ZM687.95 901.15L697.65 901.15L697.65 910.85L687.95 910.85ZM690.33 899.5L700.03 899.5L700.03 909.2L690.33 909.2ZM692.65 897.87L702.35 897.87L702.35 907.57L692.65 907.57ZM694.9 896.29L704.6 896.29L704.6 905.99L694.9 905.99ZM697.08 894.75L706.78 894.75L706.78 904.45L697.08 904.45ZM699.2 893.26L708.9 893.26L708.9 902.96L699.2 902.96ZM701.27 891.83L710.97 891.83L710.97 901.53L701.27 901.53ZM703.28 890.46L712.98 890.46L712.98 900.16L703.28 900.16ZM705.24 889.16L714.94 889.16L714.94 898.86L705.24 898.86ZM707.16 887.93L716.86 887.93L716.86 897.63L707.16 897.63ZM709.03 886.76L718.73 886.76L718.73 896.46L709.03 896.46ZM710.85 885.66L720.55 885.66L720.55 895.36L710.85 895.36ZM712.63 884.64L722.33 884.64L722.33 894.34L712.63 894.34ZM714.37 883.68L724.07 883.68L724.07 893.38L714.37 893.38ZM716.08 882.8L725.78 882.8L725.78 892.5L716.08 892.5ZM717.74 881.99L727.44 881.99L727.44 891.69L717.74 891.69ZM719.37 881.26L729.07 881.26L729.07 890.96L719.37 890.96ZM720.97 880.59L730.67 880.59L730.67 890.29L720.97 890.29ZM722.54 880L732.24 880L732.24 889.7L722.54 889.7ZM724.07 879.48L733.77 879.48L733.77 889.18L724.07 889.18ZM725.58 879.02L735.28 879.02L735.28 888.72L725.58 888.72ZM727.05 878.59L736.75 878.59L736.75 888.29L727.05 888.29ZM728.5 878.17L738.2 878.17L738.2 887.87L728.5 887.87ZM729.92 877.76L739.62 877.76L739.62 887.46L729.92 887.46ZM731.32 877.36L741.02 877.36L741.02 887.06L731.32 887.06ZM732.69 876.97L742.39 876.97L742.39 886.67L732.69 886.67ZM734.04 876.59L743.74 876.59L743.74 886.29L734.04 886.29ZM735.37 876.22L745.07 876.22L745.07 885.92L735.37 885.92ZM736.67 875.87L746.37 875.87L746.37 885.57L736.67 885.57ZM737.95 875.52L747.65 875.52L747.65 885.22L737.95 885.22ZM739.21 875.18L748.91 875.18L748.91 884.88L739.21 884.88ZM740.45 874.85L750.15 874.85L750.15 884.55L740.45 884.55ZM741.67 874.53L751.37 874.53L751.37 884.23L741.67 884.23ZM742.87 874.23L752.57 874.23L752.57 883.93L742.87 883.93ZM744.05 873.93L753.75 873.93L753.75 883.63L744.05 883.63ZM745.22 873.64L754.92 873.64L754.92 883.34L745.22 883.34ZM746.37 873.36L756.07 873.36L756.07 883.06L746.37 883.06ZM747.5 873.08L757.2 873.08L757.2 882.78L747.5 882.78ZM748.62 872.82L758.32 872.82L758.32 882.52L748.62 882.52ZM749.71 872.56L759.41 872.56L759.41 882.26L749.71 882.26ZM750.8 872.32L760.5 872.32L760.5 882.02L750.8 882.02ZM751.87 872.08L761.57 872.08L761.57 881.78L751.87 881.78ZM752.92 871.85L762.62 871.85L762.62 881.55L752.92 881.55ZM753.96 871.62L763.66 871.62L763.66 881.32L753.96 881.32ZM754.99 871.41L764.69 871.41L764.69 881.11L754.99 881.11ZM756 871.2L765.7 871.2L765.7 880.9L756 880.9ZM757 871L766.7 871L766.7 880.7L757 880.7ZM757.99 870.81L767.69 870.81L767.69 880.51L757.99 880.51ZM758.96 870.63L768.66 870.63L768.66 880.33L758.96 880.33ZM759.93 870.45L769.63 870.45L769.63 880.15L759.93 880.15ZM760.88 870.28L770.58 870.28L770.58 879.98L760.88 879.98ZM761.82 870.11L771.52 870.11L771.52 879.81L761.82 879.81ZM762.75 869.96L772.45 869.96L772.45 879.66L762.75 879.66ZM763.66 869.81L773.36 869.81L773.36 879.51L763.66 879.51ZM764.57 869.66L774.27 869.66L774.27 879.36L764.57 879.36ZM765.46 869.52L775.16 869.52L775.16 879.22L765.46 879.22ZM766.35 869.39L776.05 869.39L776.05 879.09L766.35 879.09ZM767.23 869.27L776.93 869.27L776.93 878.97L767.23 878.97ZM768.09 869.15L777.79 869.15L777.79 878.85L768.09 878.85ZM768.95 869.03L778.65 869.03L778.65 878.73L768.95 878.73ZM769.8 868.93L779.5 868.93L779.5 878.63L769.8 878.63ZM770.63 868.83L780.33 868.83L780.33 878.53L770.63 878.53ZM771.46 868.73L781.16 868.73L781.16 878.43L771.46 878.43ZM772.28 868.64L781.98 868.64L781.98 878.34L772.28 878.34ZM773.09 868.55L782.79 868.55L782.79 878.25L773.09 878.25ZM773.9 868.47L783.6 868.47L783.6 878.17L773.9 878.17ZM774.69 868.4L784.39 868.4L784.39 878.1L774.69 878.1ZM775.48 868.33L785.18 868.33L785.18 878.03L775.48 878.03ZM776.26 868.27L785.96 868.27L785.96 877.97L776.26 877.97ZM777.03 868.21L786.73 868.21L786.73 877.91L777.03 877.91ZM777.79 868.15L787.49 868.15L787.49 877.85L777.79 877.85ZM778.55 868.1L788.25 868.1L788.25 877.8L778.55 877.8ZM779.3 868.06L789 868.06L789 877.76L779.3 877.76ZM780.04 868.02L789.74 868.02L789.74 877.72L780.04 877.72ZM780.77 867.98L790.47 867.98L790.47 877.68L780.77 877.68ZM781.5 867.95L791.2 867.95L791.2 877.65L781.5 877.65ZM782.22 867.92L791.92 867.92L791.92 877.62L782.22 877.62ZM782.94 867.9L792.64 867.9L792.64 877.6L782.94 877.6ZM783.64 867.88L793.34 867.88L793.34 877.58L783.64 877.58ZM784.35 867.87L794.05 867.87L794.05 877.57L784.35 877.57ZM785.04 867.86L794.74 867.86L794.74 877.56L785.04 877.56ZM785.73 867.85L795.43 867.85L795.43 877.55L785.73 877.55ZM786.41 867.85L796.11 867.85L796.11 877.55L786.41 877.55Z" stroke="#D95319" fill="none" stroke-width="1.15"/>
<path d="M424.2 1206.4L425.79 1211.31L430.95 1211.31L426.78 1214.34L428.37 1219.24L424.2 1216.21L420.03 1219.24L421.62 1214.34L417.45 1211.31L422.61 1211.31ZM477.92 1138.9L479.51 1143.81L484.67 1143.81L480.5 1146.84L482.09 1151.74L477.92 1148.71L473.75 1151.74L475.34 1146.84L471.17 1143.81L476.33 1143.81ZM509.34 1097.4L510.94 1102.31L516.1 1102.31L511.92 1105.34L513.52 1110.24L509.34 1107.21L505.17 1110.24L506.76 1105.34L502.59 1102.31L507.75 1102.31ZM531.64 1068.9L533.23 1073.81L538.39 1073.81L534.22 1076.84L535.81 1081.74L531.64 1078.71L527.47 1081.74L529.06 1076.84L524.89 1073.81L530.05 1073.81ZM548.93 1047.9L550.53 1052.81L555.69 1052.81L551.51 1055.84L553.11 1060.74L548.93 1057.71L544.76 1060.74L546.35 1055.84L542.18 1052.81L547.34 1052.81ZM563.06 1028.4L564.66 1033.31L569.82 1033.31L565.64 1036.34L567.24 1041.24L563.06 1038.21L558.89 1041.24L560.48 1036.34L556.31 1033.31L561.47 1033.31ZM575.01 1012.9L576.61 1017.81L581.76 1017.81L577.59 1020.84L579.18 1025.74L575.01 1022.71L570.84 1025.74L572.43 1020.84L568.26 1017.81L573.42 1017.81ZM585.36 1001.4L586.95 1006.31L592.11 1006.31L587.94 1009.34L589.53 1014.24L585.36 1011.21L581.19 1014.24L582.78 1009.34L578.61 1006.31L583.77 1006.31ZM594.49 990.11L596.08 995.02L601.24 995.02L597.07 998.05L598.66 1002.96L594.49 999.93L590.32 1002.96L591.91 998.05L587.74 995.02L592.89 995.02ZM602.65 979.9L604.25 984.81L609.41 984.81L605.23 987.84L606.83 992.74L602.65 989.71L598.48 992.74L600.07 987.84L595.9 984.81L601.06 984.81ZM610.04 971.09L611.63 976L616.79 976L612.62 979.03L614.21 983.94L610.04 980.9L605.87 983.94L607.46 979.03L603.29 976L608.45 976ZM616.78 963.4L618.38 968.31L623.54 968.31L619.36 971.34L620.96 976.24L616.78 973.21L612.61 976.24L614.2 971.34L610.03 968.31L615.19 968.31ZM622.99 956.73L624.58 961.63L629.74 961.63L625.57 964.66L627.16 969.57L622.99 966.54L618.81 969.57L620.41 964.66L616.24 961.63L621.39 961.63ZM628.73 950.77L630.33 955.68L635.48 955.68L631.31 958.71L632.9 963.62L628.73 960.59L624.56 963.62L626.15 958.71L621.98 955.68L627.14 955.68ZM634.08 945.37L635.67 950.28L640.83 950.28L636.66 953.31L638.25 958.22L634.08 955.19L629.9 958.22L631.5 953.31L627.33 950.28L632.48 950.28ZM639.08 940.4L640.67 945.31L645.83 945.31L641.66 948.34L643.25 953.24L639.08 950.21L634.91 953.24L636.5 948.34L632.33 945.31L637.49 945.31ZM643.78 935.81L645.37 940.72L650.53 940.72L646.36 943.75L647.95 948.66L643.78 945.62L639.61 948.66L641.2 943.75L637.03 940.72L642.18 940.72ZM648.21 931.58L649.8 936.48L654.96 936.48L650.79 939.52L652.38 944.42L648.21 941.39L644.04 944.42L645.63 939.52L641.46 936.48L646.61 936.48ZM652.4 927.63L653.99 932.53L659.15 932.53L654.98 935.56L656.57 940.47L652.4 937.44L648.23 940.47L649.82 935.56L645.65 932.53L650.8 932.53ZM656.37 923.9L657.97 928.81L663.13 928.81L658.95 931.84L660.55 936.74L656.37 933.71L652.2 936.74L653.79 931.84L649.62 928.81L654.78 928.81ZM660.16 920.36L661.75 925.26L666.91 925.26L662.73 928.29L664.33 933.2L660.16 930.17L655.98 933.2L657.58 928.29L653.4 925.26L658.56 925.26ZM663.76 916.99L665.35 921.9L670.51 921.9L666.34 924.93L667.93 929.84L663.76 926.81L659.59 929.84L661.18 924.93L657.01 921.9L662.17 921.9ZM667.21 913.84L668.8 918.74L673.96 918.74L669.79 921.78L671.38 926.68L667.21 923.65L663.03 926.68L664.63 921.78L660.45 918.74L665.61 918.74ZM670.5 910.9L672.1 915.81L677.26 915.81L673.08 918.84L674.68 923.74L670.5 920.71L666.33 923.74L667.92 918.84L663.75 915.81L668.91 915.81ZM673.67 908.17L675.26 913.07L680.42 913.07L676.25 916.1L677.84 921.01L673.67 917.98L669.49 921.01L671.09 916.1L666.92 913.07L672.07 913.07ZM676.71 905.6L678.3 910.51L683.46 910.51L679.29 913.54L680.88 918.44L676.71 915.41L672.53 918.44L674.13 913.54L669.96 910.51L675.11 910.51ZM679.63 903.18L681.23 908.09L686.39 908.09L682.21 911.12L683.81 916.03L679.63 913L675.46 916.03L677.05 911.12L672.88 908.09L678.04 908.09ZM682.45 900.9L684.05 905.81L689.2 905.81L685.03 908.84L686.62 913.74L682.45 910.71L678.28 913.74L679.87 908.84L675.7 905.81L680.86 905.81ZM685.17 898.75L686.76 903.66L691.92 903.66L687.75 906.69L689.34 911.6L685.17 908.57L681 911.6L682.59 906.69L678.42 903.66L683.58 903.66ZM687.8 896.73L689.39 901.64L694.55 901.64L690.38 904.67L691.97 909.58L687.8 906.55L683.62 909.58L685.22 904.67L681.05 901.64L686.2 901.64ZM690.34 894.79L691.93 899.7L697.09 899.7L692.92 902.73L694.51 907.64L690.34 904.6L686.17 907.64L687.76 902.73L683.59 899.7L688.75 899.7ZM692.8 892.9L694.39 897.81L699.55 897.81L695.38 900.84L696.97 905.74L692.8 902.71L688.63 905.74L690.22 900.84L686.05 897.81L691.21 897.81ZM695.18 891L696.78 895.91L701.94 895.91L697.76 898.94L699.36 903.85L695.18 900.82L691.01 903.85L692.61 898.94L688.43 895.91L693.59 895.91ZM697.5 889.08L699.09 893.99L704.25 893.99L700.08 897.02L701.67 901.93L697.5 898.9L693.33 901.93L694.92 897.02L690.75 893.99L695.9 893.99ZM699.75 887.17L701.34 892.07L706.5 892.07L702.32 895.1L703.92 900.01L699.75 896.98L695.57 900.01L697.17 895.1L692.99 892.07L698.15 892.07ZM701.93 885.26L703.52 890.17L708.68 890.17L704.51 893.2L706.1 898.11L701.93 895.08L697.76 898.11L699.35 893.2L695.18 890.17L700.33 890.17ZM704.05 883.39L705.65 888.3L710.8 888.3L706.63 891.33L708.23 896.23L704.05 893.2L699.88 896.23L701.47 891.33L697.3 888.3L702.46 888.3ZM706.12 881.56L707.71 886.46L712.87 886.46L708.7 889.5L710.29 894.4L706.12 891.37L701.95 894.4L703.54 889.5L699.37 886.46L704.52 886.46ZM708.13 879.78L709.73 884.69L714.88 884.69L710.71 887.72L712.31 892.62L708.13 889.59L703.96 892.62L705.55 887.72L701.38 884.69L706.54 884.69ZM710.09 878.06L711.69 882.97L716.85 882.97L712.67 886L714.27 890.9L710.09 887.87L705.92 890.9L707.51 886L703.34 882.97L708.5 882.97ZM712.01 876.41L713.6 881.31L718.76 881.31L714.59 884.35L716.18 889.25L712.01 886.22L707.83 889.25L709.43 884.35L705.26 881.31L710.41 881.31ZM713.88 874.83L715.47 879.74L720.63 879.74L716.45 882.77L718.05 887.67L713.88 884.64L709.7 887.67L711.3 882.77L707.12 879.74L712.28 879.74ZM715.7 873.33L717.29 878.23L722.45 878.23L718.28 881.27L719.87 886.17L715.7 883.14L711.53 886.17L713.12 881.27L708.95 878.23L714.1 878.23ZM717.48 871.91L719.07 876.81L724.23 876.81L720.06 879.84L721.65 884.75L717.48 881.72L713.31 884.75L714.9 879.84L710.73 876.81L715.89 876.81ZM719.22 870.57L720.82 875.48L725.97 875.48L721.8 878.51L723.4 883.41L719.22 880.38L715.05 883.41L716.64 878.51L712.47 875.48L717.63 875.48ZM720.93 869.32L722.52 874.22L727.68 874.22L723.51 877.26L725.1 882.16L720.93 879.13L716.75 882.16L718.35 877.26L714.17 874.22L719.33 874.22ZM722.59 868.16L724.19 873.06L729.35 873.06L725.17 876.09L726.77 881L722.59 877.97L718.42 881L720.01 876.09L715.84 873.06L721 873.06ZM724.22 867.08L725.82 871.99L730.98 871.99L726.8 875.02L728.4 879.93L724.22 876.89L720.05 879.93L721.64 875.02L717.47 871.99L722.63 871.99ZM725.82 866.1L727.42 871.01L732.57 871.01L728.4 874.04L730 878.94L725.82 875.91L721.65 878.94L723.24 874.04L719.07 871.01L724.23 871.01ZM727.39 865.21L728.98 870.11L734.14 870.11L729.97 873.15L731.56 878.05L727.39 875.02L723.21 878.05L724.81 873.15L720.64 870.11L725.79 870.11ZM728.92 864.41L730.52 869.31L735.68 869.31L731.5 872.34L733.1 877.25L728.92 874.22L724.75 877.25L726.34 872.34L722.17 869.31L727.33 869.31ZM730.43 863.69L732.02 868.6L737.18 868.6L733.01 871.63L734.6 876.54L730.43 873.51L726.25 876.54L727.85 871.63L723.68 868.6L728.83 868.6ZM731.9 863.01L733.5 867.92L738.66 867.92L734.48 870.95L736.08 875.86L731.9 872.82L727.73 875.86L729.32 870.95L725.15 867.92L730.31 867.92ZM733.35 862.35L734.95 867.25L740.11 867.25L735.93 870.28L737.53 875.19L733.35 872.16L729.18 875.19L730.77 870.28L726.6 867.25L731.76 867.25ZM734.77 861.69L736.37 866.6L741.53 866.6L737.35 869.63L738.95 874.54L734.77 871.51L730.6 874.54L732.2 869.63L728.02 866.6L733.18 866.6ZM736.17 861.06L737.77 865.96L742.92 865.96L738.75 868.99L740.34 873.9L736.17 870.87L732 873.9L733.59 868.99L729.42 865.96L734.58 865.96ZM737.54 860.43L739.14 865.34L744.3 865.34L740.12 868.37L741.72 873.28L737.54 870.25L733.37 873.28L734.96 868.37L730.79 865.34L735.95 865.34ZM738.89 859.82L740.48 864.73L745.64 864.73L741.47 867.76L743.06 872.67L738.89 869.64L734.72 872.67L736.31 867.76L732.14 864.73L737.3 864.73ZM740.22 859.23L741.81 864.14L746.97 864.14L742.8 867.17L744.39 872.07L740.22 869.04L736.04 872.07L737.64 867.17L733.46 864.14L738.62 864.14ZM741.52 858.65L743.11 863.56L748.27 863.56L744.1 866.59L745.69 871.49L741.52 868.46L737.34 871.49L738.94 866.59L734.77 863.56L739.92 863.56ZM742.8 858.08L744.39 862.99L749.55 862.99L745.38 866.02L746.97 870.93L742.8 867.9L738.63 870.93L740.22 866.02L736.05 862.99L741.21 862.99ZM744.06 857.53L745.65 862.44L750.81 862.44L746.64 865.47L748.23 870.38L744.06 867.35L739.89 870.38L741.48 865.47L737.31 862.44L742.47 862.44ZM745.3 857L746.89 861.9L752.05 861.9L747.88 864.93L749.47 869.84L745.3 866.81L741.13 869.84L742.72 864.93L738.55 861.9L743.71 861.9ZM746.52 856.47L748.11 861.38L753.27 861.38L749.1 864.41L750.69 869.32L746.52 866.29L742.35 869.32L743.94 864.41L739.77 861.38L744.93 861.38ZM747.72 855.96L749.32 860.87L754.47 860.87L750.3 863.9L751.89 868.81L747.72 865.78L743.55 868.81L745.14 863.9L740.97 860.87L746.13 860.87ZM748.9 855.47L750.5 860.37L755.66 860.37L751.48 863.41L753.08 868.31L748.9 865.28L744.73 868.31L746.33 863.41L742.15 860.37L747.31 860.37ZM750.07 854.99L751.66 859.89L756.82 859.89L752.65 862.93L754.24 867.83L750.07 864.8L745.9 867.83L747.49 862.93L743.32 859.89L748.48 859.89ZM751.22 854.52L752.81 859.43L757.97 859.43L753.8 862.46L755.39 867.36L751.22 864.33L747.05 867.36L748.64 862.46L744.47 859.43L749.62 859.43ZM752.35 854.06L753.94 858.97L759.1 858.97L754.93 862L756.52 866.91L752.35 863.88L748.18 866.91L749.77 862L745.6 858.97L750.76 858.97ZM753.47 853.62L755.06 858.53L760.22 858.53L756.04 861.56L757.64 866.47L753.47 863.44L749.29 866.47L750.89 861.56L746.71 858.53L751.87 858.53ZM754.56 853.19L756.16 858.1L761.32 858.1L757.14 861.13L758.74 866.04L754.56 863.01L750.39 866.04L751.98 861.13L747.81 858.1L752.97 858.1ZM755.65 852.78L757.24 857.69L762.4 857.69L758.23 860.72L759.82 865.62L755.65 862.59L751.48 865.62L753.07 860.72L748.9 857.69L754.05 857.69ZM756.72 852.38L758.31 857.28L763.47 857.28L759.3 860.31L760.89 865.22L756.72 862.19L752.54 865.22L754.14 860.31L749.96 857.28L755.12 857.28ZM757.77 851.99L759.37 856.89L764.52 856.89L760.35 859.92L761.95 864.83L757.77 861.8L753.6 864.83L755.19 859.92L751.02 856.89L756.18 856.89ZM758.81 851.61L760.41 856.51L765.56 856.51L761.39 859.55L762.99 864.45L758.81 861.42L754.64 864.45L756.23 859.55L752.06 856.51L757.22 856.51ZM759.84 851.24L761.43 856.15L766.59 856.15L762.42 859.18L764.01 864.09L759.84 861.05L755.67 864.09L757.26 859.18L753.09 856.15L758.24 856.15ZM760.85 850.89L762.45 855.79L767.6 855.8L763.43 858.83L765.03 863.73L760.85 860.7L756.68 863.73L758.27 858.83L754.1 855.8L759.26 855.79ZM761.85 850.55L763.45 855.45L768.6 855.45L764.43 858.49L766.03 863.39L761.85 860.36L757.68 863.39L759.27 858.49L755.1 855.45L760.26 855.45ZM762.84 850.22L764.43 855.12L769.59 855.12L765.42 858.16L767.01 863.06L762.84 860.03L758.67 863.06L760.26 858.16L756.09 855.12L761.24 855.12ZM763.81 849.9L765.41 854.8L770.57 854.8L766.39 857.84L767.99 862.74L763.81 859.71L759.64 862.74L761.23 857.84L757.06 854.8L762.22 854.8ZM764.78 849.59L766.37 854.5L771.53 854.5L767.36 857.53L768.95 862.44L764.78 859.4L760.6 862.44L762.2 857.53L758.02 854.5L763.18 854.5ZM765.73 849.3L767.32 854.2L772.48 854.2L768.31 857.23L769.9 862.14L765.73 859.11L761.55 862.14L763.15 857.23L758.98 854.2L764.13 854.2ZM766.67 849.01L768.26 853.92L773.42 853.92L769.25 856.95L770.84 861.85L766.67 858.82L762.49 861.85L764.09 856.95L759.91 853.92L765.07 853.92ZM767.6 848.74L769.19 853.64L774.35 853.64L770.17 856.67L771.77 861.58L767.6 858.55L763.42 861.58L765.02 856.67L760.84 853.64L766 853.64ZM768.51 848.47L770.11 853.38L775.26 853.38L771.09 856.41L772.69 861.32L768.51 858.29L764.34 861.32L765.93 856.41L761.76 853.38L766.92 853.38ZM769.42 848.22L771.01 853.13L776.17 853.13L772 856.16L773.59 861.06L769.42 858.03L765.25 861.06L766.84 856.16L762.67 853.13L767.82 853.13ZM770.31 847.98L771.91 852.88L777.07 852.88L772.89 855.92L774.49 860.82L770.31 857.79L766.14 860.82L767.74 855.92L763.56 852.88L768.72 852.88ZM771.2 847.74L772.79 852.65L777.95 852.65L773.78 855.68L775.37 860.59L771.2 857.56L767.03 860.59L768.62 855.68L764.45 852.65L769.61 852.65ZM772.08 847.52L773.67 852.43L778.83 852.43L774.66 855.46L776.25 860.37L772.08 857.33L767.9 860.37L769.5 855.46L765.32 852.43L770.48 852.43ZM772.94 847.31L774.54 852.22L779.69 852.22L775.52 855.25L777.12 860.15L772.94 857.12L768.77 860.15L770.36 855.25L766.19 852.22L771.35 852.22ZM773.8 847.11L775.39 852.01L780.55 852.01L776.38 855.05L777.97 859.95L773.8 856.92L769.63 859.95L771.22 855.05L767.05 852.01L772.2 852.01ZM774.65 846.91L776.24 851.82L781.4 851.82L777.23 854.85L778.82 859.76L774.65 856.73L770.47 859.76L772.07 854.85L767.89 851.82L773.05 851.82ZM775.48 846.73L777.08 851.64L782.24 851.64L778.06 854.67L779.66 859.57L775.48 856.54L771.31 859.57L772.9 854.67L768.73 851.64L773.89 851.64ZM776.31 846.56L777.91 851.46L783.07 851.46L778.89 854.49L780.49 859.4L776.31 856.37L772.14 859.4L773.73 854.49L769.56 851.46L774.72 851.46ZM777.13 846.39L778.73 851.3L783.89 851.3L779.71 854.33L781.31 859.23L777.13 856.2L772.96 859.23L774.55 854.33L770.38 851.3L775.54 851.3ZM777.94 846.23L779.54 851.14L784.7 851.14L780.52 854.17L782.12 859.08L777.94 856.05L773.77 859.08L775.36 854.17L771.19 851.14L776.35 851.14ZM778.75 846.09L780.34 850.99L785.5 850.99L781.33 854.02L782.92 858.93L778.75 855.9L774.57 858.93L776.17 854.02L771.99 850.99L777.15 850.99ZM779.54 845.95L781.14 850.85L786.29 850.85L782.12 853.88L783.72 858.79L779.54 855.76L775.37 858.79L776.96 853.88L772.79 850.85L777.95 850.85ZM780.33 845.82L781.92 850.72L787.08 850.72L782.91 853.75L784.5 858.66L780.33 855.63L776.16 858.66L777.75 853.75L773.58 850.72L778.73 850.72ZM781.11 845.69L782.7 850.6L787.86 850.6L783.69 853.63L785.28 858.54L781.11 855.51L776.93 858.54L778.53 853.63L774.36 850.6L779.51 850.6ZM781.88 845.58L783.47 850.49L788.63 850.49L784.46 853.52L786.05 858.42L781.88 855.39L777.71 858.42L779.3 853.52L775.13 850.49L780.28 850.49ZM782.64 845.47L784.24 850.38L789.4 850.38L785.22 853.41L786.82 858.32L782.64 855.29L778.47 858.32L780.06 853.41L775.89 850.38L781.05 850.38ZM783.4 845.38L784.99 850.28L790.15 850.28L785.98 853.32L787.57 858.22L783.4 855.19L779.23 858.22L780.82 853.32L776.65 850.28L781.8 850.28ZM784.15 845.29L785.74 850.19L790.9 850.19L786.73 853.23L788.32 858.13L784.15 855.1L779.97 858.13L781.57 853.23L777.4 850.19L782.55 850.19ZM784.89 845.21L786.48 850.11L791.64 850.11L787.47 853.14L789.06 858.05L784.89 855.02L780.72 858.05L782.31 853.14L778.14 850.11L783.3 850.11ZM785.62 845.13L787.22 850.04L792.38 850.04L788.2 853.07L789.8 857.98L785.62 854.94L781.45 857.98L783.04 853.07L778.87 850.04L784.03 850.04ZM786.35 845.07L787.95 849.97L793.1 849.97L788.93 853L790.52 857.91L786.35 854.88L782.18 857.91L783.77 853L779.6 849.97L784.76 849.97ZM787.07 845.01L788.67 849.91L793.83 849.91L789.65 852.94L791.25 857.85L787.07 854.82L782.9 857.85L784.49 852.94L780.32 849.91L785.48 849.91ZM787.79 844.95L789.38 849.86L794.54 849.86L790.37 852.89L791.96 857.8L787.79 854.77L783.61 857.8L785.21 852.89L781.03 849.86L786.19 849.86ZM788.49 844.91L790.09 849.81L795.25 849.82L791.07 852.85L792.67 857.75L788.49 854.72L784.32 857.75L785.92 852.85L781.74 849.82L786.9 849.81ZM789.2 844.87L790.79 849.78L795.95 849.78L791.78 852.81L793.37 857.72L789.2 854.68L785.02 857.72L786.62 852.81L782.44 849.78L787.6 849.78ZM789.89 844.84L791.49 849.75L796.64 849.75L792.47 852.78L794.06 857.68L789.89 854.65L785.72 857.68L787.31 852.78L783.14 849.75L788.3 849.75ZM790.58 844.82L792.17 849.72L797.33 849.72L793.16 852.76L794.75 857.66L790.58 854.63L786.41 857.66L788 852.76L783.83 849.72L788.99 849.72ZM791.26 844.8L792.86 849.71L798.02 849.71L793.84 852.74L795.44 857.64L791.26 854.61L787.09 857.64L788.68 852.74L784.51 849.71L789.67 849.71Z" stroke="#EDB120" fill="none" stroke-width="1.15"/>
<path d="M424.2 1206.7L426.16 1210.1L430.09 1210.1L428.13 1213.5L430.09 1216.9L426.16 1216.9L424.2 1220.3L422.24 1216.9L418.31 1216.9L420.27 1213.5L418.31 1210.1L422.24 1210.1ZM477.92 1138.4L479.88 1141.8L483.81 1141.8L481.85 1145.2L483.81 1148.6L479.88 1148.6L477.92 1152L475.96 1148.6L472.03 1148.6L473.99 1145.2L472.03 1141.8L475.96 1141.8ZM509.34 1096.5L511.31 1099.9L515.23 1099.9L513.27 1103.3L515.23 1106.7L511.31 1106.7L509.34 1110.1L507.38 1106.7L503.46 1106.7L505.42 1103.3L503.46 1099.9L507.38 1099.9ZM531.64 1067.5L533.6 1070.9L537.53 1070.9L535.57 1074.3L537.53 1077.7L533.6 1077.7L531.64 1081.1L529.68 1077.7L525.75 1077.7L527.71 1074.3L525.75 1070.9L529.68 1070.9ZM548.93 1047L550.9 1050.4L554.82 1050.4L552.86 1053.8L554.82 1057.2L550.9 1057.2L548.93 1060.6L546.97 1057.2L543.05 1057.2L545.01 1053.8L543.05 1050.4L546.97 1050.4ZM563.06 1027.2L565.03 1030.6L568.95 1030.6L566.99 1034L568.95 1037.4L565.03 1037.4L563.06 1040.8L561.1 1037.4L557.18 1037.4L559.14 1034L557.18 1030.6L561.1 1030.6ZM575.01 1011.6L576.97 1015L580.9 1015L578.94 1018.4L580.9 1021.8L576.97 1021.8L575.01 1025.2L573.05 1021.8L569.12 1021.8L571.09 1018.4L569.12 1015L573.05 1015ZM585.36 999.2L587.32 1002.6L591.25 1002.6L589.29 1006L591.25 1009.4L587.32 1009.4L585.36 1012.8L583.4 1009.4L579.47 1009.4L581.43 1006L579.47 1002.6L583.4 1002.6ZM594.49 988.4L596.45 991.8L600.38 991.8L598.41 995.2L600.38 998.6L596.45 998.6L594.49 1002L592.53 998.6L588.6 998.6L590.56 995.2L588.6 991.8L592.53 991.8ZM602.65 977.5L604.62 980.9L608.54 980.9L606.58 984.3L608.54 987.7L604.62 987.7L602.65 991.1L600.69 987.7L596.77 987.7L598.73 984.3L596.77 980.9L600.69 980.9ZM610.04 968.7L612 972.1L615.93 972.1L613.97 975.5L615.93 978.9L612 978.9L610.04 982.3L608.08 978.9L604.15 978.9L606.11 975.5L604.15 972.1L608.08 972.1ZM616.78 961.2L618.75 964.6L622.67 964.6L620.71 968L622.67 971.4L618.75 971.4L616.78 974.8L614.82 971.4L610.9 971.4L612.86 968L610.9 964.6L614.82 964.6ZM622.99 954.2L624.95 957.6L628.88 957.6L626.91 961L628.88 964.4L624.95 964.4L622.99 967.8L621.02 964.4L617.1 964.4L619.06 961L617.1 957.6L621.02 957.6ZM628.73 948.7L630.69 952.1L634.62 952.1L632.66 955.5L634.62 958.9L630.69 958.9L628.73 962.3L626.77 958.9L622.84 958.9L624.81 955.5L622.84 952.1L626.77 952.1ZM634.08 943.2L636.04 946.6L639.97 946.6L638 950L639.97 953.4L636.04 953.4L634.08 956.8L632.12 953.4L628.19 953.4L630.15 950L628.19 946.6L632.12 946.6ZM639.08 937.7L641.04 941.1L644.97 941.1L643.01 944.5L644.97 947.9L641.04 947.9L639.08 951.3L637.12 947.9L633.19 947.9L635.15 944.5L633.19 941.1L637.12 941.1ZM643.78 931.73L645.74 935.13L649.67 935.13L647.7 938.53L649.67 941.93L645.74 941.93L643.78 945.33L641.82 941.93L637.89 941.93L639.85 938.53L637.89 935.13L641.82 935.13ZM648.21 925.68L650.17 929.08L654.1 929.08L652.13 932.48L654.1 935.88L650.17 935.88L648.21 939.28L646.25 935.88L642.32 935.88L644.28 932.48L642.32 929.08L646.25 929.08ZM652.4 920.13L654.36 923.53L658.29 923.53L656.32 926.93L658.29 930.33L654.36 930.33L652.4 933.73L650.44 930.33L646.51 930.33L648.47 926.93L646.51 923.53L650.44 923.53ZM656.37 915.42L658.34 918.82L662.26 918.82L660.3 922.22L662.26 925.62L658.34 925.62L656.37 929.02L654.41 925.62L650.49 925.62L652.45 922.22L650.49 918.82L654.41 918.82ZM660.16 911.32L662.12 914.72L666.04 914.72L664.08 918.12L666.04 921.52L662.12 921.52L660.16 924.92L658.19 921.52L654.27 921.52L656.23 918.12L654.27 914.72L658.19 914.72ZM663.76 907.61L665.72 911.01L669.65 911.01L667.69 914.41L669.65 917.81L665.72 917.81L663.76 921.21L661.8 917.81L657.87 917.81L659.83 914.41L657.87 911.01L661.8 911.01ZM667.21 904.16L669.17 907.56L673.09 907.56L671.13 910.96L673.09 914.36L669.17 914.36L667.21 917.76L665.24 914.36L661.32 914.36L663.28 910.96L661.32 907.56L665.24 907.56ZM670.5 900.88L672.47 904.28L676.39 904.28L674.43 907.68L676.39 911.08L672.47 911.08L670.5 914.48L668.54 911.08L664.62 911.08L666.58 907.68L664.62 904.28L668.54 904.28ZM673.67 897.74L675.63 901.14L679.56 901.14L677.59 904.54L679.56 907.94L675.63 907.94L673.67 911.34L671.7 907.94L667.78 907.94L669.74 904.54L667.78 901.14L671.7 901.14ZM676.71 894.76L678.67 898.16L682.6 898.16L680.63 901.56L682.6 904.96L678.67 904.96L676.71 908.36L674.74 904.96L670.82 904.96L672.78 901.56L670.82 898.16L674.74 898.16ZM679.63 891.94L681.6 895.34L685.52 895.34L683.56 898.74L685.52 902.14L681.6 902.14L679.63 905.54L677.67 902.14L673.74 902.14L675.71 898.74L673.74 895.34L677.67 895.34ZM682.45 889.25L684.41 892.65L688.34 892.65L686.38 896.05L688.34 899.45L684.41 899.45L682.45 902.85L680.49 899.45L676.56 899.45L678.53 896.05L676.56 892.65L680.49 892.65ZM685.17 886.7L687.13 890.1L691.06 890.1L689.1 893.5L691.06 896.9L687.13 896.9L685.17 900.3L683.21 896.9L679.28 896.9L681.24 893.5L679.28 890.1L683.21 890.1ZM687.8 884.28L689.76 887.68L693.69 887.68L691.72 891.08L693.69 894.48L689.76 894.48L687.8 897.88L685.84 894.48L681.91 894.48L683.87 891.08L681.91 887.68L685.84 887.68ZM690.34 881.98L692.3 885.38L696.23 885.38L694.27 888.78L696.23 892.18L692.3 892.18L690.34 895.58L688.38 892.18L684.45 892.18L686.41 888.78L684.45 885.38L688.38 885.38ZM692.8 879.79L694.76 883.19L698.69 883.19L696.73 886.59L698.69 889.99L694.76 889.99L692.8 893.39L690.84 889.99L686.91 889.99L688.87 886.59L686.91 883.19L690.84 883.19ZM695.18 877.71L697.15 881.11L701.07 881.11L699.11 884.51L701.07 887.91L697.15 887.91L695.18 891.31L693.22 887.91L689.3 887.91L691.26 884.51L689.3 881.11L693.22 881.11ZM697.5 875.72L699.46 879.12L703.39 879.12L701.42 882.52L703.39 885.92L699.46 885.92L697.5 889.32L695.54 885.92L691.61 885.92L693.57 882.52L691.61 879.12L695.54 879.12ZM699.75 873.81L701.71 877.21L705.63 877.21L703.67 880.61L705.63 884.01L701.71 884.01L699.75 887.41L697.78 884.01L693.86 884.01L695.82 880.61L693.86 877.21L697.78 877.21ZM701.93 871.98L703.89 875.38L707.82 875.38L705.85 878.78L707.82 882.18L703.89 882.18L701.93 885.58L699.97 882.18L696.04 882.18L698 878.78L696.04 875.38L699.97 875.38ZM704.05 870.2L706.01 873.6L709.94 873.6L707.98 877L709.94 880.4L706.01 880.4L704.05 883.8L702.09 880.4L698.16 880.4L700.13 877L698.16 873.6L702.09 873.6ZM706.12 868.49L708.08 871.89L712.01 871.89L710.04 875.29L712.01 878.69L708.08 878.69L706.12 882.09L704.16 878.69L700.23 878.69L702.19 875.29L700.23 871.89L704.16 871.89ZM708.13 866.82L710.09 870.22L714.02 870.22L712.06 873.62L714.02 877.02L710.09 877.02L708.13 880.42L706.17 877.02L702.24 877.02L704.21 873.62L702.24 870.22L706.17 870.22ZM710.09 865.2L712.06 868.6L715.98 868.6L714.02 872L715.98 875.4L712.06 875.4L710.09 878.8L708.13 875.4L704.21 875.4L706.17 872L704.21 868.6L708.13 868.6ZM712.01 863.6L713.97 867L717.9 867L715.93 870.4L717.9 873.8L713.97 873.8L712.01 877.2L710.04 873.8L706.12 873.8L708.08 870.4L706.12 867L710.04 867ZM713.88 862.02L715.84 865.42L719.76 865.42L717.8 868.82L719.76 872.22L715.84 872.22L713.88 875.62L711.91 872.22L707.99 872.22L709.95 868.82L707.99 865.42L711.91 865.42ZM715.7 860.46L717.66 863.86L721.59 863.86L719.62 867.26L721.59 870.66L717.66 870.66L715.7 874.06L713.74 870.66L709.81 870.66L711.77 867.26L709.81 863.86L713.74 863.86ZM717.48 858.94L719.44 862.34L723.37 862.34L721.41 865.74L723.37 869.14L719.44 869.14L717.48 872.54L715.52 869.14L711.59 869.14L713.55 865.74L711.59 862.34L715.52 862.34ZM719.22 857.46L721.19 860.86L725.11 860.86L723.15 864.26L725.11 867.66L721.19 867.66L719.22 871.06L717.26 867.66L713.33 867.66L715.3 864.26L713.33 860.86L717.26 860.86ZM720.93 856.04L722.89 859.44L726.81 859.44L724.85 862.84L726.81 866.24L722.89 866.24L720.93 869.64L718.96 866.24L715.04 866.24L717 862.84L715.04 859.44L718.96 859.44ZM722.59 854.67L724.56 858.07L728.48 858.07L726.52 861.47L728.48 864.87L724.56 864.87L722.59 868.27L720.63 864.87L716.7 864.87L718.67 861.47L716.7 858.07L720.63 858.07ZM724.22 853.37L726.19 856.77L730.11 856.77L728.15 860.17L730.11 863.57L726.19 863.57L724.22 866.97L722.26 863.57L718.34 863.57L720.3 860.17L718.34 856.77L722.26 856.77ZM725.82 852.14L727.79 855.54L731.71 855.54L729.75 858.94L731.71 862.34L727.79 862.34L725.82 865.74L723.86 862.34L719.93 862.34L721.9 858.94L719.93 855.54L723.86 855.54ZM727.39 850.99L729.35 854.39L733.28 854.39L731.31 857.79L733.28 861.19L729.35 861.19L727.39 864.59L725.42 861.19L721.5 861.19L723.46 857.79L721.5 854.39L725.42 854.39ZM728.92 849.91L730.89 853.31L734.81 853.31L732.85 856.71L734.81 860.11L730.89 860.11L728.92 863.51L726.96 860.11L723.03 860.11L725 856.71L723.03 853.31L726.96 853.31ZM730.43 848.91L732.39 852.31L736.32 852.31L734.35 855.71L736.32 859.11L732.39 859.11L730.43 862.51L728.46 859.11L724.54 859.11L726.5 855.71L724.54 852.31L728.46 852.31ZM731.9 847.94L733.87 851.34L737.79 851.34L735.83 854.74L737.79 858.14L733.87 858.14L731.9 861.54L729.94 858.14L726.01 858.14L727.98 854.74L726.01 851.34L729.94 851.34ZM733.35 847L735.32 850.4L739.24 850.4L737.28 853.8L739.24 857.2L735.32 857.2L733.35 860.6L731.39 857.2L727.46 857.2L729.43 853.8L727.46 850.4L731.39 850.4ZM734.77 846.09L736.74 849.49L740.66 849.49L738.7 852.89L740.66 856.29L736.74 856.29L734.77 859.69L732.81 856.29L728.89 856.29L730.85 852.89L728.89 849.49L732.81 849.49ZM736.17 845.22L738.13 848.62L742.06 848.62L740.1 852.02L742.06 855.42L738.13 855.42L736.17 858.82L734.21 855.42L730.28 855.42L732.25 852.02L730.28 848.62L734.21 848.62ZM737.54 844.39L739.51 847.79L743.43 847.79L741.47 851.19L743.43 854.59L739.51 854.59L737.54 857.99L735.58 854.59L731.65 854.59L733.62 851.19L731.65 847.79L735.58 847.79ZM738.89 843.61L740.85 847.01L744.78 847.01L742.82 850.41L744.78 853.81L740.85 853.81L738.89 857.21L736.93 853.81L733 853.81L734.96 850.41L733 847.01L736.93 847.01ZM740.22 842.87L742.18 846.27L746.1 846.27L744.14 849.67L746.1 853.07L742.18 853.07L740.22 856.47L738.25 853.07L734.33 853.07L736.29 849.67L734.33 846.27L738.25 846.27ZM741.52 842.19L743.48 845.59L747.41 845.59L745.44 848.99L747.41 852.39L743.48 852.39L741.52 855.79L739.56 852.39L735.63 852.39L737.59 848.99L735.63 845.59L739.56 845.59ZM742.8 841.56L744.76 844.96L748.69 844.96L746.73 848.36L748.69 851.76L744.76 851.76L742.8 855.16L740.84 851.76L736.91 851.76L738.87 848.36L736.91 844.96L740.84 844.96ZM744.06 840.99L746.02 844.39L749.95 844.39L747.99 847.79L749.95 851.19L746.02 851.19L744.06 854.59L742.1 851.19L738.17 851.19L740.13 847.79L738.17 844.39L742.1 844.39ZM745.3 840.48L747.26 843.88L751.19 843.88L749.23 847.28L751.19 850.68L747.26 850.68L745.3 854.08L743.34 850.68L739.41 850.68L741.37 847.28L739.41 843.88L743.34 843.88ZM746.52 840.02L748.48 843.42L752.41 843.42L750.45 846.82L752.41 850.22L748.48 850.22L746.52 853.62L744.56 850.22L740.63 850.22L742.59 846.82L740.63 843.42L744.56 843.42ZM747.72 839.58L749.68 842.98L753.61 842.98L751.65 846.38L753.61 849.78L749.68 849.78L747.72 853.18L745.76 849.78L741.83 849.78L743.8 846.38L741.83 842.98L745.76 842.98ZM748.9 839.15L750.87 842.55L754.79 842.55L752.83 845.95L754.79 849.35L750.87 849.35L748.9 852.75L746.94 849.35L743.02 849.35L744.98 845.95L743.02 842.55L746.94 842.55ZM750.07 838.73L752.03 842.13L755.96 842.13L754 845.53L755.96 848.93L752.03 848.93L750.07 852.33L748.11 848.93L744.18 848.93L746.14 845.53L744.18 842.13L748.11 842.13ZM751.22 838.31L753.18 841.71L757.11 841.71L755.14 845.11L757.11 848.51L753.18 848.51L751.22 851.91L749.26 848.51L745.33 848.51L747.29 845.11L745.33 841.71L749.26 841.71ZM752.35 837.91L754.31 841.31L758.24 841.31L756.28 844.71L758.24 848.11L754.31 848.11L752.35 851.51L750.39 848.11L746.46 848.11L748.42 844.71L746.46 841.31L750.39 841.31ZM753.47 837.51L755.43 840.91L759.35 840.91L757.39 844.31L759.35 847.71L755.43 847.71L753.47 851.11L751.5 847.71L747.58 847.71L749.54 844.31L747.58 840.91L751.5 840.91ZM754.56 837.12L756.53 840.52L760.45 840.52L758.49 843.92L760.45 847.32L756.53 847.32L754.56 850.72L752.6 847.32L748.68 847.32L750.64 843.92L748.68 840.52L752.6 840.52ZM755.65 836.74L757.61 840.14L761.54 840.14L759.57 843.54L761.54 846.94L757.61 846.94L755.65 850.34L753.69 846.94L749.76 846.94L751.72 843.54L749.76 840.14L753.69 840.14ZM756.72 836.37L758.68 839.77L762.61 839.77L760.64 843.17L762.61 846.57L758.68 846.57L756.72 849.97L754.75 846.57L750.83 846.57L752.79 843.17L750.83 839.77L754.75 839.77ZM757.77 836.01L759.73 839.41L763.66 839.41L761.7 842.81L763.66 846.21L759.73 846.21L757.77 849.61L755.81 846.21L751.88 846.21L753.85 842.81L751.88 839.41L755.81 839.41ZM758.81 835.66L760.78 839.06L764.7 839.06L762.74 842.46L764.7 845.86L760.78 845.86L758.81 849.26L756.85 845.86L752.92 845.86L754.89 842.46L752.92 839.06L756.85 839.06ZM759.84 835.32L761.8 838.72L765.73 838.72L763.76 842.12L765.73 845.52L761.8 845.52L759.84 848.92L757.88 845.52L753.95 845.52L755.91 842.12L753.95 838.72L757.88 838.72ZM760.85 834.98L762.81 838.38L766.74 838.38L764.78 841.78L766.74 845.18L762.81 845.18L760.85 848.58L758.89 845.18L754.96 845.18L756.93 841.78L754.96 838.38L758.89 838.38ZM761.85 834.66L763.81 838.06L767.74 838.06L765.78 841.46L767.74 844.86L763.81 844.86L761.85 848.26L759.89 844.86L755.96 844.86L757.93 841.46L755.96 838.06L759.89 838.06ZM762.84 834.35L764.8 837.75L768.73 837.75L766.77 841.15L768.73 844.55L764.8 844.55L762.84 847.95L760.88 844.55L756.95 844.55L758.91 841.15L756.95 837.75L760.88 837.75ZM763.81 834.04L765.78 837.44L769.7 837.44L767.74 840.84L769.7 844.24L765.78 844.24L763.81 847.64L761.85 844.24L757.93 844.24L759.89 840.84L757.93 837.44L761.85 837.44ZM764.78 833.75L766.74 837.15L770.67 837.15L768.7 840.55L770.67 843.95L766.74 843.95L764.78 847.35L762.81 843.95L758.89 843.95L760.85 840.55L758.89 837.15L762.81 837.15ZM765.73 833.46L767.69 836.86L771.62 836.86L769.65 840.26L771.62 843.66L767.69 843.66L765.73 847.06L763.76 843.66L759.84 843.66L761.8 840.26L759.84 836.86L763.76 836.86ZM766.67 833.19L768.63 836.59L772.56 836.59L770.59 839.99L772.56 843.39L768.63 843.39L766.67 846.79L764.7 843.39L760.78 843.39L762.74 839.99L760.78 836.59L764.7 836.59ZM767.6 832.92L769.56 836.32L773.48 836.32L771.52 839.72L773.48 843.12L769.56 843.12L767.6 846.52L765.63 843.12L761.71 843.12L763.67 839.72L761.71 836.32L765.63 836.32ZM768.51 832.66L770.48 836.06L774.4 836.06L772.44 839.46L774.4 842.86L770.48 842.86L768.51 846.26L766.55 842.86L762.62 842.86L764.59 839.46L762.62 836.06L766.55 836.06ZM769.42 832.41L771.38 835.81L775.31 835.81L773.34 839.21L775.31 842.61L771.38 842.61L769.42 846.01L767.46 842.61L763.53 842.61L765.49 839.21L763.53 835.81L767.46 835.81ZM770.31 832.18L772.28 835.58L776.2 835.58L774.24 838.98L776.2 842.38L772.28 842.38L770.31 845.78L768.35 842.38L764.43 842.38L766.39 838.98L764.43 835.58L768.35 835.58ZM771.2 831.95L773.16 835.35L777.09 835.35L775.13 838.75L777.09 842.15L773.16 842.15L771.2 845.55L769.24 842.15L765.31 842.15L767.27 838.75L765.31 835.35L769.24 835.35ZM772.08 831.73L774.04 835.13L777.97 835.13L776 838.53L777.97 841.93L774.04 841.93L772.08 845.33L770.11 841.93L766.19 841.93L768.15 838.53L766.19 835.13L770.11 835.13ZM772.94 831.52L774.91 834.92L778.83 834.92L776.87 838.32L778.83 841.72L774.91 841.72L772.94 845.12L770.98 841.72L767.05 841.72L769.02 838.32L767.05 834.92L770.98 834.92ZM773.8 831.31L775.76 834.71L779.69 834.71L777.72 838.11L779.69 841.51L775.76 841.51L773.8 844.91L771.84 841.51L767.91 841.51L769.87 838.11L767.91 834.71L771.84 834.71ZM774.65 831.12L776.61 834.52L780.53 834.52L778.57 837.92L780.53 841.32L776.61 841.32L774.65 844.72L772.68 841.32L768.76 841.32L770.72 837.92L768.76 834.52L772.68 834.52ZM775.48 830.94L777.45 834.34L781.37 834.34L779.41 837.74L781.37 841.14L777.45 841.14L775.48 844.54L773.52 841.14L769.59 841.14L771.56 837.74L769.59 834.34L773.52 834.34ZM776.31 830.76L778.28 834.16L782.2 834.16L780.24 837.56L782.2 840.96L778.28 840.96L776.31 844.36L774.35 840.96L770.42 840.96L772.39 837.56L770.42 834.16L774.35 834.16ZM777.13 830.6L779.1 834L783.02 834L781.06 837.4L783.02 840.8L779.1 840.8L777.13 844.2L775.17 840.8L771.24 840.8L773.21 837.4L771.24 834L775.17 834ZM777.94 830.44L779.91 833.84L783.83 833.84L781.87 837.24L783.83 840.64L779.91 840.64L777.94 844.04L775.98 840.64L772.06 840.64L774.02 837.24L772.06 833.84L775.98 833.84ZM778.75 830.29L780.71 833.69L784.64 833.69L782.67 837.09L784.64 840.49L780.71 840.49L778.75 843.89L776.78 840.49L772.86 840.49L774.82 837.09L772.86 833.69L776.78 833.69ZM779.54 830.15L781.51 833.55L785.43 833.55L783.47 836.95L785.43 840.35L781.51 840.35L779.54 843.75L777.58 840.35L773.65 840.35L775.62 836.95L773.65 833.55L777.58 833.55ZM780.33 830.02L782.29 833.42L786.22 833.42L784.26 836.82L786.22 840.22L782.29 840.22L780.33 843.62L778.37 840.22L774.44 840.22L776.4 836.82L774.44 833.42L778.37 833.42ZM781.11 829.89L783.07 833.29L787 833.29L785.03 836.69L787 840.09L783.07 840.09L781.11 843.49L779.14 840.09L775.22 840.09L777.18 836.69L775.22 833.29L779.14 833.29ZM781.88 829.78L783.84 833.18L787.77 833.18L785.81 836.58L787.77 839.98L783.84 839.98L781.88 843.38L779.92 839.98L775.99 839.98L777.95 836.58L775.99 833.18L779.92 833.18ZM782.64 829.67L784.61 833.07L788.53 833.07L786.57 836.47L788.53 839.87L784.61 839.87L782.64 843.27L780.68 839.87L776.75 839.87L778.72 836.47L776.75 833.07L780.68 833.07ZM783.4 829.57L785.36 832.97L789.29 832.97L787.32 836.37L789.29 839.77L785.36 839.77L783.4 843.17L781.44 839.77L777.51 839.77L779.47 836.37L777.51 832.97L781.44 832.97ZM784.15 829.48L786.11 832.88L790.04 832.88L788.07 836.28L790.04 839.68L786.11 839.68L784.15 843.08L782.18 839.68L778.26 839.68L780.22 836.28L778.26 832.88L782.18 832.88ZM784.89 829.4L786.85 832.8L790.78 832.8L788.82 836.2L790.78 839.6L786.85 839.6L784.89 843L782.93 839.6L779 839.6L780.96 836.2L779 832.8L782.93 832.8ZM785.62 829.33L787.59 832.73L791.51 832.73L789.55 836.13L791.51 839.53L787.59 839.53L785.62 842.93L783.66 839.53L779.73 839.53L781.7 836.13L779.73 832.73L783.66 832.73ZM786.35 829.26L788.31 832.66L792.24 832.66L790.28 836.06L792.24 839.46L788.31 839.46L786.35 842.86L784.39 839.46L780.46 839.46L782.43 836.06L780.46 832.66L784.39 832.66ZM787.07 829.2L789.04 832.6L792.96 832.6L791 836L792.96 839.4L789.04 839.4L787.07 842.8L785.11 839.4L781.18 839.4L783.15 836L781.18 832.6L785.11 832.6ZM787.79 829.15L789.75 832.55L793.68 832.55L791.71 835.95L793.68 839.35L789.75 839.35L787.79 842.75L785.82 839.35L781.9 839.35L783.86 835.95L781.9 832.55L785.82 832.55ZM788.49 829.1L790.46 832.5L794.38 832.5L792.42 835.9L794.38 839.3L790.46 839.3L788.49 842.7L786.53 839.3L782.61 839.3L784.57 835.9L782.61 832.5L786.53 832.5ZM789.2 829.07L791.16 832.47L795.08 832.47L793.12 835.87L795.08 839.27L791.16 839.27L789.2 842.67L787.23 839.27L783.31 839.27L785.27 835.87L783.31 832.47L787.23 832.47ZM789.89 829.04L791.85 832.44L795.78 832.44L793.82 835.84L795.78 839.24L791.85 839.24L789.89 842.64L787.93 839.24L784 839.24L785.97 835.84L784 832.44L787.93 832.44ZM790.58 829.01L792.54 832.41L796.47 832.41L794.51 835.81L796.47 839.21L792.54 839.21L790.58 842.61L788.62 839.21L784.69 839.21L786.65 835.81L784.69 832.41L788.62 832.41ZM791.26 829L793.23 832.4L797.15 832.4L795.19 835.8L797.15 839.2L793.23 839.2L791.26 842.6L789.3 839.2L785.37 839.2L787.34 835.8L785.37 832.4L789.3 832.4Z" stroke="#7E2F8E" fill="none" stroke-width="1.15"/>
<rect x="196.5" y="727.1" width="246.3" height="164.9" fill="#fff"/>
<path d="M266.87 892V888.8M266.87 727.1V730.3M337.24 892V888.8M337.24 727.1V730.3M407.61 892V888.8M407.61 727.1V730.3M196.5 837.03H199.7M442.8 837.03H439.6M196.5 782.07H199.7M442.8 782.07H439.6" stroke="#262626" stroke-width="1" fill="none"/>
<rect x="196.5" y="727.1" width="246.3" height="164.9" stroke="#262626" stroke-width="1.1" fill="none"/>
<text x="187.2" y="900.2" font-size="22.5" text-anchor="end" font-style="italic" font-weight="normal">0.35</text>
<text x="187.2" y="845.23" font-size="22.5" text-anchor="end" font-style="italic" font-weight="normal">0.4</text>
<text x="187.2" y="790.27" font-size="22.5" text-anchor="end" font-style="italic" font-weight="normal">0.45</text>
<text x="187.2" y="735.3" font-size="22.5" text-anchor="end" font-style="italic" font-weight="normal">0.5</text>
<text x="196.5" y="921" font-size="22.5" text-anchor="middle" font-style="italic" font-weight="normal">0</text>
<text x="266.87" y="921" font-size="22.5" text-anchor="middle" font-style="italic" font-weight="normal">0.01</text>
<text x="337.24" y="921" font-size="22.5" text-anchor="middle" font-style="italic" font-weight="normal">0.02</text>
<text x="407.61" y="921" font-size="22.5" text-anchor="middle" font-style="italic" font-weight="normal">0.03</text>
<g transform="translate(138 809) rotate(-90)">
<text x="0" y="0" font-size="24" text-anchor="middle" font-style="italic" font-weight="normal">α</text>
</g>
<text x="320" y="955.5" font-size="24.5" text-anchor="middle" font-style="italic" font-weight="normal">1/t<tspan font-size="20" dy="-11">1/2</tspan></text>
<g stroke="#0072BD" stroke-width="4.9" fill="none"><circle cx="260.4" cy="755.4" r="7.75"/><circle cx="269.3" cy="758.9" r="7.75"/><circle cx="276.7" cy="763.9" r="7.75"/><circle cx="292.6" cy="771.7" r="7.75"/><circle cx="306.9" cy="780.6" r="7.75"/><circle cx="324.7" cy="792.2" r="7.75"/><circle cx="353.4" cy="812.7" r="7.75"/><circle cx="383.6" cy="836.8" r="7.75"/><circle cx="419.3" cy="867" r="7.75"/></g>
<path d="M196.5 729.3 L200.67 730.63 L204.85 732.01 L209.02 733.44 L213.2 734.92 L217.37 736.45 L221.55 738.03 L225.72 739.66 L229.9 741.34 L234.07 743.06 L238.24 744.84 L242.42 746.66 L246.59 748.53 L250.77 750.46 L254.94 752.43 L259.12 754.45 L263.29 756.52 L267.47 758.64 L271.64 760.8 L275.82 763.02 L279.99 765.29 L284.16 767.6 L288.34 769.97 L292.51 772.38 L296.69 774.84 L300.86 777.36 L305.04 779.92 L309.21 782.53 L313.39 785.19 L317.56 787.89 L321.73 790.65 L325.91 793.46 L330.08 796.31 L334.26 799.22 L338.43 802.17 L342.61 805.18 L346.78 808.23 L350.96 811.33 L355.13 814.48 L359.31 817.68 L363.48 820.93 L367.65 824.23 L371.83 827.57 L376 830.97 L380.18 834.42 L384.35 837.91 L388.53 841.45 L392.7 845.05 L396.88 848.69 L401.05 852.38 L405.22 856.12 L409.4 859.91 L413.57 863.75 L417.75 867.64 L421.92 871.57 L426.1 875.56 L430.27 879.59 L434.45 883.68 L438.62 887.81 L442.8 891.99" stroke="#7E2F8E" stroke-width="2.4" fill="none"/>
<rect x="193.5" y="966.3" width="248.2" height="176.4" fill="#fff"/>
<path d="M221.5 1142.7V1139.5M221.5 966.3V969.5M331.6 1142.7V1139.5M331.6 966.3V969.5M193.5 1120.7H196.7M441.7 1120.7H438.5M193.5 1065.4H196.7M441.7 1065.4H438.5M193.5 1010.1H196.7M441.7 1010.1H438.5" stroke="#262626" stroke-width="1" fill="none"/>
<rect x="193.5" y="966.3" width="248.2" height="176.4" stroke="#262626" stroke-width="1.1" fill="none"/>
<text x="183" y="1018.3" font-size="22.5" text-anchor="end" font-style="italic" font-weight="normal">0</text>
<text x="183" y="1073.6" font-size="22.5" text-anchor="end" font-style="italic" font-weight="normal">-5</text>
<text x="183" y="1128.9" font-size="22.5" text-anchor="end" font-style="italic" font-weight="normal">-10</text>
<text x="221.5" y="1173" font-size="22.5" text-anchor="middle" font-style="italic" font-weight="normal">-4</text>
<text x="331.6" y="1173" font-size="22.5" text-anchor="middle" font-style="italic" font-weight="normal">-2</text>
<text x="441.7" y="1173" font-size="22.5" text-anchor="middle" font-style="italic" font-weight="normal">0</text>
<text x="318.5" y="1207.5" font-size="24.5" text-anchor="middle" font-style="italic" font-weight="normal">log<tspan font-size="19" dy="10">2</tspan><tspan dy="-10">(r/t</tspan><tspan font-size="19" dy="-10">1/z</tspan><tspan dy="10">)</tspan></text>
<g transform="translate(144.5 1054) rotate(-90)">
<text x="0" y="0" font-size="25" text-anchor="middle" font-style="italic" font-weight="normal">log<tspan font-size="19" dy="10">2</tspan><tspan dy="-10">(C(r,t)/r</tspan><tspan font-size="19" dy="-10">2α</tspan><tspan dy="10">)</tspan></text>
</g>
<path d="M218.4 989.6 L219.62 990.06 L220.84 990.51 L222.06 990.97 L223.28 991.43 L224.5 991.89 L225.71 992.35 L226.93 992.81 L228.15 993.28 L229.37 993.74 L230.58 994.2 L231.8 994.67 L233.02 995.13 L234.23 995.59 L235.45 996.06 L236.67 996.53 L237.88 996.99 L239.1 997.46 L240.31 997.93 L241.53 998.4 L242.74 998.87 L243.96 999.34 L245.17 999.81 L246.38 1000.28 L247.6 1000.76 L248.81 1001.23 L250.02 1001.7 L251.24 1002.18 L252.45 1002.65 L253.66 1003.13 L254.87 1003.6 L256.08 1004.08 L257.29 1004.56 L258.51 1005.04 L259.72 1005.52 L260.93 1006 L262.14 1006.48 L263.35 1006.96 L264.56 1007.44 L265.77 1007.92 L266.98 1008.4 L268.19 1008.88 L269.39 1009.37 L270.6 1009.85 L271.81 1010.34 L273.02 1010.82 L274.23 1011.31 L275.44 1011.79 L276.64 1012.28 L277.85 1012.77 L279.06 1013.25 L280.26 1013.74 L281.47 1014.23 L282.68 1014.72 L283.88 1015.22 L285.08 1015.71 L286.29 1016.21 L287.49 1016.71 L288.69 1017.22 L289.89 1017.72 L291.09 1018.23 L292.29 1018.74 L293.49 1019.24 L294.69 1019.76 L295.88 1020.27 L297.08 1020.78 L298.28 1021.29 L299.47 1021.81 L300.67 1022.32 L301.87 1022.84 L303.06 1023.35 L304.26 1023.87 L305.46 1024.38 L306.65 1024.9 L307.85 1025.41 L309.05 1025.92 L310.24 1026.44 L311.44 1026.95 L312.64 1027.46 L313.84 1027.97 L315.04 1028.48 L316.24 1028.99 L317.43 1029.49 L318.64 1030 L319.84 1030.5 L321.04 1031 L322.24 1031.5 L323.44 1032 L324.65 1032.49 L325.85 1032.98 L327.06 1033.47 L328.27 1033.95 L329.48 1034.44 L330.69 1034.92 L331.9 1035.39 L333.11 1035.86 L334.33 1036.33 L335.54 1036.8 L336.76 1037.26 L337.98 1037.72 L339.2 1038.17 L340.42 1038.63 L341.64 1039.08 L342.86 1039.53 L344.08 1039.98 L345.3 1040.43 L346.53 1040.88 L347.75 1041.33 L348.97 1041.78 L350.19 1042.23 L351.42 1042.68 L352.64 1043.13 L353.86 1043.59 L355.08 1044.04 L356.3 1044.5 L357.51 1044.96 L358.73 1045.43 L359.95 1045.88 L361.18 1046.33 L362.41 1046.78 L363.64 1047.22 L364.88 1047.66 L366.12 1048.09 L367.36 1048.53 L368.6 1048.96 L369.84 1049.4 L371.08 1049.84 L372.31 1050.28 L373.54 1050.73 L374.77 1051.18 L375.99 1051.64 L377.2 1052.12 L378.41 1052.6 L379.61 1053.09 L380.8 1053.6 L381.98 1054.12 L383.15 1054.65 L384.31 1055.2 L385.46 1055.77 L386.6 1056.36 L387.75 1056.97 L388.91 1057.61 L390.08 1058.26 L391.24 1058.94 L392.39 1059.64 L393.52 1060.36 L394.62 1061.11 L395.7 1061.88 L396.73 1062.68 L397.72 1063.5 L398.65 1064.34 L399.52 1065.21 L400.35 1066.12 L401.15 1067.08 L401.94 1068.1 L402.7 1069.16 L403.44 1070.26 L404.15 1071.39 L404.83 1072.55 L405.48 1073.73 L406.1 1074.92 L406.67 1076.12 L407.21 1077.32 L407.71 1078.52 L408.17 1079.7 L408.6 1080.9 L409.02 1082.13 L409.42 1083.36 L409.81 1084.61 L410.17 1085.87 L410.52 1087.14 L410.84 1088.42 L411.15 1089.7" stroke="#D95319" stroke-width="7" fill="none" stroke-linecap="butt"/>
<path d="M230.48 995.1 L231.7 995.57 L232.92 996.03 L234.13 996.49 L235.35 996.96 L236.57 997.43 L237.78 997.89 L239 998.36 L240.21 998.83 L241.43 999.3 L242.64 999.77 L243.86 1000.24 L245.07 1000.71 L246.28 1001.18 L247.5 1001.66 L248.71 1002.13 L249.92 1002.6 L251.14 1003.08 L252.35 1003.55 L253.56 1004.03 L254.77 1004.5 L255.98 1004.98 L257.19 1005.46 L258.41 1005.94 L259.62 1006.42 L260.83 1006.9 L262.04 1007.38 L263.25 1007.86 L264.46 1008.34 L265.67 1008.82 L266.88 1009.3 L268.09 1009.78 L269.29 1010.27 L270.5 1010.75 L271.71 1011.24 L272.92 1011.72 L274.13 1012.21 L275.34 1012.69 L276.54 1013.18 L277.75 1013.67 L278.96 1014.15 L280.16 1014.64 L281.37 1015.13 L282.58 1015.62 L283.78 1016.12 L284.98 1016.61 L286.19 1017.11 L287.39 1017.61 L288.59 1018.12 L289.79 1018.62 L290.99 1019.13 L292.19 1019.64 L293.39 1020.14 L294.59 1020.66 L295.78 1021.17 L296.98 1021.68 L298.18 1022.19 L299.37 1022.71 L300.57 1023.22 L301.77 1023.74 L302.96 1024.25 L304.16 1024.77 L305.36 1025.28 L306.55 1025.8 L307.75 1026.31 L308.95 1026.82 L310.14 1027.34 L311.34 1027.85 L312.54 1028.36 L313.74 1028.87 L314.94 1029.38 L316.14 1029.89 L317.33 1030.39 L318.54 1030.9 L319.74 1031.4 L320.94 1031.9 L322.14 1032.4 L323.34 1032.9 L324.55 1033.39 L325.75 1033.88 L326.96 1034.37 L328.17 1034.85 L329.38 1035.34 L330.59 1035.82 L331.8 1036.29 L333.01 1036.76 L334.23 1037.23 L335.44 1037.7 L336.66 1038.16 L337.88 1038.62 L339.1 1039.07 L340.32 1039.53 L341.54 1039.98 L342.76 1040.43 L343.98 1040.88 L345.2 1041.33 L346.43 1041.78 L347.65 1042.23 L348.87 1042.68 L350.09 1043.13 L351.32 1043.58 L352.54 1044.03 L353.76 1044.49 L354.98 1044.94 L356.2 1045.4 L357.41 1045.86 L358.63 1046.33 L359.85 1046.78 L361.08 1047.23 L362.31 1047.68 L363.54 1048.12 L364.78 1048.56 L366.02 1048.99 L367.26 1049.43 L368.5 1049.86 L369.74 1050.3 L370.98 1050.74 L372.21 1051.18 L373.44 1051.63 L374.67 1052.08 L375.89 1052.54 L377.1 1053.02 L378.31 1053.5 L379.51 1053.99 L380.7 1054.5 L381.88 1055.02 L383.05 1055.55 L384.21 1056.1 L385.36 1056.67 L386.5 1057.26 L387.65 1057.87 L388.81 1058.51 L389.98 1059.16 L391.14 1059.84 L392.29 1060.54 L393.42 1061.26 L394.52 1062.01 L395.6 1062.78 L396.63 1063.58 L397.62 1064.4 L398.55 1065.24 L399.42 1066.11 L400.25 1067.02 L401.05 1067.98 L401.84 1069 L402.6 1070.06 L403.34 1071.16 L404.05 1072.29 L404.73 1073.45 L405.38 1074.63 L406 1075.82 L406.57 1077.02 L407.11 1078.22 L407.61 1079.42 L408.07 1080.6 L408.5 1081.8 L408.92 1083.03 L409.32 1084.26 L409.71 1085.51 L410.07 1086.77 L410.42 1088.04 L410.74 1089.32 L411.05 1090.6 L411.34 1091.88 L411.61 1093.16 L411.86 1094.44" stroke="#EDB120" stroke-width="7" fill="none" stroke-linecap="butt"/>
<path d="M240.11 997.93 L241.33 998.4 L242.54 998.87 L243.76 999.34 L244.97 999.81 L246.18 1000.28 L247.4 1000.76 L248.61 1001.23 L249.82 1001.7 L251.04 1002.18 L252.25 1002.65 L253.46 1003.13 L254.67 1003.6 L255.88 1004.08 L257.09 1004.56 L258.31 1005.04 L259.52 1005.52 L260.73 1006 L261.94 1006.48 L263.15 1006.96 L264.36 1007.44 L265.57 1007.92 L266.78 1008.4 L267.99 1008.88 L269.19 1009.37 L270.4 1009.85 L271.61 1010.34 L272.82 1010.82 L274.03 1011.31 L275.24 1011.79 L276.44 1012.28 L277.65 1012.77 L278.86 1013.25 L280.06 1013.74 L281.27 1014.23 L282.48 1014.72 L283.68 1015.22 L284.88 1015.71 L286.09 1016.21 L287.29 1016.71 L288.49 1017.22 L289.69 1017.72 L290.89 1018.23 L292.09 1018.74 L293.29 1019.24 L294.49 1019.76 L295.68 1020.27 L296.88 1020.78 L298.08 1021.29 L299.27 1021.81 L300.47 1022.32 L301.67 1022.84 L302.86 1023.35 L304.06 1023.87 L305.26 1024.38 L306.45 1024.9 L307.65 1025.41 L308.85 1025.92 L310.04 1026.44 L311.24 1026.95 L312.44 1027.46 L313.64 1027.97 L314.84 1028.48 L316.04 1028.99 L317.23 1029.49 L318.44 1030 L319.64 1030.5 L320.84 1031 L322.04 1031.5 L323.24 1032 L324.45 1032.49 L325.65 1032.98 L326.86 1033.47 L328.07 1033.95 L329.28 1034.44 L330.49 1034.92 L331.7 1035.39 L332.91 1035.86 L334.13 1036.33 L335.34 1036.8 L336.56 1037.26 L337.78 1037.72 L339 1038.17 L340.22 1038.63 L341.44 1039.08 L342.66 1039.53 L343.88 1039.98 L345.1 1040.43 L346.33 1040.88 L347.55 1041.33 L348.77 1041.78 L349.99 1042.23 L351.22 1042.68 L352.44 1043.13 L353.66 1043.59 L354.88 1044.04 L356.1 1044.5 L357.31 1044.96 L358.53 1045.43 L359.75 1045.88 L360.98 1046.33 L362.21 1046.78 L363.44 1047.22 L364.68 1047.66 L365.92 1048.09 L367.16 1048.53 L368.4 1048.96 L369.64 1049.4 L370.88 1049.84 L372.11 1050.28 L373.34 1050.73 L374.57 1051.18 L375.79 1051.64 L377 1052.12 L378.21 1052.6 L379.41 1053.09 L380.6 1053.6 L381.78 1054.12 L382.95 1054.65 L384.11 1055.2 L385.26 1055.77 L386.4 1056.36 L387.55 1056.97 L388.71 1057.61 L389.88 1058.26 L391.04 1058.94 L392.19 1059.64 L393.32 1060.36 L394.42 1061.11 L395.5 1061.88 L396.53 1062.68 L397.52 1063.5 L398.45 1064.34 L399.32 1065.21 L400.15 1066.12 L400.95 1067.08 L401.74 1068.1 L402.5 1069.16 L403.24 1070.26 L403.95 1071.39 L404.63 1072.55 L405.28 1073.73 L405.9 1074.92 L406.47 1076.12 L407.01 1077.32 L407.51 1078.52 L407.97 1079.7 L408.4 1080.9 L408.82 1082.13 L409.22 1083.36 L409.61 1084.61 L409.97 1085.87 L410.32 1087.14 L410.64 1088.42 L410.95 1089.7 L411.24 1090.98 L411.51 1092.26 L411.76 1093.54 L411.99 1094.82 L412.2 1096.1 L412.4 1097.38" stroke="#7E2F8E" stroke-width="7" fill="none" stroke-linecap="butt"/>
<path d="M250.94 1003.48 L252.15 1003.95 L253.36 1004.43 L254.57 1004.9 L255.78 1005.38 L256.99 1005.86 L258.21 1006.34 L259.42 1006.82 L260.63 1007.3 L261.84 1007.78 L263.05 1008.26 L264.26 1008.74 L265.47 1009.22 L266.68 1009.7 L267.89 1010.18 L269.09 1010.67 L270.3 1011.15 L271.51 1011.64 L272.72 1012.12 L273.93 1012.61 L275.14 1013.09 L276.34 1013.58 L277.55 1014.07 L278.76 1014.55 L279.96 1015.04 L281.17 1015.53 L282.38 1016.02 L283.58 1016.52 L284.78 1017.01 L285.99 1017.51 L287.19 1018.01 L288.39 1018.52 L289.59 1019.02 L290.79 1019.53 L291.99 1020.04 L293.19 1020.54 L294.39 1021.06 L295.58 1021.57 L296.78 1022.08 L297.98 1022.59 L299.17 1023.11 L300.37 1023.62 L301.57 1024.14 L302.76 1024.65 L303.96 1025.17 L305.16 1025.68 L306.35 1026.2 L307.55 1026.71 L308.75 1027.22 L309.94 1027.74 L311.14 1028.25 L312.34 1028.76 L313.54 1029.27 L314.74 1029.78 L315.94 1030.29 L317.13 1030.79 L318.34 1031.3 L319.54 1031.8 L320.74 1032.3 L321.94 1032.8 L323.14 1033.3 L324.35 1033.79 L325.55 1034.28 L326.76 1034.77 L327.97 1035.25 L329.18 1035.74 L330.39 1036.22 L331.6 1036.69 L332.81 1037.16 L334.03 1037.63 L335.24 1038.1 L336.46 1038.56 L337.68 1039.02 L338.9 1039.47 L340.12 1039.93 L341.34 1040.38 L342.56 1040.83 L343.78 1041.28 L345 1041.73 L346.23 1042.18 L347.45 1042.63 L348.67 1043.08 L349.89 1043.53 L351.12 1043.98 L352.34 1044.43 L353.56 1044.89 L354.78 1045.34 L356 1045.8 L357.21 1046.26 L358.43 1046.73 L359.65 1047.18 L360.88 1047.63 L362.11 1048.08 L363.34 1048.52 L364.58 1048.96 L365.82 1049.39 L367.06 1049.83 L368.3 1050.26 L369.54 1050.7 L370.78 1051.14 L372.01 1051.58 L373.24 1052.03 L374.47 1052.48 L375.69 1052.94 L376.9 1053.42 L378.11 1053.9 L379.31 1054.39 L380.5 1054.9 L381.68 1055.42 L382.85 1055.95 L384.01 1056.5 L385.16 1057.07 L386.3 1057.66 L387.45 1058.27 L388.61 1058.91 L389.78 1059.56 L390.94 1060.24 L392.09 1060.94 L393.22 1061.66 L394.32 1062.41 L395.4 1063.18 L396.43 1063.98 L397.42 1064.8 L398.35 1065.64 L399.22 1066.51 L400.05 1067.42 L400.85 1068.38 L401.64 1069.4 L402.4 1070.46 L403.14 1071.56 L403.85 1072.69 L404.53 1073.85 L405.18 1075.03 L405.8 1076.22 L406.37 1077.42 L406.91 1078.62 L407.41 1079.82 L407.87 1081 L408.3 1082.2 L408.72 1083.43 L409.12 1084.66 L409.51 1085.91 L409.87 1087.17 L410.22 1088.44 L410.54 1089.72 L410.85 1091 L411.14 1092.28 L411.41 1093.56 L411.66 1094.84 L411.89 1096.12 L412.1 1097.4 L412.3 1098.68 L412.48 1099.97 L412.65 1101.26 L412.81 1102.55" stroke="#77AC30" stroke-width="7" fill="none" stroke-linecap="butt"/>
<path d="M264.16 1007.44 L265.37 1007.92 L266.58 1008.4 L267.79 1008.88 L268.99 1009.37 L270.2 1009.85 L271.41 1010.34 L272.62 1010.82 L273.83 1011.31 L275.04 1011.79 L276.24 1012.28 L277.45 1012.77 L278.66 1013.25 L279.86 1013.74 L281.07 1014.23 L282.28 1014.72 L283.48 1015.22 L284.68 1015.71 L285.89 1016.21 L287.09 1016.71 L288.29 1017.22 L289.49 1017.72 L290.69 1018.23 L291.89 1018.74 L293.09 1019.24 L294.29 1019.76 L295.48 1020.27 L296.68 1020.78 L297.88 1021.29 L299.07 1021.81 L300.27 1022.32 L301.47 1022.84 L302.66 1023.35 L303.86 1023.87 L305.06 1024.38 L306.25 1024.9 L307.45 1025.41 L308.65 1025.92 L309.84 1026.44 L311.04 1026.95 L312.24 1027.46 L313.44 1027.97 L314.64 1028.48 L315.84 1028.99 L317.03 1029.49 L318.24 1030 L319.44 1030.5 L320.64 1031 L321.84 1031.5 L323.04 1032 L324.25 1032.49 L325.45 1032.98 L326.66 1033.47 L327.87 1033.95 L329.08 1034.44 L330.29 1034.92 L331.5 1035.39 L332.71 1035.86 L333.93 1036.33 L335.14 1036.8 L336.36 1037.26 L337.58 1037.72 L338.8 1038.17 L340.02 1038.63 L341.24 1039.08 L342.46 1039.53 L343.68 1039.98 L344.9 1040.43 L346.13 1040.88 L347.35 1041.33 L348.57 1041.78 L349.79 1042.23 L351.02 1042.68 L352.24 1043.13 L353.46 1043.59 L354.68 1044.04 L355.9 1044.5 L357.11 1044.96 L358.33 1045.43 L359.55 1045.88 L360.78 1046.33 L362.01 1046.78 L363.24 1047.22 L364.48 1047.66 L365.72 1048.09 L366.96 1048.53 L368.2 1048.96 L369.44 1049.4 L370.68 1049.84 L371.91 1050.28 L373.14 1050.73 L374.37 1051.18 L375.59 1051.64 L376.8 1052.12 L378.01 1052.6 L379.21 1053.09 L380.4 1053.6 L381.58 1054.12 L382.75 1054.65 L383.91 1055.2 L385.06 1055.77 L386.2 1056.36 L387.35 1056.97 L388.51 1057.61 L389.68 1058.26 L390.84 1058.94 L391.99 1059.64 L393.12 1060.36 L394.22 1061.11 L395.3 1061.88 L396.33 1062.68 L397.32 1063.5 L398.25 1064.34 L399.12 1065.21 L399.95 1066.12 L400.75 1067.08 L401.54 1068.1 L402.3 1069.16 L403.04 1070.26 L403.75 1071.39 L404.43 1072.55 L405.08 1073.73 L405.7 1074.92 L406.27 1076.12 L406.81 1077.32 L407.31 1078.52 L407.77 1079.7 L408.2 1080.9 L408.62 1082.13 L409.02 1083.36 L409.41 1084.61 L409.77 1085.87 L410.12 1087.14 L410.44 1088.42 L410.75 1089.7 L411.04 1090.98 L411.31 1092.26 L411.56 1093.54 L411.79 1094.82 L412 1096.1 L412.2 1097.38 L412.38 1098.67 L412.55 1099.96 L412.71 1101.25 L412.86 1102.55 L413.02 1103.84 L413.17 1105.14" stroke="#4DBEEE" stroke-width="7" fill="none" stroke-linecap="butt"/>
<path d="M273.73 1011.31 L274.94 1011.79 L276.14 1012.28 L277.35 1012.77 L278.56 1013.25 L279.76 1013.74 L280.97 1014.23 L282.18 1014.72 L283.38 1015.22 L284.58 1015.71 L285.79 1016.21 L286.99 1016.71 L288.19 1017.22 L289.39 1017.72 L290.59 1018.23 L291.79 1018.74 L292.99 1019.24 L294.19 1019.76 L295.38 1020.27 L296.58 1020.78 L297.78 1021.29 L298.97 1021.81 L300.17 1022.32 L301.37 1022.84 L302.56 1023.35 L303.76 1023.87 L304.96 1024.38 L306.15 1024.9 L307.35 1025.41 L308.55 1025.92 L309.74 1026.44 L310.94 1026.95 L312.14 1027.46 L313.34 1027.97 L314.54 1028.48 L315.74 1028.99 L316.93 1029.49 L318.14 1030 L319.34 1030.5 L320.54 1031 L321.74 1031.5 L322.94 1032 L324.15 1032.49 L325.35 1032.98 L326.56 1033.47 L327.77 1033.95 L328.98 1034.44 L330.19 1034.92 L331.4 1035.39 L332.61 1035.86 L333.83 1036.33 L335.04 1036.8 L336.26 1037.26 L337.48 1037.72 L338.7 1038.17 L339.92 1038.63 L341.14 1039.08 L342.36 1039.53 L343.58 1039.98 L344.8 1040.43 L346.03 1040.88 L347.25 1041.33 L348.47 1041.78 L349.69 1042.23 L350.92 1042.68 L352.14 1043.13 L353.36 1043.59 L354.58 1044.04 L355.8 1044.5 L357.01 1044.96 L358.23 1045.43 L359.45 1045.88 L360.68 1046.33 L361.91 1046.78 L363.14 1047.22 L364.38 1047.66 L365.62 1048.09 L366.86 1048.53 L368.1 1048.96 L369.34 1049.4 L370.58 1049.84 L371.81 1050.28 L373.04 1050.73 L374.27 1051.18 L375.49 1051.64 L376.7 1052.12 L377.91 1052.6 L379.11 1053.09 L380.3 1053.6 L381.48 1054.12 L382.65 1054.65 L383.81 1055.2 L384.96 1055.77 L386.1 1056.36 L387.25 1056.97 L388.41 1057.61 L389.58 1058.26 L390.74 1058.94 L391.89 1059.64 L393.02 1060.36 L394.12 1061.11 L395.2 1061.88 L396.23 1062.68 L397.22 1063.5 L398.15 1064.34 L399.02 1065.21 L399.85 1066.12 L400.65 1067.08 L401.44 1068.1 L402.2 1069.16 L402.94 1070.26 L403.65 1071.39 L404.33 1072.55 L404.98 1073.73 L405.6 1074.92 L406.17 1076.12 L406.71 1077.32 L407.21 1078.52 L407.67 1079.7 L408.1 1080.9 L408.52 1082.13 L408.92 1083.36 L409.31 1084.61 L409.67 1085.87 L410.02 1087.14 L410.34 1088.42 L410.65 1089.7 L410.94 1090.98 L411.21 1092.26 L411.46 1093.54 L411.69 1094.82 L411.9 1096.1 L412.1 1097.38 L412.28 1098.67 L412.45 1099.96 L412.61 1101.25 L412.76 1102.55 L412.92 1103.84 L413.07 1105.14 L413.22 1106.44 L413.38 1107.73 L413.55 1109.02" stroke="#A2142F" stroke-width="7" fill="none" stroke-linecap="butt"/>
<path d="M283.28 1015.22 L284.48 1015.71 L285.69 1016.21 L286.89 1016.71 L288.09 1017.22 L289.29 1017.72 L290.49 1018.23 L291.69 1018.74 L292.89 1019.24 L294.09 1019.76 L295.28 1020.27 L296.48 1020.78 L297.68 1021.29 L298.87 1021.81 L300.07 1022.32 L301.27 1022.84 L302.46 1023.35 L303.66 1023.87 L304.86 1024.38 L306.05 1024.9 L307.25 1025.41 L308.45 1025.92 L309.64 1026.44 L310.84 1026.95 L312.04 1027.46 L313.24 1027.97 L314.44 1028.48 L315.64 1028.99 L316.83 1029.49 L318.04 1030 L319.24 1030.5 L320.44 1031 L321.64 1031.5 L322.84 1032 L324.05 1032.49 L325.25 1032.98 L326.46 1033.47 L327.67 1033.95 L328.88 1034.44 L330.09 1034.92 L331.3 1035.39 L332.51 1035.86 L333.73 1036.33 L334.94 1036.8 L336.16 1037.26 L337.38 1037.72 L338.6 1038.17 L339.82 1038.63 L341.04 1039.08 L342.26 1039.53 L343.48 1039.98 L344.7 1040.43 L345.93 1040.88 L347.15 1041.33 L348.37 1041.78 L349.59 1042.23 L350.82 1042.68 L352.04 1043.13 L353.26 1043.59 L354.48 1044.04 L355.7 1044.5 L356.91 1044.96 L358.13 1045.43 L359.35 1045.88 L360.58 1046.33 L361.81 1046.78 L363.04 1047.22 L364.28 1047.66 L365.52 1048.09 L366.76 1048.53 L368 1048.96 L369.24 1049.4 L370.48 1049.84 L371.71 1050.28 L372.94 1050.73 L374.17 1051.18 L375.39 1051.64 L376.6 1052.12 L377.81 1052.6 L379.01 1053.09 L380.2 1053.6 L381.38 1054.12 L382.55 1054.65 L383.71 1055.2 L384.86 1055.77 L386 1056.36 L387.15 1056.97 L388.31 1057.61 L389.48 1058.26 L390.64 1058.94 L391.79 1059.64 L392.92 1060.36 L394.02 1061.11 L395.1 1061.88 L396.13 1062.68 L397.12 1063.5 L398.05 1064.34 L398.92 1065.21 L399.75 1066.12 L400.55 1067.08 L401.34 1068.1 L402.1 1069.16 L402.84 1070.26 L403.55 1071.39 L404.23 1072.55 L404.88 1073.73 L405.5 1074.92 L406.07 1076.12 L406.61 1077.32 L407.11 1078.52 L407.57 1079.7 L408 1080.9 L408.42 1082.13 L408.82 1083.36 L409.21 1084.61 L409.57 1085.87 L409.92 1087.14 L410.24 1088.42 L410.55 1089.7 L410.84 1090.98 L411.11 1092.26 L411.36 1093.54 L411.59 1094.82 L411.8 1096.1 L412 1097.38 L412.18 1098.67 L412.35 1099.96 L412.51 1101.25 L412.66 1102.55 L412.82 1103.84 L412.97 1105.14 L413.12 1106.44 L413.28 1107.73 L413.45 1109.02 L413.62 1110.31 L413.8 1111.6 L413.98 1112.89" stroke="#0072BD" stroke-width="7" fill="none" stroke-linecap="butt"/>
<path d="M293.99 1019.76 L295.18 1020.27 L296.38 1020.78 L297.58 1021.29 L298.77 1021.81 L299.97 1022.32 L301.17 1022.84 L302.36 1023.35 L303.56 1023.87 L304.76 1024.38 L305.95 1024.9 L307.15 1025.41 L308.35 1025.92 L309.54 1026.44 L310.74 1026.95 L311.94 1027.46 L313.14 1027.97 L314.34 1028.48 L315.54 1028.99 L316.73 1029.49 L317.94 1030 L319.14 1030.5 L320.34 1031 L321.54 1031.5 L322.74 1032 L323.95 1032.49 L325.15 1032.98 L326.36 1033.47 L327.57 1033.95 L328.78 1034.44 L329.99 1034.92 L331.2 1035.39 L332.41 1035.86 L333.63 1036.33 L334.84 1036.8 L336.06 1037.26 L337.28 1037.72 L338.5 1038.17 L339.72 1038.63 L340.94 1039.08 L342.16 1039.53 L343.38 1039.98 L344.6 1040.43 L345.83 1040.88 L347.05 1041.33 L348.27 1041.78 L349.49 1042.23 L350.72 1042.68 L351.94 1043.13 L353.16 1043.59 L354.38 1044.04 L355.6 1044.5 L356.81 1044.96 L358.03 1045.43 L359.25 1045.88 L360.48 1046.33 L361.71 1046.78 L362.94 1047.22 L364.18 1047.66 L365.42 1048.09 L366.66 1048.53 L367.9 1048.96 L369.14 1049.4 L370.38 1049.84 L371.61 1050.28 L372.84 1050.73 L374.07 1051.18 L375.29 1051.64 L376.5 1052.12 L377.71 1052.6 L378.91 1053.09 L380.1 1053.6 L381.28 1054.12 L382.45 1054.65 L383.61 1055.2 L384.76 1055.77 L385.9 1056.36 L387.05 1056.97 L388.21 1057.61 L389.38 1058.26 L390.54 1058.94 L391.69 1059.64 L392.82 1060.36 L393.92 1061.11 L395 1061.88 L396.03 1062.68 L397.02 1063.5 L397.95 1064.34 L398.82 1065.21 L399.65 1066.12 L400.45 1067.08 L401.24 1068.1 L402 1069.16 L402.74 1070.26 L403.45 1071.39 L404.13 1072.55 L404.78 1073.73 L405.4 1074.92 L405.97 1076.12 L406.51 1077.32 L407.01 1078.52 L407.47 1079.7 L407.9 1080.9 L408.32 1082.13 L408.72 1083.36 L409.11 1084.61 L409.47 1085.87 L409.82 1087.14 L410.14 1088.42 L410.45 1089.7 L410.74 1090.98 L411.01 1092.26 L411.26 1093.54 L411.49 1094.82 L411.7 1096.1 L411.9 1097.38 L412.08 1098.67 L412.25 1099.96 L412.41 1101.25 L412.56 1102.55 L412.72 1103.84 L412.87 1105.14 L413.02 1106.44 L413.18 1107.73 L413.35 1109.02 L413.52 1110.31 L413.7 1111.6 L413.88 1112.89 L414.05 1114.18 L414.23 1115.47 L414.41 1116.76" stroke="#D95319" stroke-width="7" fill="none" stroke-linecap="butt"/>
<path d="M302.26 1022.45 L303.46 1022.97 L304.66 1023.48 L305.85 1024 L307.05 1024.51 L308.25 1025.02 L309.44 1025.54 L310.64 1026.05 L311.84 1026.56 L313.04 1027.07 L314.24 1027.58 L315.44 1028.09 L316.63 1028.59 L317.84 1029.1 L319.04 1029.6 L320.24 1030.1 L321.44 1030.6 L322.64 1031.1 L323.85 1031.59 L325.05 1032.08 L326.26 1032.57 L327.47 1033.05 L328.68 1033.54 L329.89 1034.02 L331.1 1034.49 L332.31 1034.96 L333.53 1035.43 L334.74 1035.9 L335.96 1036.36 L337.18 1036.82 L338.4 1037.27 L339.62 1037.73 L340.84 1038.18 L342.06 1038.63 L343.28 1039.08 L344.5 1039.53 L345.73 1039.98 L346.95 1040.43 L348.17 1040.88 L349.39 1041.33 L350.62 1041.78 L351.84 1042.23 L353.06 1042.69 L354.28 1043.14 L355.5 1043.6 L356.71 1044.06 L357.93 1044.53 L359.15 1044.98 L360.38 1045.43 L361.61 1045.88 L362.84 1046.32 L364.08 1046.76 L365.32 1047.19 L366.56 1047.63 L367.8 1048.06 L369.04 1048.5 L370.28 1048.94 L371.51 1049.38 L372.74 1049.83 L373.97 1050.28 L375.19 1050.74 L376.4 1051.22 L377.61 1051.7 L378.81 1052.19 L380 1052.7 L381.18 1053.22 L382.35 1053.75 L383.51 1054.3 L384.66 1054.87 L385.8 1055.46 L386.95 1056.07 L388.11 1056.71 L389.28 1057.36 L390.44 1058.04 L391.59 1058.74 L392.72 1059.46 L393.82 1060.21 L394.9 1060.98 L395.93 1061.78 L396.92 1062.6 L397.85 1063.44 L398.72 1064.31 L399.55 1065.22 L400.35 1066.18 L401.14 1067.2 L401.9 1068.26 L402.64 1069.36 L403.35 1070.49 L404.03 1071.65 L404.68 1072.83 L405.3 1074.02 L405.87 1075.22 L406.41 1076.42 L406.91 1077.62 L407.37 1078.8 L407.8 1080 L408.22 1081.23 L408.62 1082.46 L409.01 1083.71 L409.37 1084.97 L409.72 1086.24 L410.04 1087.52 L410.35 1088.8 L410.64 1090.08 L410.91 1091.36 L411.16 1092.64 L411.39 1093.92 L411.6 1095.2 L411.8 1096.48 L411.98 1097.77 L412.15 1099.06 L412.31 1100.35 L412.46 1101.65 L412.62 1102.94 L412.77 1104.24 L412.92 1105.54 L413.08 1106.83 L413.25 1108.12 L413.42 1109.41 L413.6 1110.7 L413.78 1111.99 L413.95 1113.28 L414.13 1114.57 L414.31 1115.86 L414.49 1117.15 L414.67 1118.44 L414.85 1119.73" stroke="#EDB120" stroke-width="7" fill="none" stroke-linecap="butt"/>
<path d="M308.15 1025.92 L309.34 1026.44 L310.54 1026.95 L311.74 1027.46 L312.94 1027.97 L314.14 1028.48 L315.34 1028.99 L316.53 1029.49 L317.74 1030 L318.94 1030.5 L320.14 1031 L321.34 1031.5 L322.54 1032 L323.75 1032.49 L324.95 1032.98 L326.16 1033.47 L327.37 1033.95 L328.58 1034.44 L329.79 1034.92 L331 1035.39 L332.21 1035.86 L333.43 1036.33 L334.64 1036.8 L335.86 1037.26 L337.08 1037.72 L338.3 1038.17 L339.52 1038.63 L340.74 1039.08 L341.96 1039.53 L343.18 1039.98 L344.4 1040.43 L345.63 1040.88 L346.85 1041.33 L348.07 1041.78 L349.29 1042.23 L350.52 1042.68 L351.74 1043.13 L352.96 1043.59 L354.18 1044.04 L355.4 1044.5 L356.61 1044.96 L357.83 1045.43 L359.05 1045.88 L360.28 1046.33 L361.51 1046.78 L362.74 1047.22 L363.98 1047.66 L365.22 1048.09 L366.46 1048.53 L367.7 1048.96 L368.94 1049.4 L370.18 1049.84 L371.41 1050.28 L372.64 1050.73 L373.87 1051.18 L375.09 1051.64 L376.3 1052.12 L377.51 1052.6 L378.71 1053.09 L379.9 1053.6 L381.08 1054.12 L382.25 1054.65 L383.41 1055.2 L384.56 1055.77 L385.7 1056.36 L386.85 1056.97 L388.01 1057.61 L389.18 1058.26 L390.34 1058.94 L391.49 1059.64 L392.62 1060.36 L393.72 1061.11 L394.8 1061.88 L395.83 1062.68 L396.82 1063.5 L397.75 1064.34 L398.62 1065.21 L399.45 1066.12 L400.25 1067.08 L401.04 1068.1 L401.8 1069.16 L402.54 1070.26 L403.25 1071.39 L403.93 1072.55 L404.58 1073.73 L405.2 1074.92 L405.77 1076.12 L406.31 1077.32 L406.81 1078.52 L407.27 1079.7 L407.7 1080.9 L408.12 1082.13 L408.52 1083.36 L408.91 1084.61 L409.27 1085.87 L409.62 1087.14 L409.94 1088.42 L410.25 1089.7 L410.54 1090.98 L410.81 1092.26 L411.06 1093.54 L411.29 1094.82 L411.5 1096.1 L411.7 1097.38 L411.88 1098.67 L412.05 1099.96 L412.21 1101.25 L412.36 1102.55 L412.52 1103.84 L412.67 1105.14 L412.82 1106.44 L412.98 1107.73 L413.15 1109.02 L413.32 1110.31 L413.5 1111.6 L413.68 1112.89 L413.85 1114.18 L414.03 1115.47 L414.21 1116.76 L414.39 1118.05 L414.57 1119.34 L414.75 1120.63 L414.93 1121.92 L415.12 1123.21 L415.3 1124.5" stroke="#7E2F8E" stroke-width="7" fill="none" stroke-linecap="butt"/>
<path d="M412.75 1085.83L416.11 1091.64L409.4 1091.64Z" stroke="#D95319" stroke-width="1.5" fill="none"/>
<path d="M417.43 1093.54L411.63 1090.19L411.63 1096.9Z" stroke="#EDB120" stroke-width="1.5" fill="none"/>
<path d="M411.27 1097.38a2.93 2.93 0 1 0 5.85 0a2.93 2.93 0 1 0 -5.85 0" stroke="#7E2F8E" stroke-width="1.5" fill="none"/>
<path d="M414.71 1097.45L417.61 1101.25L414.71 1105.05L411.81 1101.25Z" stroke="#77AC30" stroke-width="1.5" fill="none"/>
<path d="M412.47 1105.14L417.87 1105.14M415.17 1102.44L415.17 1107.84M413.23 1103.2L417.1 1107.07M413.23 1107.07L417.1 1103.2" stroke="#4DBEEE" stroke-width="1.5" fill="#4DBEEE"/>
<path d="M412.95 1109.02L418.35 1109.02M415.65 1106.32L415.65 1111.72" stroke="#A2142F" stroke-width="1.5" fill="#A2142F"/>
<path d="M414.17 1110.89L418.18 1114.9M414.17 1114.9L418.18 1110.89" stroke="#0072BD" stroke-width="1.5" fill="#0072BD"/>
<path d="M414.53 1114.58L418.89 1114.58L418.89 1118.95L414.53 1118.95Z" stroke="#D95319" stroke-width="1.5" fill="#D95319"/>
<path d="M417.25 1117.44L417.97 1119.64L420.29 1119.64L418.41 1121.01L419.13 1123.22L417.25 1121.85L415.37 1123.22L416.09 1121.01L414.21 1119.64L416.54 1119.64Z" stroke="#EDB120" stroke-width="1.5" fill="#EDB120"/>
<path d="M415.3 1121.44L416.18 1122.97L417.95 1122.97L417.07 1124.5L417.95 1126.03L416.18 1126.03L415.3 1127.56L414.42 1126.03L412.65 1126.03L413.53 1124.5L412.65 1122.97L414.42 1122.97Z" stroke="#7E2F8E" stroke-width="1.5" fill="#7E2F8E"/>
<rect x="481.3" y="714.7" width="285.6" height="117" fill="#fff" stroke="#262626" stroke-width="1.1"/>
<path d="M519.5 720L526.95 732.9L512.05 732.9Z" stroke="#D95319" fill="none" stroke-width="1.15"/>
<text x="555" y="736.6" font-size="19.6" text-anchor="start" font-style="italic" font-weight="normal">t=680</text>
<path d="M513 751.1a6.5 6.5 0 1 0 13 0a6.5 6.5 0 1 0 -13 0" stroke="#7E2F8E" fill="none" stroke-width="1.15"/>
<text x="555" y="759.1" font-size="19.6" text-anchor="start" font-style="italic" font-weight="normal">t=1400</text>
<path d="M513.5 773.5L525.5 773.5M519.5 767.5L519.5 779.5M515.2 769.2L523.8 777.8M515.2 777.8L523.8 769.2" stroke="#4DBEEE" fill="none" stroke-width="1.15"/>
<text x="555" y="781.5" font-size="19.6" text-anchor="start" font-style="italic" font-weight="normal">t=3000</text>
<path d="M515.05 791.35L523.95 800.25M515.05 800.25L523.95 791.35" stroke="#0072BD" fill="none" stroke-width="1.15"/>
<text x="555" y="803.8" font-size="19.6" text-anchor="start" font-style="italic" font-weight="normal">t=5300</text>
<path d="M519.5 810.7L521.09 815.61L526.25 815.61L522.08 818.64L523.67 823.54L519.5 820.51L515.33 823.54L516.92 818.64L512.75 815.61L517.91 815.61Z" stroke="#EDB120" fill="none" stroke-width="1.15"/>
<text x="555" y="825.8" font-size="19.6" text-anchor="start" font-style="italic" font-weight="normal">t=9600</text>
<path d="M666.3 728.9L653.4 721.45L653.4 736.35Z" stroke="#EDB120" fill="none" stroke-width="1.15"/>
<text x="693.2" y="736.9" font-size="19.6" text-anchor="start" font-style="italic" font-weight="normal">t=1000</text>
<path d="M657.6 742.75L664.05 751.2L657.6 759.65L651.15 751.2Z" stroke="#77AC30" fill="none" stroke-width="1.15"/>
<text x="693.1" y="759.2" font-size="19.6" text-anchor="start" font-style="italic" font-weight="normal">t=2000</text>
<path d="M651.6 773.5L663.6 773.5M657.6 767.5L657.6 779.5" stroke="#A2142F" fill="none" stroke-width="1.15"/>
<text x="693.1" y="781.5" font-size="19.6" text-anchor="start" font-style="italic" font-weight="normal">t=4000</text>
<path d="M652.75 791.05L662.45 791.05L662.45 800.75L652.75 800.75Z" stroke="#D95319" fill="none" stroke-width="1.15"/>
<text x="693.1" y="803.9" font-size="19.6" text-anchor="start" font-style="italic" font-weight="normal">t=7500</text>
<path d="M657.6 811.2L659.56 814.6L663.49 814.6L661.53 818L663.49 821.4L659.56 821.4L657.6 824.8L655.64 821.4L651.71 821.4L653.67 818L651.71 814.6L655.64 814.6Z" stroke="#7E2F8E" fill="none" stroke-width="1.15"/>
<text x="693.1" y="826" font-size="19.6" text-anchor="start" font-style="italic" font-weight="normal">t=12000</text>
</svg></body></html>
